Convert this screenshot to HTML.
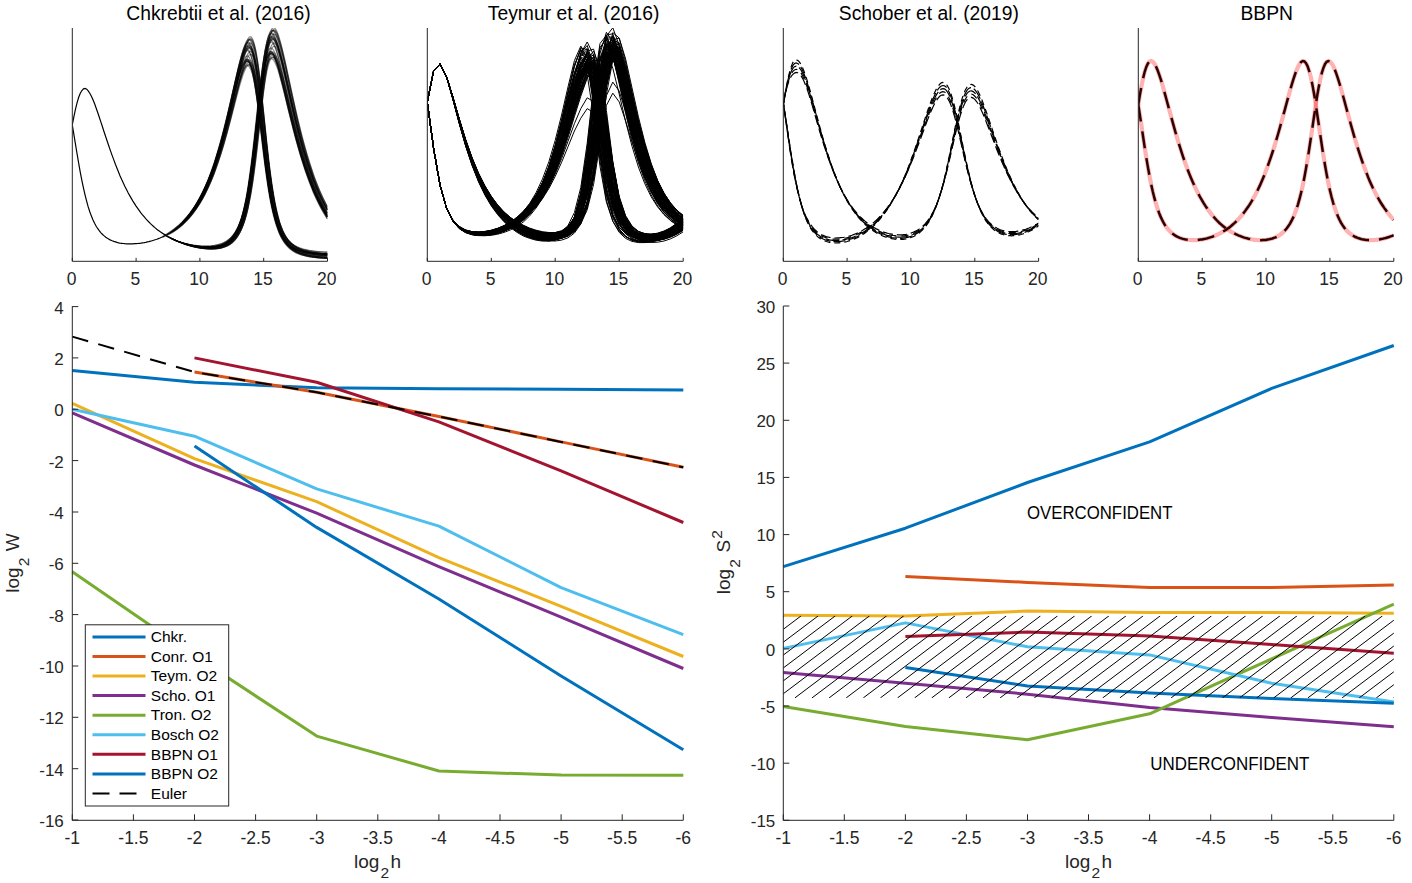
<!DOCTYPE html>
<html><head><meta charset="utf-8"><style>html,body{margin:0;padding:0;background:#fff;overflow:hidden}svg{display:block}text{font-family:"Liberation Sans",sans-serif}</style></head>
<body><svg width="1412" height="883" viewBox="0 0 1412 883"><defs><clipPath id="clip0"><rect x="72.3" y="28.0" width="255.2" height="233.3"/></clipPath><clipPath id="clip1"><rect x="427.3" y="28.0" width="255.9" height="233.3"/></clipPath><clipPath id="clip2"><rect x="783.3" y="28.0" width="255.3" height="233.3"/></clipPath><clipPath id="clip3"><rect x="1138.3" y="28.0" width="255.5" height="233.3"/></clipPath></defs><rect width="1412" height="883" fill="#fff"/>
<g clip-path="url(#clip0)">
<linearGradient id="chkm" gradientUnits="userSpaceOnUse" x1="174.4" y1="0" x2="199.9" y2="0"><stop offset="0" stop-color="#000" stop-opacity="1"/><stop offset="1" stop-color="#000" stop-opacity="0"/></linearGradient>
<path d="M72.3 125.0L73.9 134.6L75.5 144.4L77.1 154.0L78.7 163.4L80.3 172.3L81.9 180.6L83.5 188.2L85.1 195.1L86.7 201.4L88.2 206.9L89.8 211.8L91.4 216.1L93.0 219.9L94.6 223.3L96.2 226.2L97.8 228.7L99.4 230.9L101.0 232.8L102.6 234.5L104.2 235.9L105.8 237.2L107.4 238.3L109.0 239.2L110.6 240.1L112.2 240.8L113.8 241.4L115.4 241.9L117.0 242.4L118.6 242.8L120.1 243.1L121.7 243.3L123.3 243.5L124.9 243.7L126.5 243.8L128.1 243.9L129.7 243.9L131.3 243.9L132.9 243.8L134.5 243.7L136.1 243.6L137.7 243.5L139.3 243.3L140.9 243.1L142.5 242.8L144.1 242.6L145.7 242.3L147.3 241.9L148.9 241.6L150.5 241.2L152.1 240.7L153.6 240.2L155.2 239.7L156.8 239.2L158.4 238.6L160.0 238.0L161.6 237.3L163.2 236.6L164.8 235.8L166.4 235.0L168.0 234.1L169.6 233.2L171.2 232.3L172.8 231.2L174.4 230.1L176.0 229.0L177.6 227.7L179.2 226.4L180.8 225.0L182.4 223.5L183.9 222.0L185.5 220.3L187.1 218.6L188.7 216.7L190.3 214.8L191.9 212.7L193.5 210.5L195.1 208.2L196.7 205.7L198.3 203.1L199.9 200.4L201.5 197.5L203.1 194.4L204.7 191.2L206.3 187.8L207.9 184.2L209.5 180.4L211.1 176.4L212.7 172.2L214.3 167.8L215.8 163.2L217.4 158.4L219.0 153.3L220.6 148.0L222.2 142.4L223.8 136.6L225.4 130.7L227.0 124.5L228.6 118.1L230.2 111.5L231.8 104.8L233.4 98.1L235.0 91.3L236.6 84.6L238.2 78.0L239.8 71.7L241.4 65.9L243.0 60.6L244.6 56.2L246.2 52.9L247.8 50.8L249.3 50.4L250.9 51.9L252.5 55.4L254.1 61.2L255.7 69.2L257.3 79.3L258.9 91.3L260.5 104.7L262.1 118.9L263.7 133.4L265.3 147.7L266.9 161.3L268.5 173.8L270.1 185.1L271.7 195.2L273.3 203.9L274.9 211.5L276.5 217.9L278.1 223.4L279.6 228.0L281.2 232.0L282.8 235.3L284.4 238.1L286.0 240.5L287.6 242.5L289.2 244.2L290.8 245.7L292.4 247.0L294.0 248.1L295.6 249.0L297.2 249.8L298.8 250.5L300.4 251.2L302.0 251.7L303.6 252.2L305.2 252.6L306.8 253.0L308.4 253.4L310.0 253.7L311.6 253.9L313.1 254.2L314.7 254.4L316.3 254.6L317.9 254.7L319.5 254.9L321.1 255.0L322.7 255.1L324.3 255.3L325.9 255.3L327.5 255.4" fill="none" stroke="url(#chkm)" stroke-width="1.2"/>
<path d="M72.3 125.0L73.9 116.6L75.5 109.1L77.1 102.6L78.7 97.3L80.3 93.2L81.9 90.5L83.5 88.9L85.1 88.5L86.7 89.2L88.2 90.8L89.8 93.2L91.4 96.2L93.0 99.8L94.6 103.8L96.2 108.2L97.8 112.8L99.4 117.5L101.0 122.4L102.6 127.3L104.2 132.2L105.8 137.0L107.4 141.8L109.0 146.5L110.6 151.1L112.2 155.6L113.8 159.9L115.4 164.2L117.0 168.2L118.6 172.2L120.1 175.9L121.7 179.6L123.3 183.0L124.9 186.4L126.5 189.6L128.1 192.7L129.7 195.6L131.3 198.4L132.9 201.1L134.5 203.6L136.1 206.1L137.7 208.4L139.3 210.6L140.9 212.8L142.5 214.8L144.1 216.7L145.7 218.6L147.3 220.3L148.9 222.0L150.5 223.6L152.1 225.1L153.6 226.5L155.2 227.9L156.8 229.2L158.4 230.4L160.0 231.6L161.6 232.7L163.2 233.8L164.8 234.8L166.4 235.8L168.0 236.7L169.6 237.5L171.2 238.4L172.8 239.1L174.4 239.9L176.0 240.6L177.6 241.2L179.2 241.9L180.8 242.4L182.4 243.0L183.9 243.5L185.5 244.0L187.1 244.5L188.7 244.9L190.3 245.3L191.9 245.6L193.5 246.0L195.1 246.3L196.7 246.6L198.3 246.8L199.9 247.0L201.5 247.2L203.1 247.4L204.7 247.5L206.3 247.6L207.9 247.6L209.5 247.6L211.1 247.6L212.7 247.5L214.3 247.4L215.8 247.2L217.4 247.0L219.0 246.6L220.6 246.3L222.2 245.8L223.8 245.2L225.4 244.5L227.0 243.7L228.6 242.7L230.2 241.5L231.8 240.1L233.4 238.5L235.0 236.5L236.6 234.2L238.2 231.4L239.8 228.1L241.4 224.2L243.0 219.6L244.6 214.1L246.2 207.6L247.8 200.1L249.3 191.3L250.9 181.1L252.5 169.7L254.1 157.0L255.7 143.3L257.3 128.8L258.9 113.9L260.5 99.4L262.1 85.6L263.7 73.2L265.3 62.6L266.9 54.1L268.5 47.9L270.1 43.9L271.7 42.1L273.3 42.2L274.9 44.0L276.5 47.2L278.1 51.5L279.6 56.7L281.2 62.6L282.8 69.0L284.4 75.7L286.0 82.6L287.6 89.7L289.2 96.7L290.8 103.7L292.4 110.6L294.0 117.4L295.6 124.0L297.2 130.4L298.8 136.6L300.4 142.6L302.0 148.4L303.6 154.0L305.2 159.3L306.8 164.4L308.4 169.3L310.0 174.0L311.6 178.4L313.1 182.7L314.7 186.8L316.3 190.6L317.9 194.3L319.5 197.8L321.1 201.1L322.7 204.3L324.3 207.3L325.9 210.2L327.5 212.9" fill="none" stroke="url(#chkm)" stroke-width="1.2"/>
<linearGradient id="chkg" gradientUnits="userSpaceOnUse" x1="161.6" y1="0" x2="199.9" y2="0"><stop offset="0" stop-color="#000" stop-opacity="0"/><stop offset="1" stop-color="#000" stop-opacity="0.45"/></linearGradient>
<path d="M161.6 238.1L163.2 237.4L164.8 236.7L166.4 235.9L168.0 235.1L169.6 234.2L171.2 233.3L172.8 232.3L174.4 231.3L176.0 230.2L177.6 229.0L179.2 227.7L180.8 226.4L182.4 225.0L183.9 223.5L185.5 221.9L187.1 220.3L188.7 218.5L190.3 216.7L191.9 214.7L193.5 212.7L195.1 210.5L196.7 208.2L198.3 205.8L199.9 203.2L201.5 200.5L203.1 197.7L204.7 194.6L206.3 191.5L207.9 188.1L209.5 184.6L211.1 180.9L212.7 177.1L214.3 173.0L215.8 168.7L217.4 164.2L219.0 159.5L220.6 154.5L222.2 149.4L223.8 144.0L225.4 138.4L227.0 132.6L228.6 126.6L230.2 120.5L231.8 114.1L233.4 107.7L235.0 101.1L236.6 94.6L238.2 88.0L239.8 81.7L241.4 75.6L243.0 69.9L244.6 64.7L246.2 60.4L247.8 57.0L249.3 55.0L250.9 54.4L252.5 55.6L254.1 58.7L255.7 64.1L257.3 71.7L258.9 81.4L260.5 93.0L262.1 106.0L263.7 119.9L265.3 134.2L266.9 148.3L268.5 161.7L270.1 174.2L271.7 185.4L273.3 195.3L274.9 203.9L276.5 211.3L278.1 217.6L279.6 223.0L281.2 227.5L282.8 231.3L284.4 234.5L286.0 237.3L287.6 239.6L289.2 241.5L290.8 243.2L292.4 244.6L294.0 245.8L295.6 246.8L297.2 247.7L298.8 248.5L300.4 249.2L302.0 249.8L303.6 250.3L305.2 250.8L306.8 251.2L308.4 251.6L310.0 251.9L311.6 252.2L313.1 252.4L314.7 252.7L316.3 252.9L317.9 253.1L319.5 253.2L321.1 253.4L322.7 253.5L324.3 253.6L325.9 253.7L327.5 253.8" fill="none" stroke="url(#chkg)" stroke-width="1.2"/>
<path d="M161.6 232.7L163.2 233.7L164.8 234.8L166.4 235.7L168.0 236.7L169.6 237.5L171.2 238.4L172.8 239.2L174.4 239.9L176.0 240.6L177.6 241.2L179.2 241.8L180.8 242.4L182.4 242.9L183.9 243.4L185.5 243.9L187.1 244.3L188.7 244.8L190.3 245.1L191.9 245.5L193.5 245.8L195.1 246.1L196.7 246.3L198.3 246.6L199.9 246.8L201.5 247.0L203.1 247.1L204.7 247.2L206.3 247.3L207.9 247.3L209.5 247.4L211.1 247.3L212.7 247.3L214.3 247.2L215.8 247.0L217.4 246.8L219.0 246.6L220.6 246.2L222.2 245.9L223.8 245.4L225.4 244.8L227.0 244.1L228.6 243.3L230.2 242.4L231.8 241.3L233.4 240.0L235.0 238.4L236.6 236.5L238.2 234.3L239.8 231.7L241.4 228.7L243.0 225.0L244.6 220.6L246.2 215.5L247.8 209.4L249.3 202.2L250.9 193.8L252.5 184.2L254.1 173.2L255.7 161.0L257.3 147.6L258.9 133.4L260.5 118.8L262.1 104.4L263.7 90.7L265.3 78.3L266.9 67.6L268.5 59.0L270.1 52.6L271.7 48.5L273.3 46.5L274.9 46.4L276.5 48.0L278.1 51.0L279.6 55.2L281.2 60.2L282.8 65.9L284.4 72.1L286.0 78.6L287.6 85.3L289.2 92.2L290.8 99.0L292.4 105.8L294.0 112.5L295.6 119.1L297.2 125.5L298.8 131.8L300.4 137.8L302.0 143.7L303.6 149.3L305.2 154.7L306.8 159.9L308.4 164.8L310.0 169.6L311.6 174.1L313.1 178.5L314.7 182.6L316.3 186.6L317.9 190.3L319.5 193.9L321.1 197.3L322.7 200.6L324.3 203.6L325.9 206.6L327.5 209.3" fill="none" stroke="url(#chkg)" stroke-width="1.2"/>
<path d="M161.6 237.1L163.2 236.4L164.8 235.6L166.4 234.8L168.0 234.0L169.6 233.0L171.2 232.0L172.8 231.0L174.4 229.9L176.0 228.7L177.6 227.5L179.2 226.3L180.8 224.9L182.4 223.5L183.9 222.0L185.5 220.4L187.1 218.7L188.7 216.9L190.3 215.0L191.9 213.0L193.5 210.9L195.1 208.7L196.7 206.3L198.3 203.8L199.9 201.2L201.5 198.4L203.1 195.5L204.7 192.4L206.3 189.1L207.9 185.7L209.5 182.1L211.1 178.3L212.7 174.4L214.3 170.2L215.8 165.8L217.4 161.2L219.0 156.4L220.6 151.4L222.2 146.2L223.8 140.8L225.4 135.3L227.0 129.5L228.6 123.6L230.2 117.5L231.8 111.3L233.4 105.1L235.0 99.0L236.6 92.9L238.2 87.0L239.8 81.4L241.4 76.3L243.0 71.8L244.6 68.1L246.2 65.5L247.8 64.2L249.3 64.5L250.9 66.6L252.5 70.3L254.1 76.2L255.7 84.1L257.3 93.9L258.9 105.3L260.5 118.0L262.1 131.3L263.7 144.8L265.3 158.0L266.9 170.4L268.5 181.9L270.1 192.2L271.7 201.3L273.3 209.2L274.9 216.0L276.5 221.8L278.1 226.8L279.6 231.0L281.2 234.5L282.8 237.5L284.4 240.0L286.0 242.2L287.6 244.0L289.2 245.6L290.8 246.9L292.4 248.1L294.0 249.1L295.6 249.9L297.2 250.7L298.8 251.3L300.4 251.9L302.0 252.4L303.6 252.8L305.2 253.2L306.8 253.6L308.4 253.9L310.0 254.2L311.6 254.4L313.1 254.6L314.7 254.8L316.3 255.0L317.9 255.2L319.5 255.3L321.1 255.4L322.7 255.5L324.3 255.6L325.9 255.7L327.5 255.8" fill="none" stroke="url(#chkg)" stroke-width="1.2"/>
<path d="M161.6 232.7L163.2 233.8L164.8 234.8L166.4 235.8L168.0 236.7L169.6 237.5L171.2 238.4L172.8 239.1L174.4 239.9L176.0 240.6L177.6 241.3L179.2 241.9L180.8 242.5L182.4 243.1L183.9 243.6L185.5 244.2L187.1 244.6L188.7 245.1L190.3 245.5L191.9 245.9L193.5 246.2L195.1 246.5L196.7 246.8L198.3 247.1L199.9 247.3L201.5 247.5L203.1 247.6L204.7 247.8L206.3 247.9L207.9 247.9L209.5 247.9L211.1 247.9L212.7 247.9L214.3 247.7L215.8 247.6L217.4 247.3L219.0 247.0L220.6 246.7L222.2 246.2L223.8 245.7L225.4 245.0L227.0 244.2L228.6 243.2L230.2 242.1L231.8 240.7L233.4 239.1L235.0 237.2L236.6 235.0L238.2 232.3L239.8 229.1L241.4 225.3L243.0 220.8L244.6 215.5L246.2 209.3L247.8 202.0L249.3 193.6L250.9 184.0L252.5 173.1L254.1 161.1L255.7 148.1L257.3 134.5L258.9 120.7L260.5 107.3L262.1 94.7L263.7 83.5L265.3 74.1L266.9 66.6L268.5 61.3L270.1 58.1L271.7 56.8L273.3 57.3L274.9 59.2L276.5 62.4L278.1 66.6L279.6 71.6L281.2 77.2L282.8 83.3L284.4 89.6L286.0 96.0L287.6 102.6L289.2 109.2L290.8 115.7L292.4 122.1L294.0 128.4L295.6 134.5L297.2 140.5L298.8 146.2L300.4 151.8L302.0 157.1L303.6 162.3L305.2 167.2L306.8 171.9L308.4 176.4L310.0 180.8L311.6 184.9L313.1 188.8L314.7 192.6L316.3 196.1L317.9 199.5L319.5 202.8L321.1 205.9L322.7 208.8L324.3 211.6L325.9 214.2L327.5 216.7" fill="none" stroke="url(#chkg)" stroke-width="1.2"/>
<path d="M161.6 237.3L163.2 236.6L164.8 235.9L166.4 235.1L168.0 234.2L169.6 233.3L171.2 232.3L172.8 231.3L174.4 230.2L176.0 229.0L177.6 227.8L179.2 226.5L180.8 225.1L182.4 223.6L183.9 222.1L185.5 220.5L187.1 218.7L188.7 216.9L190.3 215.0L191.9 213.0L193.5 210.8L195.1 208.6L196.7 206.2L198.3 203.7L199.9 201.0L201.5 198.2L203.1 195.3L204.7 192.2L206.3 188.9L207.9 185.4L209.5 181.8L211.1 178.0L212.7 174.0L214.3 169.8L215.8 165.3L217.4 160.7L219.0 155.9L220.6 150.8L222.2 145.6L223.8 140.1L225.4 134.5L227.0 128.6L228.6 122.6L230.2 116.4L231.8 110.2L233.4 103.8L235.0 97.5L236.6 91.2L238.2 85.1L239.8 79.2L241.4 73.8L243.0 69.0L244.6 64.9L246.2 61.9L247.8 60.1L249.3 59.8L250.9 61.3L252.5 64.5L254.1 69.8L255.7 77.3L257.3 86.8L258.9 98.0L260.5 110.6L262.1 124.1L263.7 137.8L265.3 151.3L266.9 164.2L268.5 176.2L270.1 187.0L271.7 196.5L273.3 204.9L274.9 212.1L276.5 218.2L278.1 223.4L279.6 227.9L281.2 231.6L282.8 234.8L284.4 237.5L286.0 239.7L287.6 241.7L289.2 243.3L290.8 244.7L292.4 245.9L294.0 247.0L295.6 247.9L297.2 248.7L298.8 249.3L300.4 249.9L302.0 250.5L303.6 250.9L305.2 251.3L306.8 251.7L308.4 252.0L310.0 252.3L311.6 252.6L313.1 252.8L314.7 253.0L316.3 253.2L317.9 253.3L319.5 253.5L321.1 253.6L322.7 253.7L324.3 253.8L325.9 253.9L327.5 254.0" fill="none" stroke="url(#chkg)" stroke-width="1.2"/>
<path d="M161.6 232.7L163.2 233.8L164.8 234.8L166.4 235.8L168.0 236.7L169.6 237.5L171.2 238.4L172.8 239.1L174.4 239.9L176.0 240.6L177.6 241.2L179.2 241.8L180.8 242.4L182.4 242.9L183.9 243.4L185.5 243.9L187.1 244.3L188.7 244.7L190.3 245.1L191.9 245.4L193.5 245.7L195.1 246.0L196.7 246.3L198.3 246.5L199.9 246.7L201.5 246.8L203.1 247.0L204.7 247.1L206.3 247.1L207.9 247.2L209.5 247.1L211.1 247.1L212.7 247.0L214.3 246.9L215.8 246.7L217.4 246.4L219.0 246.1L220.6 245.7L222.2 245.2L223.8 244.7L225.4 244.0L227.0 243.2L228.6 242.2L230.2 241.1L231.8 239.7L233.4 238.2L235.0 236.3L236.6 234.1L238.2 231.5L239.8 228.4L241.4 224.7L243.0 220.3L244.6 215.2L246.2 209.1L247.8 202.0L249.3 193.8L250.9 184.3L252.5 173.6L254.1 161.6L255.7 148.7L257.3 135.0L258.9 120.9L260.5 107.1L262.1 94.0L263.7 82.2L265.3 72.0L266.9 63.9L268.5 57.9L270.1 54.0L271.7 52.2L273.3 52.2L274.9 53.8L276.5 56.8L278.1 60.8L279.6 65.7L281.2 71.2L282.8 77.2L284.4 83.6L286.0 90.1L287.6 96.8L289.2 103.4L290.8 110.1L292.4 116.6L294.0 123.0L295.6 129.3L297.2 135.4L298.8 141.2L300.4 146.9L302.0 152.4L303.6 157.7L305.2 162.7L306.8 167.6L308.4 172.2L310.0 176.7L311.6 180.9L313.1 184.9L314.7 188.8L316.3 192.5L317.9 196.0L319.5 199.3L321.1 202.4L322.7 205.4L324.3 208.3L325.9 211.0L327.5 213.6" fill="none" stroke="url(#chkg)" stroke-width="1.2"/>
<path d="M161.6 238.0L163.2 237.4L164.8 236.6L166.4 235.9L168.0 235.0L169.6 234.2L171.2 233.2L172.8 232.3L174.4 231.2L176.0 230.1L177.6 228.9L179.2 227.7L180.8 226.4L182.4 225.0L183.9 223.5L185.5 222.0L187.1 220.3L188.7 218.6L190.3 216.7L191.9 214.8L193.5 212.7L195.1 210.5L196.7 208.2L198.3 205.8L199.9 203.2L201.5 200.5L203.1 197.6L204.7 194.6L206.3 191.4L207.9 188.0L209.5 184.4L211.1 180.7L212.7 176.7L214.3 172.6L215.8 168.2L217.4 163.6L219.0 158.8L220.6 153.8L222.2 148.5L223.8 143.0L225.4 137.3L227.0 131.4L228.6 125.2L230.2 118.9L231.8 112.4L233.4 105.8L235.0 99.0L236.6 92.3L238.2 85.6L239.8 79.1L241.4 72.8L243.0 67.0L244.6 61.7L246.2 57.3L247.8 53.9L249.3 51.8L250.9 51.3L252.5 52.6L254.1 56.0L255.7 61.7L257.3 69.6L258.9 79.7L260.5 91.7L262.1 105.2L263.7 119.5L265.3 134.1L266.9 148.5L268.5 162.2L270.1 174.8L271.7 186.2L273.3 196.2L274.9 205.0L276.5 212.5L278.1 218.9L279.6 224.3L281.2 228.9L282.8 232.8L284.4 236.0L286.0 238.8L287.6 241.1L289.2 243.1L290.8 244.8L292.4 246.2L294.0 247.4L295.6 248.5L297.2 249.4L298.8 250.2L300.4 250.9L302.0 251.5L303.6 252.1L305.2 252.5L306.8 252.9L308.4 253.3L310.0 253.6L311.6 253.9L313.1 254.2L314.7 254.4L316.3 254.6L317.9 254.8L319.5 255.0L321.1 255.1L322.7 255.3L324.3 255.4L325.9 255.5L327.5 255.6" fill="none" stroke="url(#chkg)" stroke-width="1.2"/>
<path d="M161.6 232.7L163.2 233.7L164.8 234.8L166.4 235.7L168.0 236.7L169.6 237.5L171.2 238.4L172.8 239.2L174.4 239.9L176.0 240.6L177.6 241.3L179.2 241.9L180.8 242.5L182.4 243.1L183.9 243.6L185.5 244.1L187.1 244.6L188.7 245.0L190.3 245.5L191.9 245.8L193.5 246.2L195.1 246.5L196.7 246.8L198.3 247.1L199.9 247.3L201.5 247.5L203.1 247.7L204.7 247.8L206.3 248.0L207.9 248.0L209.5 248.1L211.1 248.1L212.7 248.1L214.3 248.0L215.8 247.9L217.4 247.7L219.0 247.5L220.6 247.2L222.2 246.8L223.8 246.3L225.4 245.8L227.0 245.1L228.6 244.3L230.2 243.4L231.8 242.3L233.4 240.9L235.0 239.3L236.6 237.4L238.2 235.2L239.8 232.5L241.4 229.3L243.0 225.6L244.6 221.1L246.2 215.7L247.8 209.4L249.3 202.0L250.9 193.3L252.5 183.3L254.1 172.0L255.7 159.3L257.3 145.6L258.9 131.0L260.5 116.1L262.1 101.3L263.7 87.4L265.3 74.8L266.9 64.0L268.5 55.4L270.1 49.0L271.7 45.0L273.3 43.1L274.9 43.2L276.5 44.9L278.1 48.1L279.6 52.4L281.2 57.6L282.8 63.5L284.4 69.8L286.0 76.5L287.6 83.5L289.2 90.5L290.8 97.5L292.4 104.4L294.0 111.3L295.6 118.1L297.2 124.6L298.8 131.0L300.4 137.2L302.0 143.2L303.6 148.9L305.2 154.4L306.8 159.7L308.4 164.8L310.0 169.7L311.6 174.3L313.1 178.7L314.7 183.0L316.3 187.0L317.9 190.8L319.5 194.5L321.1 198.0L322.7 201.3L324.3 204.4L325.9 207.4L327.5 210.2" fill="none" stroke="url(#chkg)" stroke-width="1.2"/>
<path d="M161.6 237.4L163.2 236.7L164.8 236.0L166.4 235.2L168.0 234.3L169.6 233.4L171.2 232.4L172.8 231.4L174.4 230.3L176.0 229.1L177.6 227.9L179.2 226.5L180.8 225.1L182.4 223.6L183.9 222.0L185.5 220.3L187.1 218.5L188.7 216.7L190.3 214.7L191.9 212.6L193.5 210.3L195.1 208.0L196.7 205.5L198.3 202.9L199.9 200.1L201.5 197.1L203.1 194.0L204.7 190.8L206.3 187.3L207.9 183.7L209.5 179.9L211.1 175.8L212.7 171.6L214.3 167.1L215.8 162.4L217.4 157.5L219.0 152.4L220.6 147.0L222.2 141.4L223.8 135.5L225.4 129.4L227.0 123.1L228.6 116.6L230.2 109.9L231.8 103.1L233.4 96.2L235.0 89.2L236.6 82.3L238.2 75.5L239.8 69.0L241.4 62.9L243.0 57.3L244.6 52.6L246.2 48.8L247.8 46.4L249.3 45.6L250.9 46.6L252.5 49.8L254.1 55.2L255.7 62.9L257.3 72.9L258.9 84.7L260.5 98.1L262.1 112.5L263.7 127.3L265.3 141.9L266.9 155.9L268.5 168.9L270.1 180.6L271.7 191.1L273.3 200.2L274.9 208.1L276.5 214.8L278.1 220.5L279.6 225.4L281.2 229.5L282.8 232.9L284.4 235.9L286.0 238.4L287.6 240.5L289.2 242.3L290.8 243.8L292.4 245.1L294.0 246.3L295.6 247.2L297.2 248.1L298.8 248.8L300.4 249.5L302.0 250.1L303.6 250.6L305.2 251.0L306.8 251.4L308.4 251.8L310.0 252.1L311.6 252.3L313.1 252.6L314.7 252.8L316.3 253.0L317.9 253.2L319.5 253.3L321.1 253.5L322.7 253.6L324.3 253.7L325.9 253.8L327.5 253.9" fill="none" stroke="url(#chkg)" stroke-width="1.2"/>
<path d="M161.6 232.7L163.2 233.8L164.8 234.8L166.4 235.8L168.0 236.7L169.6 237.5L171.2 238.4L172.8 239.1L174.4 239.9L176.0 240.5L177.6 241.2L179.2 241.8L180.8 242.3L182.4 242.8L183.9 243.3L185.5 243.8L187.1 244.2L188.7 244.6L190.3 245.0L191.9 245.3L193.5 245.6L195.1 245.9L196.7 246.1L198.3 246.3L199.9 246.5L201.5 246.7L203.1 246.8L204.7 246.9L206.3 246.9L207.9 247.0L209.5 246.9L211.1 246.9L212.7 246.8L214.3 246.6L215.8 246.4L217.4 246.1L219.0 245.8L220.6 245.4L222.2 244.9L223.8 244.3L225.4 243.6L227.0 242.7L228.6 241.7L230.2 240.6L231.8 239.2L233.4 237.5L235.0 235.6L236.6 233.2L238.2 230.5L239.8 227.2L241.4 223.4L243.0 218.8L244.6 213.4L246.2 207.0L247.8 199.4L249.3 190.7L250.9 180.6L252.5 169.3L254.1 156.6L255.7 142.8L257.3 128.1L258.9 113.0L260.5 98.1L262.1 83.9L263.7 70.9L265.3 59.8L266.9 50.7L268.5 44.0L270.1 39.5L271.7 37.3L273.3 37.1L274.9 38.6L276.5 41.6L278.1 45.8L279.6 50.9L281.2 56.8L282.8 63.2L284.4 70.0L286.0 77.0L287.6 84.1L289.2 91.3L290.8 98.4L292.4 105.5L294.0 112.4L295.6 119.1L297.2 125.7L298.8 132.0L300.4 138.2L302.0 144.1L303.6 149.8L305.2 155.2L306.8 160.5L308.4 165.5L310.0 170.2L311.6 174.8L313.1 179.2L314.7 183.3L316.3 187.3L317.9 191.1L319.5 194.7L321.1 198.1L322.7 201.3L324.3 204.4L325.9 207.3L327.5 210.1" fill="none" stroke="url(#chkg)" stroke-width="1.2"/>
<path d="M161.6 236.4L163.2 235.6L164.8 234.8L166.4 234.0L168.0 233.1L169.6 232.1L171.2 231.1L172.8 230.0L174.4 228.8L176.0 227.5L177.6 226.2L179.2 224.9L180.8 223.4L182.4 221.8L183.9 220.2L185.5 218.5L187.1 216.6L188.7 214.7L190.3 212.6L191.9 210.4L193.5 208.2L195.1 205.7L196.7 203.2L198.3 200.5L199.9 197.6L201.5 194.6L203.1 191.5L204.7 188.1L206.3 184.6L207.9 180.9L209.5 177.0L211.1 172.9L212.7 168.6L214.3 164.1L215.8 159.4L217.4 154.5L219.0 149.4L220.6 144.0L222.2 138.5L223.8 132.7L225.4 126.8L227.0 120.6L228.6 114.4L230.2 108.0L231.8 101.7L233.4 95.3L235.0 89.0L236.6 82.9L238.2 77.1L239.8 71.8L241.4 67.1L243.0 63.3L244.6 60.5L246.2 59.1L247.8 59.2L249.3 61.2L250.9 65.1L252.5 71.0L254.1 78.9L255.7 88.8L257.3 100.4L258.9 113.1L260.5 126.5L262.1 140.1L263.7 153.5L265.3 166.1L266.9 177.7L268.5 188.2L270.1 197.5L271.7 205.6L273.3 212.6L274.9 218.6L276.5 223.7L278.1 228.1L279.6 231.8L281.2 234.9L282.8 237.5L284.4 239.8L286.0 241.7L287.6 243.4L289.2 244.8L290.8 246.0L292.4 247.0L294.0 247.9L295.6 248.7L297.2 249.4L298.8 250.0L300.4 250.5L302.0 251.0L303.6 251.4L305.2 251.8L306.8 252.1L308.4 252.4L310.0 252.7L311.6 252.9L313.1 253.1L314.7 253.3L316.3 253.4L317.9 253.6L319.5 253.7L321.1 253.8L322.7 253.9L324.3 254.0L325.9 254.0L327.5 254.1" fill="none" stroke="url(#chkg)" stroke-width="1.2"/>
<path d="M161.6 232.8L163.2 233.8L164.8 234.8L166.4 235.8L168.0 236.7L169.6 237.5L171.2 238.3L172.8 239.1L174.4 239.8L176.0 240.5L177.6 241.1L179.2 241.7L180.8 242.3L182.4 242.8L183.9 243.3L185.5 243.8L187.1 244.2L188.7 244.6L190.3 244.9L191.9 245.3L193.5 245.6L195.1 245.8L196.7 246.1L198.3 246.3L199.9 246.4L201.5 246.6L203.1 246.7L204.7 246.8L206.3 246.8L207.9 246.8L209.5 246.7L211.1 246.6L212.7 246.5L214.3 246.2L215.8 246.0L217.4 245.6L219.0 245.2L220.6 244.7L222.2 244.1L223.8 243.4L225.4 242.5L227.0 241.5L228.6 240.2L230.2 238.8L231.8 237.1L233.4 235.1L235.0 232.7L236.6 229.9L238.2 226.5L239.8 222.6L241.4 217.9L243.0 212.5L244.6 206.0L246.2 198.5L247.8 189.9L249.3 180.0L250.9 169.0L252.5 156.8L254.1 143.7L255.7 129.9L257.3 116.0L258.9 102.5L260.5 89.8L262.1 78.5L263.7 69.0L265.3 61.4L266.9 56.0L268.5 52.7L270.1 51.3L271.7 51.7L273.3 53.7L274.9 56.9L276.5 61.1L278.1 66.2L279.6 71.8L281.2 77.9L282.8 84.3L284.4 90.9L286.0 97.6L287.6 104.3L289.2 111.0L290.8 117.5L292.4 123.9L294.0 130.2L295.6 136.3L297.2 142.2L298.8 147.9L300.4 153.4L302.0 158.6L303.6 163.7L305.2 168.5L306.8 173.2L308.4 177.6L310.0 181.8L311.6 185.9L313.1 189.7L314.7 193.4L316.3 196.8L317.9 200.2L319.5 203.3L321.1 206.3L322.7 209.2L324.3 211.9L325.9 214.4L327.5 216.8" fill="none" stroke="url(#chkg)" stroke-width="1.2"/>
<path d="M161.6 236.9L163.2 236.2L164.8 235.4L166.4 234.6L168.0 233.7L169.6 232.7L171.2 231.7L172.8 230.7L174.4 229.6L176.0 228.4L177.6 227.3L179.2 226.0L180.8 224.7L182.4 223.3L183.9 221.8L185.5 220.2L187.1 218.5L188.7 216.7L190.3 214.8L191.9 212.8L193.5 210.6L195.1 208.4L196.7 206.0L198.3 203.4L199.9 200.8L201.5 197.9L203.1 195.0L204.7 191.8L206.3 188.5L207.9 185.0L209.5 181.3L211.1 177.4L212.7 173.3L214.3 169.0L215.8 164.5L217.4 159.8L219.0 154.8L220.6 149.7L222.2 144.3L223.8 138.7L225.4 132.9L227.0 126.9L228.6 120.8L230.2 114.6L231.8 108.2L233.4 101.8L235.0 95.5L236.6 89.2L238.2 83.2L239.8 77.6L241.4 72.4L243.0 68.0L244.6 64.5L246.2 62.1L247.8 61.2L249.3 61.9L250.9 64.6L252.5 69.1L254.1 75.7L255.7 84.5L257.3 95.1L258.9 107.3L260.5 120.5L262.1 134.3L263.7 148.1L265.3 161.5L266.9 174.0L268.5 185.4L270.1 195.6L271.7 204.6L273.3 212.4L274.9 219.2L276.5 224.9L278.1 229.7L279.6 233.9L281.2 237.3L282.8 240.3L284.4 242.8L286.0 244.9L287.6 246.7L289.2 248.3L290.8 249.6L292.4 250.8L294.0 251.7L295.6 252.6L297.2 253.4L298.8 254.0L300.4 254.6L302.0 255.1L303.6 255.5L305.2 255.9L306.8 256.3L308.4 256.6L310.0 256.9L311.6 257.1L313.1 257.3L314.7 257.5L316.3 257.7L317.9 257.8L319.5 258.0L321.1 258.1L322.7 258.2L324.3 258.3L325.9 258.4L327.5 258.4" fill="none" stroke="url(#chkg)" stroke-width="1.2"/>
<path d="M161.6 232.7L163.2 233.8L164.8 234.8L166.4 235.8L168.0 236.7L169.6 237.5L171.2 238.4L172.8 239.1L174.4 239.9L176.0 240.6L177.6 241.4L179.2 242.1L180.8 242.7L182.4 243.3L183.9 243.9L185.5 244.5L187.1 245.0L188.7 245.5L190.3 245.9L191.9 246.4L193.5 246.8L195.1 247.1L196.7 247.5L198.3 247.8L199.9 248.1L201.5 248.3L203.1 248.5L204.7 248.7L206.3 248.8L207.9 248.9L209.5 249.0L211.1 249.0L212.7 249.0L214.3 248.9L215.8 248.7L217.4 248.5L219.0 248.3L220.6 247.9L222.2 247.5L223.8 246.9L225.4 246.2L227.0 245.4L228.6 244.4L230.2 243.2L231.8 241.8L233.4 240.1L235.0 238.1L236.6 235.7L238.2 232.8L239.8 229.4L241.4 225.3L243.0 220.5L244.6 214.8L246.2 208.1L247.8 200.2L249.3 191.2L250.9 181.0L252.5 169.4L254.1 156.7L255.7 143.1L257.3 129.0L258.9 114.9L260.5 101.4L262.1 88.8L263.7 77.8L265.3 68.8L266.9 61.8L268.5 57.0L270.1 54.3L271.7 53.5L273.3 54.4L274.9 56.9L276.5 60.5L278.1 65.1L279.6 70.4L281.2 76.3L282.8 82.6L284.4 89.2L286.0 95.9L287.6 102.7L289.2 109.4L290.8 116.1L292.4 122.7L294.0 129.1L295.6 135.4L297.2 141.4L298.8 147.3L300.4 153.0L302.0 158.4L303.6 163.7L305.2 168.7L306.8 173.5L308.4 178.1L310.0 182.5L311.6 186.7L313.1 190.7L314.7 194.5L316.3 198.1L317.9 201.6L319.5 204.9L321.1 208.0L322.7 211.0L324.3 213.8L325.9 216.5L327.5 219.0" fill="none" stroke="url(#chkg)" stroke-width="1.2"/>
<path d="M161.6 236.4L163.2 235.6L164.8 234.8L166.4 233.9L168.0 233.0L169.6 232.0L171.2 231.0L172.8 229.9L174.4 228.7L176.0 227.5L177.6 226.3L179.2 224.9L180.8 223.5L182.4 222.0L183.9 220.4L185.5 218.7L187.1 216.9L188.7 215.0L190.3 213.0L191.9 210.8L193.5 208.6L195.1 206.2L196.7 203.7L198.3 201.0L199.9 198.2L201.5 195.2L203.1 192.1L204.7 188.8L206.3 185.3L207.9 181.6L209.5 177.8L211.1 173.7L212.7 169.5L214.3 165.0L215.8 160.3L217.4 155.4L219.0 150.3L220.6 145.0L222.2 139.4L223.8 133.7L225.4 127.8L227.0 121.7L228.6 115.5L230.2 109.1L231.8 102.8L233.4 96.4L235.0 90.2L236.6 84.1L238.2 78.4L239.8 73.1L241.4 68.5L243.0 64.7L244.6 62.1L246.2 60.7L247.8 61.0L249.3 63.0L250.9 67.1L252.5 73.1L254.1 81.2L255.7 91.1L257.3 102.7L258.9 115.5L260.5 129.0L262.1 142.6L263.7 155.9L265.3 168.5L266.9 180.2L268.5 190.6L270.1 199.9L271.7 208.0L273.3 214.9L274.9 220.9L276.5 226.0L278.1 230.3L279.6 234.0L281.2 237.1L282.8 239.7L284.4 242.0L286.0 243.9L287.6 245.5L289.2 246.9L290.8 248.1L292.4 249.2L294.0 250.1L295.6 250.9L297.2 251.5L298.8 252.1L300.4 252.7L302.0 253.1L303.6 253.6L305.2 253.9L306.8 254.2L308.4 254.5L310.0 254.8L311.6 255.0L313.1 255.2L314.7 255.4L316.3 255.6L317.9 255.7L319.5 255.8L321.1 255.9L322.7 256.0L324.3 256.1L325.9 256.2L327.5 256.2" fill="none" stroke="url(#chkg)" stroke-width="1.2"/>
<path d="M161.6 232.8L163.2 233.8L164.8 234.8L166.4 235.8L168.0 236.7L169.6 237.5L171.2 238.3L172.8 239.1L174.4 239.8L176.0 240.5L177.6 241.2L179.2 241.9L180.8 242.5L182.4 243.0L183.9 243.6L185.5 244.1L187.1 244.6L188.7 245.0L190.3 245.4L191.9 245.8L193.5 246.1L195.1 246.4L196.7 246.7L198.3 246.9L199.9 247.2L201.5 247.3L203.1 247.5L204.7 247.6L206.3 247.7L207.9 247.7L209.5 247.7L211.1 247.6L212.7 247.5L214.3 247.3L215.8 247.1L217.4 246.8L219.0 246.4L220.6 245.9L222.2 245.4L223.8 244.7L225.4 243.8L227.0 242.8L228.6 241.7L230.2 240.2L231.8 238.6L233.4 236.6L235.0 234.2L236.6 231.4L238.2 228.1L239.8 224.1L241.4 219.5L243.0 214.0L244.6 207.5L246.2 200.0L247.8 191.4L249.3 181.5L250.9 170.4L252.5 158.1L254.1 144.9L255.7 131.2L257.3 117.3L258.9 103.7L260.5 91.1L262.1 79.9L263.7 70.4L265.3 62.9L266.9 57.6L268.5 54.3L270.1 53.1L271.7 53.5L273.3 55.5L274.9 58.8L276.5 63.1L278.1 68.2L279.6 73.9L281.2 80.0L282.8 86.4L284.4 93.1L286.0 99.8L287.6 106.5L289.2 113.1L290.8 119.7L292.4 126.1L294.0 132.4L295.6 138.5L297.2 144.4L298.8 150.1L300.4 155.5L302.0 160.8L303.6 165.9L305.2 170.7L306.8 175.3L308.4 179.8L310.0 184.0L311.6 188.0L313.1 191.9L314.7 195.5L316.3 199.0L317.9 202.3L319.5 205.5L321.1 208.5L322.7 211.3L324.3 214.0L325.9 216.6L327.5 219.0" fill="none" stroke="url(#chkg)" stroke-width="1.2"/>
<path d="M161.6 236.5L163.2 235.8L164.8 235.0L166.4 234.1L168.0 233.2L169.6 232.3L171.2 231.2L172.8 230.1L174.4 229.0L176.0 227.7L177.6 226.4L179.2 225.1L180.8 223.6L182.4 222.0L183.9 220.4L185.5 218.6L187.1 216.8L188.7 214.8L190.3 212.8L191.9 210.6L193.5 208.2L195.1 205.8L196.7 203.2L198.3 200.4L199.9 197.5L201.5 194.5L203.1 191.2L204.7 187.8L206.3 184.2L207.9 180.4L209.5 176.4L211.1 172.2L212.7 167.8L214.3 163.1L215.8 158.3L217.4 153.1L219.0 147.8L220.6 142.2L222.2 136.4L223.8 130.4L225.4 124.2L227.0 117.8L228.6 111.2L230.2 104.5L231.8 97.7L233.4 91.0L235.0 84.2L236.6 77.7L238.2 71.4L239.8 65.6L241.4 60.4L243.0 56.0L244.6 52.8L246.2 50.8L247.8 50.5L249.3 52.0L250.9 55.6L252.5 61.4L254.1 69.4L255.7 79.5L257.3 91.4L258.9 104.6L260.5 118.7L262.1 133.1L263.7 147.2L265.3 160.6L266.9 173.1L268.5 184.3L270.1 194.3L271.7 203.1L273.3 210.6L274.9 217.1L276.5 222.6L278.1 227.3L279.6 231.3L281.2 234.6L282.8 237.5L284.4 239.9L286.0 242.0L287.6 243.8L289.2 245.3L290.8 246.6L292.4 247.7L294.0 248.7L295.6 249.5L297.2 250.3L298.8 250.9L300.4 251.5L302.0 252.0L303.6 252.4L305.2 252.8L306.8 253.2L308.4 253.5L310.0 253.7L311.6 254.0L313.1 254.2L314.7 254.4L316.3 254.6L317.9 254.7L319.5 254.8L321.1 255.0L322.7 255.1L324.3 255.1L325.9 255.2L327.5 255.3" fill="none" stroke="url(#chkg)" stroke-width="1.2"/>
<path d="M161.6 232.8L163.2 233.8L164.8 234.8L166.4 235.8L168.0 236.7L169.6 237.5L171.2 238.3L172.8 239.1L174.4 239.8L176.0 240.5L177.6 241.2L179.2 241.8L180.8 242.4L182.4 242.9L183.9 243.4L185.5 243.9L187.1 244.3L188.7 244.7L190.3 245.1L191.9 245.5L193.5 245.8L195.1 246.1L196.7 246.3L198.3 246.6L199.9 246.7L201.5 246.9L203.1 247.0L204.7 247.1L206.3 247.2L207.9 247.2L209.5 247.1L211.1 247.1L212.7 246.9L214.3 246.7L215.8 246.5L217.4 246.2L219.0 245.8L220.6 245.3L222.2 244.7L223.8 244.0L225.4 243.1L227.0 242.1L228.6 240.9L230.2 239.4L231.8 237.7L233.4 235.7L235.0 233.3L236.6 230.5L238.2 227.1L239.8 223.1L241.4 218.4L243.0 212.8L244.6 206.2L246.2 198.5L247.8 189.6L249.3 179.4L250.9 168.0L252.5 155.3L254.1 141.6L255.7 127.2L257.3 112.6L258.9 98.2L260.5 84.6L262.1 72.4L263.7 62.0L265.3 53.7L266.9 47.6L268.5 43.8L270.1 42.0L271.7 42.2L273.3 43.9L274.9 47.1L276.5 51.4L278.1 56.6L279.6 62.5L281.2 68.9L282.8 75.6L284.4 82.5L286.0 89.5L287.6 96.5L289.2 103.5L290.8 110.5L292.4 117.2L294.0 123.9L295.6 130.3L297.2 136.5L298.8 142.5L300.4 148.3L302.0 153.9L303.6 159.3L305.2 164.4L306.8 169.3L308.4 174.0L310.0 178.5L311.6 182.8L313.1 186.8L314.7 190.7L316.3 194.4L317.9 197.9L319.5 201.3L321.1 204.4L322.7 207.5L324.3 210.3L325.9 213.0L327.5 215.6" fill="none" stroke="url(#chkg)" stroke-width="1.2"/>
<path d="M161.6 236.8L163.2 236.0L164.8 235.2L166.4 234.4L168.0 233.5L169.6 232.5L171.2 231.5L172.8 230.5L174.4 229.3L176.0 228.1L177.6 226.9L179.2 225.5L180.8 224.1L182.4 222.6L183.9 221.1L185.5 219.4L187.1 217.6L188.7 215.8L190.3 213.8L191.9 211.7L193.5 209.5L195.1 207.2L196.7 204.8L198.3 202.2L199.9 199.5L201.5 196.7L203.1 193.7L204.7 190.5L206.3 187.2L207.9 183.7L209.5 180.0L211.1 176.1L212.7 172.1L214.3 167.8L215.8 163.4L217.4 158.7L219.0 153.8L220.6 148.8L222.2 143.5L223.8 138.1L225.4 132.5L227.0 126.7L228.6 120.8L230.2 114.7L231.8 108.6L233.4 102.5L235.0 96.5L236.6 90.6L238.2 84.9L239.8 79.7L241.4 74.9L243.0 70.9L244.6 67.9L246.2 66.0L247.8 65.5L249.3 66.7L250.9 69.7L252.5 74.4L254.1 81.2L255.7 89.9L257.3 100.3L258.9 112.2L260.5 124.9L262.1 138.1L263.7 151.2L265.3 163.8L266.9 175.5L268.5 186.2L270.1 195.7L271.7 204.0L273.3 211.3L274.9 217.5L276.5 222.8L278.1 227.3L279.6 231.1L281.2 234.3L282.8 237.0L284.4 239.4L286.0 241.3L287.6 243.0L289.2 244.5L290.8 245.7L292.4 246.8L294.0 247.7L295.6 248.5L297.2 249.2L298.8 249.8L300.4 250.3L302.0 250.8L303.6 251.2L305.2 251.6L306.8 251.9L308.4 252.2L310.0 252.5L311.6 252.7L313.1 252.9L314.7 253.1L316.3 253.3L317.9 253.4L319.5 253.5L321.1 253.6L322.7 253.7L324.3 253.8L325.9 253.9L327.5 253.9" fill="none" stroke="url(#chkg)" stroke-width="1.2"/>
<path d="M161.6 232.8L163.2 233.8L164.8 234.8L166.4 235.8L168.0 236.7L169.6 237.5L171.2 238.3L172.8 239.1L174.4 239.9L176.0 240.5L177.6 241.2L179.2 241.8L180.8 242.4L182.4 242.9L183.9 243.4L185.5 243.8L187.1 244.3L188.7 244.7L190.3 245.0L191.9 245.4L193.5 245.7L195.1 246.0L196.7 246.2L198.3 246.4L199.9 246.6L201.5 246.7L203.1 246.8L204.7 246.9L206.3 247.0L207.9 247.0L209.5 246.9L211.1 246.9L212.7 246.7L214.3 246.6L215.8 246.3L217.4 246.0L219.0 245.7L220.6 245.2L222.2 244.7L223.8 244.0L225.4 243.3L227.0 242.4L228.6 241.3L230.2 240.0L231.8 238.5L233.4 236.7L235.0 234.6L236.6 232.1L238.2 229.2L239.8 225.7L241.4 221.6L243.0 216.7L244.6 211.0L246.2 204.3L247.8 196.6L249.3 187.7L250.9 177.7L252.5 166.4L254.1 154.1L255.7 141.0L257.3 127.6L258.9 114.2L260.5 101.5L262.1 89.8L263.7 79.7L265.3 71.5L266.9 65.2L268.5 61.1L270.1 58.9L271.7 58.5L273.3 59.7L274.9 62.2L276.5 65.9L278.1 70.4L279.6 75.7L281.2 81.4L282.8 87.4L284.4 93.7L286.0 100.1L287.6 106.6L289.2 113.0L290.8 119.4L292.4 125.6L294.0 131.7L295.6 137.7L297.2 143.4L298.8 149.0L300.4 154.4L302.0 159.5L303.6 164.5L305.2 169.3L306.8 173.8L308.4 178.2L310.0 182.3L311.6 186.3L313.1 190.1L314.7 193.7L316.3 197.1L317.9 200.4L319.5 203.5L321.1 206.4L322.7 209.2L324.3 211.9L325.9 214.4L327.5 216.8" fill="none" stroke="url(#chkg)" stroke-width="1.2"/>
<path d="M161.6 237.5L163.2 236.8L164.8 236.1L166.4 235.3L168.0 234.4L169.6 233.5L171.2 232.6L172.8 231.6L174.4 230.5L176.0 229.3L177.6 228.1L179.2 226.9L180.8 225.5L182.4 224.1L183.9 222.6L185.5 221.0L187.1 219.3L188.7 217.6L190.3 215.7L191.9 213.7L193.5 211.6L195.1 209.4L196.7 207.1L198.3 204.7L199.9 202.1L201.5 199.3L203.1 196.5L204.7 193.4L206.3 190.2L207.9 186.9L209.5 183.3L211.1 179.6L212.7 175.7L214.3 171.6L215.8 167.3L217.4 162.8L219.0 158.0L220.6 153.1L222.2 148.0L223.8 142.6L225.4 137.1L227.0 131.4L228.6 125.5L230.2 119.4L231.8 113.2L233.4 107.0L235.0 100.7L236.6 94.5L238.2 88.4L239.8 82.5L241.4 77.1L243.0 72.1L244.6 67.9L246.2 64.6L247.8 62.5L249.3 61.8L250.9 62.8L252.5 65.4L254.1 70.1L255.7 76.9L257.3 85.8L258.9 96.6L260.5 108.8L262.1 122.0L263.7 135.6L265.3 149.2L266.9 162.2L268.5 174.4L270.1 185.4L271.7 195.3L273.3 203.9L274.9 211.3L276.5 217.7L278.1 223.1L279.6 227.7L281.2 231.5L282.8 234.8L284.4 237.6L286.0 239.9L287.6 241.9L289.2 243.6L290.8 245.1L292.4 246.3L294.0 247.4L295.6 248.3L297.2 249.1L298.8 249.8L300.4 250.4L302.0 250.9L303.6 251.4L305.2 251.8L306.8 252.2L308.4 252.5L310.0 252.8L311.6 253.1L313.1 253.3L314.7 253.5L316.3 253.7L317.9 253.9L319.5 254.0L321.1 254.1L322.7 254.3L324.3 254.4L325.9 254.4L327.5 254.5" fill="none" stroke="url(#chkg)" stroke-width="1.2"/>
<path d="M161.6 232.7L163.2 233.8L164.8 234.8L166.4 235.7L168.0 236.7L169.6 237.5L171.2 238.4L172.8 239.1L174.4 239.9L176.0 240.6L177.6 241.2L179.2 241.9L180.8 242.5L182.4 243.0L183.9 243.5L185.5 244.0L187.1 244.5L188.7 244.9L190.3 245.3L191.9 245.6L193.5 245.9L195.1 246.2L196.7 246.5L198.3 246.7L199.9 247.0L201.5 247.1L203.1 247.3L204.7 247.4L206.3 247.5L207.9 247.5L209.5 247.5L211.1 247.5L212.7 247.4L214.3 247.3L215.8 247.1L217.4 246.9L219.0 246.6L220.6 246.3L222.2 245.9L223.8 245.3L225.4 244.7L227.0 244.0L228.6 243.1L230.2 242.0L231.8 240.8L233.4 239.3L235.0 237.6L236.6 235.5L238.2 233.0L239.8 230.1L241.4 226.7L243.0 222.6L244.6 217.7L246.2 212.0L247.8 205.3L249.3 197.5L250.9 188.5L252.5 178.2L254.1 166.7L255.7 154.0L257.3 140.6L258.9 126.7L260.5 112.8L262.1 99.5L263.7 87.3L265.3 76.7L266.9 68.0L268.5 61.4L270.1 57.0L271.7 54.7L273.3 54.2L274.9 55.4L276.5 58.0L278.1 61.7L279.6 66.3L281.2 71.7L282.8 77.5L284.4 83.8L286.0 90.2L287.6 96.8L289.2 103.4L290.8 110.0L292.4 116.5L294.0 122.9L295.6 129.2L297.2 135.2L298.8 141.1L300.4 146.8L302.0 152.3L303.6 157.6L305.2 162.7L306.8 167.5L308.4 172.2L310.0 176.6L311.6 180.9L313.1 184.9L314.7 188.8L316.3 192.5L317.9 196.0L319.5 199.3L321.1 202.5L322.7 205.5L324.3 208.4L325.9 211.1L327.5 213.7" fill="none" stroke="url(#chkg)" stroke-width="1.2"/>
<path d="M161.6 236.5L163.2 235.7L164.8 234.9L166.4 234.0L168.0 233.1L169.6 232.1L171.2 231.1L172.8 230.0L174.4 228.9L176.0 227.6L177.6 226.3L179.2 225.0L180.8 223.5L182.4 222.0L183.9 220.4L185.5 218.6L187.1 216.8L188.7 214.9L190.3 212.9L191.9 210.7L193.5 208.5L195.1 206.1L196.7 203.6L198.3 200.9L199.9 198.1L201.5 195.1L203.1 192.0L204.7 188.7L206.3 185.2L207.9 181.6L209.5 177.8L211.1 173.7L212.7 169.5L214.3 165.1L215.8 160.4L217.4 155.6L219.0 150.5L220.6 145.2L222.2 139.8L223.8 134.1L225.4 128.2L227.0 122.2L228.6 116.1L230.2 109.8L231.8 103.5L233.4 97.2L235.0 91.0L236.6 85.0L238.2 79.3L239.8 74.1L241.4 69.5L243.0 65.7L244.6 62.9L246.2 61.5L247.8 61.5L249.3 63.4L250.9 67.2L252.5 72.9L254.1 80.6L255.7 90.3L257.3 101.6L258.9 114.1L260.5 127.4L262.1 140.8L263.7 154.0L265.3 166.6L266.9 178.1L268.5 188.6L270.1 197.8L271.7 205.9L273.3 212.9L274.9 218.9L276.5 224.0L278.1 228.3L279.6 232.0L281.2 235.1L282.8 237.8L284.4 240.0L286.0 241.9L287.6 243.6L289.2 245.0L290.8 246.2L292.4 247.2L294.0 248.1L295.6 248.9L297.2 249.6L298.8 250.2L300.4 250.7L302.0 251.2L303.6 251.6L305.2 252.0L306.8 252.3L308.4 252.6L310.0 252.8L311.6 253.1L313.1 253.3L314.7 253.4L316.3 253.6L317.9 253.7L319.5 253.9L321.1 254.0L322.7 254.1L324.3 254.1L325.9 254.2L327.5 254.2" fill="none" stroke="url(#chkg)" stroke-width="1.2"/>
<path d="M161.6 232.8L163.2 233.8L164.8 234.8L166.4 235.8L168.0 236.7L169.6 237.5L171.2 238.3L172.8 239.1L174.4 239.8L176.0 240.5L177.6 241.2L179.2 241.8L180.8 242.3L182.4 242.9L183.9 243.4L185.5 243.8L187.1 244.2L188.7 244.6L190.3 245.0L191.9 245.3L193.5 245.6L195.1 245.9L196.7 246.2L198.3 246.4L199.9 246.5L201.5 246.7L203.1 246.8L204.7 246.9L206.3 246.9L207.9 246.9L209.5 246.9L211.1 246.8L212.7 246.6L214.3 246.4L215.8 246.2L217.4 245.8L219.0 245.4L220.6 244.9L222.2 244.3L223.8 243.6L225.4 242.8L227.0 241.8L228.6 240.6L230.2 239.2L231.8 237.5L233.4 235.5L235.0 233.2L236.6 230.5L238.2 227.2L239.8 223.4L241.4 218.8L243.0 213.5L244.6 207.2L246.2 199.9L247.8 191.4L249.3 181.8L250.9 171.0L252.5 159.0L254.1 146.0L255.7 132.5L257.3 118.8L258.9 105.3L260.5 92.7L262.1 81.5L263.7 71.9L265.3 64.3L266.9 58.8L268.5 55.4L270.1 53.9L271.7 54.2L273.3 56.0L274.9 59.1L276.5 63.3L278.1 68.2L279.6 73.8L281.2 79.8L282.8 86.1L284.4 92.6L286.0 99.2L287.6 105.9L289.2 112.4L290.8 118.9L292.4 125.3L294.0 131.5L295.6 137.5L297.2 143.3L298.8 148.9L300.4 154.4L302.0 159.6L303.6 164.6L305.2 169.4L306.8 174.0L308.4 178.4L310.0 182.6L311.6 186.6L313.1 190.4L314.7 194.0L316.3 197.5L317.9 200.7L319.5 203.9L321.1 206.8L322.7 209.7L324.3 212.3L325.9 214.9L327.5 217.3" fill="none" stroke="url(#chkg)" stroke-width="1.2"/>
<path d="M161.6 237.7L163.2 237.0L164.8 236.2L166.4 235.5L168.0 234.6L169.6 233.7L171.2 232.8L172.8 231.8L174.4 230.7L176.0 229.5L177.6 228.2L179.2 226.9L180.8 225.5L182.4 224.0L183.9 222.4L185.5 220.8L187.1 219.0L188.7 217.1L190.3 215.1L191.9 213.0L193.5 210.8L195.1 208.4L196.7 206.0L198.3 203.3L199.9 200.5L201.5 197.6L203.1 194.5L204.7 191.2L206.3 187.8L207.9 184.1L209.5 180.3L211.1 176.2L212.7 171.9L214.3 167.5L215.8 162.7L217.4 157.8L219.0 152.6L220.6 147.1L222.2 141.4L223.8 135.5L225.4 129.3L227.0 122.9L228.6 116.2L230.2 109.4L231.8 102.4L233.4 95.3L235.0 88.1L236.6 80.9L238.2 73.8L239.8 66.9L241.4 60.3L243.0 54.2L244.6 48.9L246.2 44.6L247.8 41.4L249.3 39.8L250.9 40.0L252.5 42.5L254.1 47.3L255.7 54.4L257.3 63.9L258.9 75.4L260.5 88.8L262.1 103.3L263.7 118.5L265.3 133.8L266.9 148.5L268.5 162.3L270.1 174.9L271.7 186.1L273.3 196.0L274.9 204.5L276.5 211.8L278.1 218.1L279.6 223.3L281.2 227.8L282.8 231.5L284.4 234.7L286.0 237.4L287.6 239.7L289.2 241.6L290.8 243.3L292.4 244.7L294.0 245.9L295.6 247.0L297.2 247.9L298.8 248.7L300.4 249.4L302.0 250.0L303.6 250.5L305.2 251.0L306.8 251.4L308.4 251.8L310.0 252.1L311.6 252.4L313.1 252.7L314.7 252.9L316.3 253.1L317.9 253.3L319.5 253.5L321.1 253.6L322.7 253.7L324.3 253.9L325.9 254.0L327.5 254.1" fill="none" stroke="url(#chkg)" stroke-width="1.2"/>
<path d="M161.6 232.7L163.2 233.8L164.8 234.8L166.4 235.7L168.0 236.7L169.6 237.5L171.2 238.4L172.8 239.1L174.4 239.9L176.0 240.6L177.6 241.2L179.2 241.8L180.8 242.3L182.4 242.8L183.9 243.3L185.5 243.8L187.1 244.2L188.7 244.6L190.3 245.0L191.9 245.3L193.5 245.6L195.1 245.9L196.7 246.2L198.3 246.4L199.9 246.6L201.5 246.7L203.1 246.9L204.7 247.0L206.3 247.0L207.9 247.1L209.5 247.0L211.1 247.0L212.7 246.9L214.3 246.8L215.8 246.6L217.4 246.3L219.0 246.0L220.6 245.6L222.2 245.1L223.8 244.6L225.4 243.9L227.0 243.1L228.6 242.1L230.2 241.0L231.8 239.7L233.4 238.1L235.0 236.2L236.6 234.0L238.2 231.4L239.8 228.2L241.4 224.5L243.0 220.1L244.6 214.9L246.2 208.7L247.8 201.4L249.3 192.8L250.9 182.9L252.5 171.7L254.1 159.1L255.7 145.3L257.3 130.4L258.9 114.9L260.5 99.4L262.1 84.3L263.7 70.4L265.3 58.2L266.9 48.0L268.5 40.2L270.1 34.7L271.7 31.7L273.3 30.7L274.9 31.7L276.5 34.3L278.1 38.2L279.6 43.2L281.2 49.1L282.8 55.5L284.4 62.4L286.0 69.5L287.6 76.8L289.2 84.2L290.8 91.6L292.4 98.8L294.0 106.0L295.6 113.0L297.2 119.8L298.8 126.4L300.4 132.8L302.0 138.9L303.6 144.9L305.2 150.6L306.8 156.0L308.4 161.3L310.0 166.3L311.6 171.0L313.1 175.6L314.7 179.9L316.3 184.1L317.9 188.0L319.5 191.8L321.1 195.4L322.7 198.8L324.3 202.0L325.9 205.0L327.5 207.9" fill="none" stroke="url(#chkg)" stroke-width="1.2"/>
<path d="M161.6 237.8L163.2 237.1L164.8 236.4L166.4 235.6L168.0 234.8L169.6 233.9L171.2 233.0L172.8 232.0L174.4 230.9L176.0 229.7L177.6 228.5L179.2 227.2L180.8 225.8L182.4 224.3L183.9 222.7L185.5 221.1L187.1 219.3L188.7 217.4L190.3 215.5L191.9 213.4L193.5 211.2L195.1 208.8L196.7 206.4L198.3 203.7L199.9 201.0L201.5 198.0L203.1 194.9L204.7 191.7L206.3 188.2L207.9 184.6L209.5 180.7L211.1 176.7L212.7 172.4L214.3 167.9L215.8 163.2L217.4 158.2L219.0 153.0L220.6 147.5L222.2 141.8L223.8 135.8L225.4 129.6L227.0 123.1L228.6 116.4L230.2 109.5L231.8 102.4L233.4 95.2L235.0 87.8L236.6 80.5L238.2 73.2L239.8 66.1L241.4 59.3L243.0 53.0L244.6 47.3L246.2 42.6L247.8 39.1L249.3 37.0L250.9 36.7L252.5 38.7L254.1 43.1L255.7 49.8L257.3 58.9L258.9 70.3L260.5 83.6L262.1 98.2L263.7 113.6L265.3 129.1L266.9 144.3L268.5 158.5L270.1 171.6L271.7 183.4L273.3 193.7L274.9 202.6L276.5 210.3L278.1 216.9L279.6 222.4L281.2 227.1L282.8 231.0L284.4 234.4L286.0 237.2L287.6 239.6L289.2 241.6L290.8 243.3L292.4 244.8L294.0 246.1L295.6 247.2L297.2 248.1L298.8 249.0L300.4 249.7L302.0 250.3L303.6 250.9L305.2 251.4L306.8 251.8L308.4 252.2L310.0 252.5L311.6 252.8L313.1 253.1L314.7 253.3L316.3 253.6L317.9 253.8L319.5 253.9L321.1 254.1L322.7 254.2L324.3 254.3L325.9 254.5L327.5 254.5" fill="none" stroke="url(#chkg)" stroke-width="1.2"/>
<path d="M161.6 232.7L163.2 233.7L164.8 234.8L166.4 235.7L168.0 236.7L169.6 237.5L171.2 238.4L172.8 239.2L174.4 239.9L176.0 240.6L177.6 241.2L179.2 241.8L180.8 242.4L182.4 242.9L183.9 243.4L185.5 243.9L187.1 244.3L188.7 244.7L190.3 245.1L191.9 245.4L193.5 245.7L195.1 246.0L196.7 246.3L198.3 246.5L199.9 246.7L201.5 246.9L203.1 247.0L204.7 247.2L206.3 247.2L207.9 247.3L209.5 247.3L211.1 247.3L212.7 247.2L214.3 247.1L215.8 246.9L217.4 246.7L219.0 246.4L220.6 246.0L222.2 245.5L223.8 245.0L225.4 244.4L227.0 243.6L228.6 242.7L230.2 241.6L231.8 240.3L233.4 238.7L235.0 236.9L236.6 234.8L238.2 232.2L239.8 229.2L241.4 225.6L243.0 221.3L244.6 216.2L246.2 210.1L247.8 202.9L249.3 194.6L250.9 184.8L252.5 173.7L254.1 161.2L255.7 147.4L257.3 132.4L258.9 116.8L260.5 100.9L262.1 85.4L263.7 70.9L265.3 58.0L266.9 47.2L268.5 38.6L270.1 32.6L271.7 29.0L273.3 27.6L274.9 28.2L276.5 30.5L278.1 34.2L279.6 39.1L281.2 44.9L282.8 51.3L284.4 58.2L286.0 65.4L287.6 72.9L289.2 80.3L290.8 87.8L292.4 95.2L294.0 102.5L295.6 109.7L297.2 116.7L298.8 123.4L300.4 130.0L302.0 136.3L303.6 142.3L305.2 148.2L306.8 153.8L308.4 159.1L310.0 164.2L311.6 169.1L313.1 173.8L314.7 178.3L316.3 182.5L317.9 186.6L319.5 190.4L321.1 194.1L322.7 197.6L324.3 200.9L325.9 204.0L327.5 207.0" fill="none" stroke="url(#chkg)" stroke-width="1.2"/>
<path d="M161.6 236.9L163.2 236.2L164.8 235.4L166.4 234.6L168.0 233.7L169.6 232.8L171.2 231.8L172.8 230.7L174.4 229.6L176.0 228.4L177.6 227.1L179.2 225.7L180.8 224.3L182.4 222.7L183.9 221.1L185.5 219.4L187.1 217.5L188.7 215.6L190.3 213.5L191.9 211.3L193.5 209.0L195.1 206.6L196.7 204.0L198.3 201.3L199.9 198.4L201.5 195.3L203.1 192.1L204.7 188.6L206.3 185.0L207.9 181.2L209.5 177.2L211.1 172.9L212.7 168.5L214.3 163.8L215.8 158.8L217.4 153.7L219.0 148.2L220.6 142.6L222.2 136.7L223.8 130.5L225.4 124.1L227.0 117.5L228.6 110.7L230.2 103.7L231.8 96.7L233.4 89.5L235.0 82.4L236.6 75.3L238.2 68.5L239.8 62.0L241.4 56.0L243.0 50.8L244.6 46.6L246.2 43.6L247.8 42.1L249.3 42.4L250.9 44.7L252.5 49.6L254.1 56.7L255.7 66.1L257.3 77.6L258.9 90.8L260.5 105.2L262.1 120.2L263.7 135.3L265.3 149.8L266.9 163.4L268.5 175.9L270.1 187.1L271.7 196.9L273.3 205.5L274.9 212.8L276.5 219.1L278.1 224.4L279.6 228.9L281.2 232.7L282.8 235.9L284.4 238.7L286.0 241.0L287.6 243.0L289.2 244.7L290.8 246.1L292.4 247.4L294.0 248.4L295.6 249.4L297.2 250.2L298.8 250.9L300.4 251.5L302.0 252.1L303.6 252.6L305.2 253.0L306.8 253.4L308.4 253.7L310.0 254.0L311.6 254.3L313.1 254.5L314.7 254.8L316.3 254.9L317.9 255.1L319.5 255.3L321.1 255.4L322.7 255.5L324.3 255.6L325.9 255.7L327.5 255.8" fill="none" stroke="url(#chkg)" stroke-width="1.2"/>
<path d="M161.6 232.7L163.2 233.8L164.8 234.8L166.4 235.8L168.0 236.7L169.6 237.5L171.2 238.4L172.8 239.1L174.4 239.9L176.0 240.5L177.6 241.2L179.2 241.8L180.8 242.4L182.4 242.9L183.9 243.5L185.5 243.9L187.1 244.4L188.7 244.8L190.3 245.2L191.9 245.6L193.5 245.9L195.1 246.2L196.7 246.5L198.3 246.7L199.9 246.9L201.5 247.1L203.1 247.2L204.7 247.3L206.3 247.4L207.9 247.4L209.5 247.4L211.1 247.4L212.7 247.3L214.3 247.1L215.8 246.9L217.4 246.6L219.0 246.2L220.6 245.8L222.2 245.2L223.8 244.6L225.4 243.8L227.0 242.8L228.6 241.7L230.2 240.4L231.8 238.8L233.4 236.9L235.0 234.7L236.6 232.0L238.2 228.8L239.8 225.1L241.4 220.6L243.0 215.3L244.6 209.1L246.2 201.7L247.8 193.2L249.3 183.2L250.9 171.9L252.5 159.4L254.1 145.6L255.7 130.8L257.3 115.5L258.9 100.2L260.5 85.4L262.1 71.7L263.7 59.7L265.3 49.7L266.9 42.1L268.5 36.7L270.1 33.7L271.7 32.8L273.3 33.8L274.9 36.4L276.5 40.3L278.1 45.3L279.6 51.0L281.2 57.4L282.8 64.3L284.4 71.4L286.0 78.7L287.6 86.1L289.2 93.4L290.8 100.7L292.4 107.8L294.0 114.8L295.6 121.7L297.2 128.3L298.8 134.7L300.4 140.8L302.0 146.8L303.6 152.5L305.2 157.9L306.8 163.2L308.4 168.2L310.0 173.0L311.6 177.6L313.1 181.9L314.7 186.1L316.3 190.0L317.9 193.8L319.5 197.4L321.1 200.8L322.7 204.0L324.3 207.1L325.9 210.0L327.5 212.7" fill="none" stroke="url(#chkg)" stroke-width="1.2"/>
<path d="M161.6 236.8L163.2 236.1L164.8 235.3L166.4 234.4L168.0 233.5L169.6 232.6L171.2 231.6L172.8 230.5L174.4 229.4L176.0 228.2L177.6 226.9L179.2 225.6L180.8 224.2L182.4 222.6L183.9 221.0L185.5 219.3L187.1 217.5L188.7 215.6L190.3 213.5L191.9 211.4L193.5 209.1L195.1 206.6L196.7 204.0L198.3 201.3L199.9 198.4L201.5 195.3L203.1 192.1L204.7 188.6L206.3 185.0L207.9 181.2L209.5 177.1L211.1 172.9L212.7 168.4L214.3 163.7L215.8 158.7L217.4 153.5L219.0 148.0L220.6 142.3L222.2 136.4L223.8 130.2L225.4 123.7L227.0 117.1L228.6 110.2L230.2 103.2L231.8 96.1L233.4 89.0L235.0 81.8L236.6 74.8L238.2 68.0L239.8 61.6L241.4 55.8L243.0 50.8L244.6 46.7L246.2 44.0L247.8 42.9L249.3 43.6L250.9 46.4L252.5 51.8L254.1 59.4L255.7 69.3L257.3 81.3L258.9 94.8L260.5 109.4L262.1 124.5L263.7 139.5L265.3 154.0L266.9 167.5L268.5 179.8L270.1 190.8L271.7 200.4L273.3 208.8L274.9 215.9L276.5 222.0L278.1 227.2L279.6 231.6L281.2 235.3L282.8 238.5L284.4 241.2L286.0 243.4L287.6 245.4L289.2 247.0L290.8 248.5L292.4 249.7L294.0 250.8L295.6 251.7L297.2 252.5L298.8 253.2L300.4 253.8L302.0 254.4L303.6 254.8L305.2 255.3L306.8 255.6L308.4 256.0L310.0 256.3L311.6 256.5L313.1 256.8L314.7 257.0L316.3 257.2L317.9 257.3L319.5 257.5L321.1 257.6L322.7 257.7L324.3 257.8L325.9 257.9L327.5 258.0" fill="none" stroke="url(#chkg)" stroke-width="1.2"/>
<path d="M161.6 232.8L163.2 233.8L164.8 234.8L166.4 235.8L168.0 236.7L169.6 237.5L171.2 238.3L172.8 239.1L174.4 239.9L176.0 240.6L177.6 241.3L179.2 241.9L180.8 242.5L182.4 243.1L183.9 243.7L185.5 244.2L187.1 244.7L188.7 245.2L190.3 245.6L191.9 246.0L193.5 246.4L195.1 246.7L196.7 247.0L198.3 247.3L199.9 247.5L201.5 247.8L203.1 247.9L204.7 248.1L206.3 248.2L207.9 248.3L209.5 248.3L211.1 248.3L212.7 248.2L214.3 248.1L215.8 247.9L217.4 247.6L219.0 247.3L220.6 246.9L222.2 246.4L223.8 245.7L225.4 244.9L227.0 244.0L228.6 242.9L230.2 241.5L231.8 239.9L233.4 238.0L235.0 235.7L236.6 232.9L238.2 229.7L239.8 225.8L241.4 221.2L243.0 215.7L244.6 209.2L246.2 201.6L247.8 192.8L249.3 182.6L250.9 171.0L252.5 158.1L254.1 144.0L255.7 129.0L257.3 113.6L258.9 98.3L260.5 83.6L262.1 70.2L263.7 58.5L265.3 48.9L266.9 41.7L268.5 36.8L270.1 34.2L271.7 33.7L273.3 35.0L274.9 37.9L276.5 42.1L278.1 47.2L279.6 53.2L281.2 59.7L282.8 66.7L284.4 73.9L286.0 81.2L287.6 88.6L289.2 96.0L290.8 103.3L292.4 110.5L294.0 117.5L295.6 124.3L297.2 131.0L298.8 137.4L300.4 143.5L302.0 149.5L303.6 155.2L305.2 160.6L306.8 165.8L308.4 170.8L310.0 175.6L311.6 180.2L313.1 184.5L314.7 188.7L316.3 192.6L317.9 196.4L319.5 199.9L321.1 203.3L322.7 206.6L324.3 209.6L325.9 212.5L327.5 215.3" fill="none" stroke="url(#chkg)" stroke-width="1.2"/>
<path d="M161.6 236.6L163.2 235.9L164.8 235.1L166.4 234.2L168.0 233.3L169.6 232.4L171.2 231.3L172.8 230.3L174.4 229.1L176.0 227.9L177.6 226.6L179.2 225.3L180.8 223.8L182.4 222.3L183.9 220.7L185.5 219.0L187.1 217.2L188.7 215.2L190.3 213.2L191.9 211.1L193.5 208.8L195.1 206.4L196.7 203.9L198.3 201.2L199.9 198.4L201.5 195.4L203.1 192.3L204.7 188.9L206.3 185.4L207.9 181.8L209.5 177.9L211.1 173.8L212.7 169.5L214.3 165.0L215.8 160.3L217.4 155.3L219.0 150.2L220.6 144.8L222.2 139.2L223.8 133.4L225.4 127.4L227.0 121.2L228.6 114.9L230.2 108.4L231.8 101.9L233.4 95.3L235.0 88.8L236.6 82.5L238.2 76.5L239.8 70.8L241.4 65.8L243.0 61.6L244.6 58.4L246.2 56.4L247.8 56.0L249.3 57.4L250.9 60.8L252.5 66.2L254.1 73.8L255.7 83.4L257.3 94.8L258.9 107.5L260.5 121.2L262.1 135.1L263.7 148.9L265.3 162.1L266.9 174.3L268.5 185.3L270.1 195.2L271.7 203.8L273.3 211.3L274.9 217.6L276.5 223.1L278.1 227.7L279.6 231.6L281.2 235.0L282.8 237.8L284.4 240.2L286.0 242.2L287.6 243.9L289.2 245.4L290.8 246.7L292.4 247.8L294.0 248.8L295.6 249.6L297.2 250.3L298.8 251.0L300.4 251.5L302.0 252.0L303.6 252.4L305.2 252.8L306.8 253.2L308.4 253.5L310.0 253.7L311.6 254.0L313.1 254.2L314.7 254.4L316.3 254.6L317.9 254.7L319.5 254.8L321.1 254.9L322.7 255.0L324.3 255.1L325.9 255.2L327.5 255.3" fill="none" stroke="url(#chkg)" stroke-width="1.2"/>
<path d="M161.6 232.8L163.2 233.8L164.8 234.8L166.4 235.8L168.0 236.7L169.6 237.5L171.2 238.3L172.8 239.1L174.4 239.8L176.0 240.5L177.6 241.2L179.2 241.8L180.8 242.4L182.4 242.9L183.9 243.5L185.5 243.9L187.1 244.4L188.7 244.8L190.3 245.2L191.9 245.5L193.5 245.9L195.1 246.2L196.7 246.4L198.3 246.7L199.9 246.8L201.5 247.0L203.1 247.1L204.7 247.2L206.3 247.3L207.9 247.3L209.5 247.3L211.1 247.2L212.7 247.1L214.3 246.9L215.8 246.7L217.4 246.4L219.0 246.0L220.6 245.5L222.2 245.0L223.8 244.3L225.4 243.5L227.0 242.5L228.6 241.3L230.2 240.0L231.8 238.3L233.4 236.4L235.0 234.1L236.6 231.4L238.2 228.2L239.8 224.4L241.4 219.9L243.0 214.6L244.6 208.3L246.2 201.0L247.8 192.5L249.3 182.8L250.9 171.9L252.5 159.7L254.1 146.5L255.7 132.5L257.3 118.3L258.9 104.3L260.5 91.0L262.1 78.9L263.7 68.6L265.3 60.3L266.9 54.1L268.5 50.2L270.1 48.2L271.7 48.2L273.3 49.8L274.9 52.7L276.5 56.8L278.1 61.8L279.6 67.4L281.2 73.5L282.8 80.0L284.4 86.7L286.0 93.5L287.6 100.4L289.2 107.2L290.8 113.9L292.4 120.5L294.0 127.0L295.6 133.2L297.2 139.3L298.8 145.2L300.4 150.8L302.0 156.2L303.6 161.5L305.2 166.5L306.8 171.3L308.4 175.8L310.0 180.2L311.6 184.4L313.1 188.4L314.7 192.1L316.3 195.8L317.9 199.2L319.5 202.4L321.1 205.5L322.7 208.5L324.3 211.3L325.9 213.9L327.5 216.5" fill="none" stroke="url(#chkg)" stroke-width="1.2"/>
<path d="M161.6 238.0L163.2 237.3L164.8 236.6L166.4 235.8L168.0 235.0L169.6 234.1L171.2 233.2L172.8 232.2L174.4 231.1L176.0 230.0L177.6 228.8L179.2 227.6L180.8 226.3L182.4 224.9L183.9 223.4L185.5 221.8L187.1 220.1L188.7 218.4L190.3 216.5L191.9 214.5L193.5 212.4L195.1 210.2L196.7 207.8L198.3 205.3L199.9 202.6L201.5 199.8L203.1 196.9L204.7 193.7L206.3 190.4L207.9 186.9L209.5 183.2L211.1 179.3L212.7 175.2L214.3 170.9L215.8 166.3L217.4 161.5L219.0 156.5L220.6 151.2L222.2 145.7L223.8 139.9L225.4 133.9L227.0 127.7L228.6 121.2L230.2 114.5L231.8 107.7L233.4 100.7L235.0 93.6L236.6 86.4L238.2 79.4L239.8 72.4L241.4 65.8L243.0 59.6L244.6 54.0L246.2 49.2L247.8 45.6L249.3 43.4L250.9 42.9L252.5 44.5L254.1 48.3L255.7 54.4L257.3 62.9L258.9 73.7L260.5 86.4L262.1 100.6L263.7 115.7L265.3 131.0L266.9 146.0L268.5 160.3L270.1 173.4L271.7 185.2L273.3 195.6L274.9 204.7L276.5 212.5L278.1 219.1L279.6 224.7L281.2 229.4L282.8 233.4L284.4 236.8L286.0 239.7L287.6 242.1L289.2 244.1L290.8 245.9L292.4 247.4L294.0 248.6L295.6 249.7L297.2 250.7L298.8 251.5L300.4 252.2L302.0 252.9L303.6 253.4L305.2 253.9L306.8 254.4L308.4 254.7L310.0 255.1L311.6 255.4L313.1 255.7L314.7 255.9L316.3 256.1L317.9 256.3L319.5 256.5L321.1 256.6L322.7 256.8L324.3 256.9L325.9 257.0L327.5 257.1" fill="none" stroke="url(#chkg)" stroke-width="1.2"/>
<path d="M161.6 232.7L163.2 233.7L164.8 234.8L166.4 235.7L168.0 236.7L169.6 237.5L171.2 238.4L172.8 239.2L174.4 239.9L176.0 240.6L177.6 241.3L179.2 242.0L180.8 242.6L182.4 243.2L183.9 243.7L185.5 244.3L187.1 244.8L188.7 245.2L190.3 245.7L191.9 246.1L193.5 246.4L195.1 246.8L196.7 247.1L198.3 247.4L199.9 247.7L201.5 247.9L203.1 248.1L204.7 248.3L206.3 248.4L207.9 248.5L209.5 248.6L211.1 248.6L212.7 248.6L214.3 248.5L215.8 248.4L217.4 248.3L219.0 248.0L220.6 247.8L222.2 247.4L223.8 246.9L225.4 246.4L227.0 245.7L228.6 244.9L230.2 243.9L231.8 242.7L233.4 241.3L235.0 239.7L236.6 237.7L238.2 235.3L239.8 232.5L241.4 229.1L243.0 225.1L244.6 220.4L246.2 214.7L247.8 207.9L249.3 200.0L250.9 190.8L252.5 180.2L254.1 168.2L255.7 154.8L257.3 140.3L258.9 125.0L260.5 109.3L262.1 93.9L263.7 79.4L265.3 66.4L266.9 55.3L268.5 46.4L270.1 40.0L271.7 36.0L273.3 34.2L274.9 34.4L276.5 36.4L278.1 39.8L279.6 44.4L281.2 50.0L282.8 56.2L284.4 62.9L286.0 69.9L287.6 77.2L289.2 84.5L290.8 91.9L292.4 99.2L294.0 106.4L295.6 113.5L297.2 120.3L298.8 127.0L300.4 133.5L302.0 139.7L303.6 145.7L305.2 151.5L306.8 157.0L308.4 162.3L310.0 167.4L311.6 172.3L313.1 176.9L314.7 181.3L316.3 185.5L317.9 189.5L319.5 193.4L321.1 197.0L322.7 200.5L324.3 203.7L325.9 206.9L327.5 209.8" fill="none" stroke="url(#chkg)" stroke-width="1.2"/>
<path d="M161.6 236.6L163.2 235.8L164.8 235.0L166.4 234.2L168.0 233.3L169.6 232.3L171.2 231.3L172.8 230.2L174.4 229.0L176.0 227.8L177.6 226.5L179.2 225.2L180.8 223.7L182.4 222.2L183.9 220.6L185.5 218.9L187.1 217.1L188.7 215.2L190.3 213.2L191.9 211.0L193.5 208.8L195.1 206.4L196.7 203.9L198.3 201.2L199.9 198.4L201.5 195.5L203.1 192.4L204.7 189.1L206.3 185.6L207.9 182.0L209.5 178.1L211.1 174.1L212.7 169.8L214.3 165.4L215.8 160.8L217.4 155.9L219.0 150.8L220.6 145.5L222.2 140.0L223.8 134.3L225.4 128.4L227.0 122.3L228.6 116.1L230.2 109.8L231.8 103.4L233.4 97.0L235.0 90.7L236.6 84.5L238.2 78.7L239.8 73.2L241.4 68.4L243.0 64.4L244.6 61.3L246.2 59.6L247.8 59.4L249.3 60.9L250.9 64.4L252.5 69.8L254.1 77.4L255.7 86.9L257.3 98.1L258.9 110.7L260.5 124.1L262.1 137.7L263.7 151.2L265.3 164.0L266.9 175.9L268.5 186.7L270.1 196.3L271.7 204.7L273.3 211.9L274.9 218.1L276.5 223.4L278.1 227.9L279.6 231.7L281.2 235.0L282.8 237.7L284.4 240.0L286.0 242.0L287.6 243.7L289.2 245.1L290.8 246.4L292.4 247.5L294.0 248.4L295.6 249.2L297.2 249.9L298.8 250.5L300.4 251.1L302.0 251.6L303.6 252.0L305.2 252.4L306.8 252.7L308.4 253.0L310.0 253.2L311.6 253.5L313.1 253.7L314.7 253.9L316.3 254.0L317.9 254.2L319.5 254.3L321.1 254.4L322.7 254.5L324.3 254.6L325.9 254.7L327.5 254.7" fill="none" stroke="url(#chkg)" stroke-width="1.2"/>
<path d="M161.6 232.8L163.2 233.8L164.8 234.8L166.4 235.8L168.0 236.7L169.6 237.5L171.2 238.3L172.8 239.1L174.4 239.8L176.0 240.5L177.6 241.2L179.2 241.8L180.8 242.4L182.4 242.9L183.9 243.4L185.5 243.9L187.1 244.3L188.7 244.7L190.3 245.1L191.9 245.5L193.5 245.8L195.1 246.0L196.7 246.3L198.3 246.5L199.9 246.7L201.5 246.9L203.1 247.0L204.7 247.1L206.3 247.1L207.9 247.1L209.5 247.1L211.1 247.0L212.7 246.9L214.3 246.7L215.8 246.5L217.4 246.1L219.0 245.8L220.6 245.3L222.2 244.7L223.8 244.0L225.4 243.2L227.0 242.2L228.6 241.1L230.2 239.7L231.8 238.1L233.4 236.1L235.0 233.9L236.6 231.2L238.2 228.0L239.8 224.2L241.4 219.7L243.0 214.5L244.6 208.3L246.2 201.0L247.8 192.7L249.3 183.1L250.9 172.3L252.5 160.3L254.1 147.3L255.7 133.6L257.3 119.7L258.9 106.0L260.5 93.0L262.1 81.3L263.7 71.3L265.3 63.3L266.9 57.4L268.5 53.6L270.1 51.8L271.7 51.8L273.3 53.5L274.9 56.4L276.5 60.5L278.1 65.4L279.6 70.9L281.2 77.0L282.8 83.3L284.4 89.9L286.0 96.6L287.6 103.3L289.2 110.0L290.8 116.6L292.4 123.0L294.0 129.3L295.6 135.5L297.2 141.4L298.8 147.1L300.4 152.7L302.0 158.0L303.6 163.1L305.2 168.0L306.8 172.7L308.4 177.1L310.0 181.4L311.6 185.5L313.1 189.4L314.7 193.1L316.3 196.6L317.9 200.0L319.5 203.1L321.1 206.2L322.7 209.1L324.3 211.8L325.9 214.4L327.5 216.8" fill="none" stroke="url(#chkg)" stroke-width="1.2"/>
<path d="M161.6 237.5L163.2 236.8L164.8 236.0L166.4 235.2L168.0 234.4L169.6 233.5L171.2 232.5L172.8 231.5L174.4 230.4L176.0 229.3L177.6 228.1L179.2 226.8L180.8 225.5L182.4 224.1L183.9 222.5L185.5 220.9L187.1 219.2L188.7 217.4L190.3 215.5L191.9 213.5L193.5 211.3L195.1 209.1L196.7 206.7L198.3 204.1L199.9 201.4L201.5 198.5L203.1 195.5L204.7 192.3L206.3 189.0L207.9 185.4L209.5 181.6L211.1 177.7L212.7 173.5L214.3 169.1L215.8 164.5L217.4 159.7L219.0 154.6L220.6 149.3L222.2 143.7L223.8 137.9L225.4 131.9L227.0 125.7L228.6 119.2L230.2 112.6L231.8 105.8L233.4 98.9L235.0 92.0L236.6 85.1L238.2 78.3L239.8 71.8L241.4 65.7L243.0 60.1L244.6 55.3L246.2 51.5L247.8 49.0L249.3 48.1L250.9 49.0L252.5 52.0L254.1 57.3L255.7 64.9L257.3 74.7L258.9 86.5L260.5 99.8L262.1 114.2L263.7 129.1L265.3 143.8L266.9 158.0L268.5 171.1L270.1 183.0L271.7 193.6L273.3 202.9L274.9 210.9L276.5 217.8L278.1 223.6L279.6 228.6L281.2 232.7L282.8 236.3L284.4 239.3L286.0 241.8L287.6 243.9L289.2 245.8L290.8 247.3L292.4 248.7L294.0 249.8L295.6 250.8L297.2 251.7L298.8 252.4L300.4 253.1L302.0 253.7L303.6 254.2L305.2 254.6L306.8 255.0L308.4 255.4L310.0 255.7L311.6 256.0L313.1 256.2L314.7 256.4L316.3 256.6L317.9 256.8L319.5 257.0L321.1 257.1L322.7 257.2L324.3 257.4L325.9 257.4L327.5 257.5" fill="none" stroke="url(#chkg)" stroke-width="1.2"/>
<path d="M161.6 232.7L163.2 233.8L164.8 234.8L166.4 235.8L168.0 236.7L169.6 237.5L171.2 238.4L172.8 239.1L174.4 239.9L176.0 240.6L177.6 241.3L179.2 242.0L180.8 242.6L182.4 243.2L183.9 243.8L185.5 244.3L187.1 244.8L188.7 245.3L190.3 245.7L191.9 246.1L193.5 246.5L195.1 246.8L196.7 247.2L198.3 247.5L199.9 247.7L201.5 247.9L203.1 248.1L204.7 248.3L206.3 248.4L207.9 248.5L209.5 248.6L211.1 248.6L212.7 248.6L214.3 248.5L215.8 248.4L217.4 248.2L219.0 247.9L220.6 247.6L222.2 247.2L223.8 246.7L225.4 246.1L227.0 245.3L228.6 244.4L230.2 243.3L231.8 242.0L233.4 240.4L235.0 238.6L236.6 236.4L238.2 233.7L239.8 230.6L241.4 226.8L243.0 222.4L244.6 217.1L246.2 210.8L247.8 203.4L249.3 194.8L250.9 184.9L252.5 173.6L254.1 160.9L255.7 147.1L257.3 132.4L258.9 117.3L260.5 102.2L262.1 87.8L263.7 74.7L265.3 63.3L266.9 54.0L268.5 47.0L270.1 42.3L271.7 39.9L273.3 39.5L274.9 40.9L276.5 43.8L278.1 48.0L279.6 53.1L281.2 58.9L282.8 65.4L284.4 72.1L286.0 79.2L287.6 86.3L289.2 93.5L290.8 100.7L292.4 107.8L294.0 114.7L295.6 121.5L297.2 128.1L298.8 134.5L300.4 140.7L302.0 146.7L303.6 152.4L305.2 157.9L306.8 163.2L308.4 168.2L310.0 173.1L311.6 177.7L313.1 182.1L314.7 186.3L316.3 190.3L317.9 194.1L319.5 197.7L321.1 201.2L322.7 204.4L324.3 207.5L325.9 210.5L327.5 213.3" fill="none" stroke="url(#chkg)" stroke-width="1.2"/>
<path d="M161.6 237.9L163.2 237.2L164.8 236.5L166.4 235.7L168.0 234.9L169.6 234.0L171.2 233.1L172.8 232.1L174.4 231.0L176.0 229.8L177.6 228.6L179.2 227.3L180.8 225.9L182.4 224.4L183.9 222.9L185.5 221.2L187.1 219.4L188.7 217.6L190.3 215.6L191.9 213.6L193.5 211.4L195.1 209.0L196.7 206.6L198.3 204.0L199.9 201.2L201.5 198.3L203.1 195.3L204.7 192.0L206.3 188.6L207.9 185.0L209.5 181.2L211.1 177.2L212.7 173.0L214.3 168.6L215.8 163.9L217.4 159.0L219.0 153.8L220.6 148.4L222.2 142.8L223.8 136.9L225.4 130.8L227.0 124.4L228.6 117.8L230.2 111.0L231.8 104.0L233.4 96.8L235.0 89.6L236.6 82.4L238.2 75.1L239.8 68.1L241.4 61.4L243.0 55.1L244.6 49.4L246.2 44.7L247.8 41.1L249.3 38.9L250.9 38.5L252.5 40.2L254.1 44.3L255.7 50.7L257.3 59.5L258.9 70.5L260.5 83.5L262.1 97.8L263.7 113.0L265.3 128.4L266.9 143.5L268.5 157.7L270.1 170.8L271.7 182.5L273.3 192.9L274.9 201.9L276.5 209.6L278.1 216.2L279.6 221.7L281.2 226.4L282.8 230.4L284.4 233.7L286.0 236.6L287.6 239.0L289.2 241.0L290.8 242.7L292.4 244.2L294.0 245.5L295.6 246.6L297.2 247.5L298.8 248.4L300.4 249.1L302.0 249.7L303.6 250.3L305.2 250.8L306.8 251.2L308.4 251.6L310.0 251.9L311.6 252.2L313.1 252.5L314.7 252.7L316.3 253.0L317.9 253.1L319.5 253.3L321.1 253.5L322.7 253.6L324.3 253.7L325.9 253.8L327.5 253.9" fill="none" stroke="url(#chkg)" stroke-width="1.2"/>
<path d="M161.6 232.7L163.2 233.7L164.8 234.8L166.4 235.7L168.0 236.7L169.6 237.5L171.2 238.4L172.8 239.2L174.4 239.9L176.0 240.6L177.6 241.2L179.2 241.8L180.8 242.3L182.4 242.8L183.9 243.3L185.5 243.8L187.1 244.2L188.7 244.6L190.3 245.0L191.9 245.3L193.5 245.6L195.1 245.9L196.7 246.2L198.3 246.4L199.9 246.6L201.5 246.7L203.1 246.9L204.7 247.0L206.3 247.1L207.9 247.1L209.5 247.1L211.1 247.1L212.7 247.0L214.3 246.8L215.8 246.7L217.4 246.4L219.0 246.1L220.6 245.8L222.2 245.3L223.8 244.8L225.4 244.1L227.0 243.4L228.6 242.5L230.2 241.4L231.8 240.1L233.4 238.6L235.0 236.9L236.6 234.8L238.2 232.3L239.8 229.3L241.4 225.8L243.0 221.6L244.6 216.7L246.2 210.8L247.8 203.8L249.3 195.7L250.9 186.2L252.5 175.4L254.1 163.1L255.7 149.6L257.3 134.9L258.9 119.4L260.5 103.7L262.1 88.3L263.7 73.8L265.3 60.9L266.9 49.9L268.5 41.2L270.1 35.0L271.7 31.1L273.3 29.6L274.9 30.0L276.5 32.1L278.1 35.7L279.6 40.4L281.2 46.0L282.8 52.3L284.4 59.1L286.0 66.2L287.6 73.6L289.2 81.0L290.8 88.4L292.4 95.7L294.0 102.9L295.6 110.0L297.2 116.9L298.8 123.6L300.4 130.1L302.0 136.4L303.6 142.4L305.2 148.2L306.8 153.7L308.4 159.0L310.0 164.1L311.6 169.0L313.1 173.6L314.7 178.1L316.3 182.3L317.9 186.3L319.5 190.2L321.1 193.8L322.7 197.3L324.3 200.5L325.9 203.7L327.5 206.6" fill="none" stroke="url(#chkg)" stroke-width="1.2"/>
<path d="M161.6 237.2L163.2 236.4L164.8 235.7L166.4 234.9L168.0 234.0L169.6 233.1L171.2 232.1L172.8 231.0L174.4 229.9L176.0 228.8L177.6 227.5L179.2 226.2L180.8 224.8L182.4 223.3L183.9 221.7L185.5 220.0L187.1 218.2L188.7 216.3L190.3 214.3L191.9 212.1L193.5 209.9L195.1 207.5L196.7 204.9L198.3 202.2L199.9 199.4L201.5 196.3L203.1 193.1L204.7 189.7L206.3 186.2L207.9 182.4L209.5 178.4L211.1 174.2L212.7 169.8L214.3 165.1L215.8 160.2L217.4 155.0L219.0 149.6L220.6 143.9L222.2 138.0L223.8 131.9L225.4 125.4L227.0 118.8L228.6 111.9L230.2 104.9L231.8 97.7L233.4 90.5L235.0 83.2L236.6 75.9L238.2 68.9L239.8 62.1L241.4 55.8L243.0 50.2L244.6 45.5L246.2 41.9L247.8 39.9L249.3 39.5L250.9 41.2L252.5 45.4L254.1 52.0L255.7 60.9L257.3 72.1L258.9 85.1L260.5 99.5L262.1 114.7L263.7 130.1L265.3 145.2L266.9 159.5L268.5 172.6L270.1 184.4L271.7 194.9L273.3 203.9L274.9 211.8L276.5 218.5L278.1 224.1L279.6 228.9L281.2 233.0L282.8 236.4L284.4 239.4L286.0 241.8L287.6 243.9L289.2 245.7L290.8 247.3L292.4 248.6L294.0 249.7L295.6 250.7L297.2 251.6L298.8 252.3L300.4 253.0L302.0 253.6L303.6 254.1L305.2 254.5L306.8 254.9L308.4 255.3L310.0 255.6L311.6 255.9L313.1 256.1L314.7 256.4L316.3 256.6L317.9 256.7L319.5 256.9L321.1 257.0L322.7 257.2L324.3 257.3L325.9 257.4L327.5 257.4" fill="none" stroke="url(#chkg)" stroke-width="1.2"/>
<path d="M161.6 232.7L163.2 233.8L164.8 234.8L166.4 235.8L168.0 236.7L169.6 237.5L171.2 238.4L172.8 239.1L174.4 239.9L176.0 240.6L177.6 241.3L179.2 241.9L180.8 242.5L182.4 243.1L183.9 243.6L185.5 244.2L187.1 244.6L188.7 245.1L190.3 245.5L191.9 245.9L193.5 246.3L195.1 246.6L196.7 246.9L198.3 247.2L199.9 247.4L201.5 247.7L203.1 247.8L204.7 248.0L206.3 248.1L207.9 248.2L209.5 248.2L211.1 248.2L212.7 248.1L214.3 248.0L215.8 247.9L217.4 247.6L219.0 247.3L220.6 246.9L222.2 246.4L223.8 245.8L225.4 245.1L227.0 244.3L228.6 243.2L230.2 242.0L231.8 240.5L233.4 238.7L235.0 236.6L236.6 234.1L238.2 231.1L239.8 227.5L241.4 223.2L243.0 218.2L244.6 212.1L246.2 205.1L247.8 196.8L249.3 187.1L250.9 176.0L252.5 163.6L254.1 149.9L255.7 135.1L257.3 119.6L258.9 103.8L260.5 88.5L262.1 74.1L263.7 61.2L265.3 50.3L266.9 41.7L268.5 35.5L270.1 31.8L271.7 30.2L273.3 30.6L274.9 32.8L276.5 36.4L278.1 41.2L279.6 46.9L281.2 53.3L282.8 60.1L284.4 67.3L286.0 74.7L287.6 82.2L289.2 89.7L290.8 97.2L292.4 104.5L294.0 111.7L295.6 118.7L297.2 125.5L298.8 132.1L300.4 138.4L302.0 144.5L303.6 150.4L305.2 156.1L306.8 161.5L308.4 166.6L310.0 171.6L311.6 176.3L313.1 180.8L314.7 185.1L316.3 189.2L317.9 193.1L319.5 196.8L321.1 200.3L322.7 203.6L324.3 206.8L325.9 209.8L327.5 212.7" fill="none" stroke="url(#chkg)" stroke-width="1.2"/>
<path d="M161.6 236.6L163.2 235.9L164.8 235.1L166.4 234.2L168.0 233.3L169.6 232.4L171.2 231.3L172.8 230.2L174.4 229.1L176.0 227.8L177.6 226.5L179.2 225.1L180.8 223.6L182.4 222.1L183.9 220.4L185.5 218.7L187.1 216.9L188.7 214.9L190.3 212.9L191.9 210.7L193.5 208.4L195.1 206.0L196.7 203.5L198.3 200.8L199.9 198.0L201.5 195.1L203.1 191.9L204.7 188.6L206.3 185.2L207.9 181.5L209.5 177.7L211.1 173.7L212.7 169.5L214.3 165.1L215.8 160.5L217.4 155.6L219.0 150.6L220.6 145.4L222.2 139.9L223.8 134.3L225.4 128.4L227.0 122.4L228.6 116.3L230.2 110.1L231.8 103.8L233.4 97.4L235.0 91.2L236.6 85.1L238.2 79.4L239.8 74.0L241.4 69.2L243.0 65.2L244.6 62.2L246.2 60.4L247.8 60.1L249.3 61.6L250.9 64.9L252.5 70.2L254.1 77.5L255.7 86.7L257.3 97.7L258.9 110.0L260.5 123.1L262.1 136.5L263.7 149.8L265.3 162.5L266.9 174.2L268.5 184.9L270.1 194.4L271.7 202.7L273.3 209.9L274.9 216.0L276.5 221.3L278.1 225.7L279.6 229.5L281.2 232.7L282.8 235.4L284.4 237.7L286.0 239.7L287.6 241.3L289.2 242.8L290.8 244.0L292.4 245.1L294.0 246.0L295.6 246.8L297.2 247.5L298.8 248.1L300.4 248.6L302.0 249.1L303.6 249.5L305.2 249.9L306.8 250.2L308.4 250.5L310.0 250.8L311.6 251.0L313.1 251.2L314.7 251.4L316.3 251.6L317.9 251.7L319.5 251.8L321.1 251.9L322.7 252.0L324.3 252.1L325.9 252.2L327.5 252.2" fill="none" stroke="url(#chkg)" stroke-width="1.2"/>
<path d="M161.6 232.8L163.2 233.8L164.8 234.8L166.4 235.8L168.0 236.7L169.6 237.5L171.2 238.3L172.8 239.1L174.4 239.8L176.0 240.5L177.6 241.1L179.2 241.6L180.8 242.2L182.4 242.7L183.9 243.1L185.5 243.5L187.1 243.9L188.7 244.3L190.3 244.6L191.9 244.9L193.5 245.2L195.1 245.4L196.7 245.6L198.3 245.8L199.9 245.9L201.5 246.0L203.1 246.1L204.7 246.1L206.3 246.1L207.9 246.1L209.5 246.0L211.1 245.9L212.7 245.7L214.3 245.5L215.8 245.2L217.4 244.8L219.0 244.4L220.6 243.9L222.2 243.3L223.8 242.6L225.4 241.7L227.0 240.7L228.6 239.5L230.2 238.1L231.8 236.5L233.4 234.6L235.0 232.3L236.6 229.6L238.2 226.5L239.8 222.8L241.4 218.4L243.0 213.2L244.6 207.1L246.2 200.0L247.8 191.8L249.3 182.4L250.9 171.9L252.5 160.1L254.1 147.4L255.7 134.0L257.3 120.3L258.9 106.7L260.5 93.9L262.1 82.3L263.7 72.4L265.3 64.4L266.9 58.5L268.5 54.6L270.1 52.8L271.7 52.8L273.3 54.3L274.9 57.1L276.5 61.1L278.1 65.8L279.6 71.3L281.2 77.2L282.8 83.4L284.4 89.9L286.0 96.5L287.6 103.0L289.2 109.6L290.8 116.1L292.4 122.4L294.0 128.7L295.6 134.7L297.2 140.5L298.8 146.2L300.4 151.6L302.0 156.9L303.6 161.9L305.2 166.7L306.8 171.3L308.4 175.7L310.0 179.9L311.6 184.0L313.1 187.8L314.7 191.4L316.3 194.9L317.9 198.2L319.5 201.4L321.1 204.4L322.7 207.2L324.3 209.9L325.9 212.4L327.5 214.9" fill="none" stroke="url(#chkg)" stroke-width="1.2"/>
<path d="M161.6 237.1L163.2 236.3L164.8 235.6L166.4 234.7L168.0 233.9L169.6 232.9L171.2 231.9L172.8 230.9L174.4 229.8L176.0 228.5L177.6 227.2L179.2 225.8L180.8 224.3L182.4 222.7L183.9 221.0L185.5 219.3L187.1 217.4L188.7 215.4L190.3 213.4L191.9 211.2L193.5 208.9L195.1 206.4L196.7 203.8L198.3 201.1L199.9 198.2L201.5 195.2L203.1 191.9L204.7 188.6L206.3 185.0L207.9 181.2L209.5 177.3L211.1 173.1L212.7 168.7L214.3 164.1L215.8 159.3L217.4 154.2L219.0 148.9L220.6 143.4L222.2 137.6L223.8 131.6L225.4 125.4L227.0 119.0L228.6 112.4L230.2 105.6L231.8 98.7L233.4 91.8L235.0 84.8L236.6 77.9L238.2 71.3L239.8 64.9L241.4 59.1L243.0 53.9L244.6 49.7L246.2 46.6L247.8 44.9L249.3 45.0L250.9 47.0L252.5 51.3L254.1 57.9L255.7 66.7L257.3 77.6L258.9 90.2L260.5 104.0L262.1 118.6L263.7 133.2L265.3 147.4L266.9 160.8L268.5 173.1L270.1 184.2L271.7 193.9L273.3 202.3L274.9 209.6L276.5 215.8L278.1 221.1L279.6 225.6L281.2 229.4L282.8 232.6L284.4 235.3L286.0 237.6L287.6 239.5L289.2 241.2L290.8 242.6L292.4 243.9L294.0 245.0L295.6 245.9L297.2 246.7L298.8 247.4L300.4 248.0L302.0 248.5L303.6 249.0L305.2 249.4L306.8 249.8L308.4 250.2L310.0 250.5L311.6 250.7L313.1 251.0L314.7 251.2L316.3 251.3L317.9 251.5L319.5 251.7L321.1 251.8L322.7 251.9L324.3 252.0L325.9 252.1L327.5 252.2" fill="none" stroke="url(#chkg)" stroke-width="1.2"/>
<path d="M161.6 232.7L163.2 233.8L164.8 234.8L166.4 235.8L168.0 236.7L169.6 237.5L171.2 238.4L172.8 239.1L174.4 239.9L176.0 240.5L177.6 241.1L179.2 241.6L180.8 242.1L182.4 242.6L183.9 243.1L185.5 243.5L187.1 243.9L188.7 244.2L190.3 244.5L191.9 244.8L193.5 245.1L195.1 245.3L196.7 245.5L198.3 245.7L199.9 245.8L201.5 246.0L203.1 246.0L204.7 246.1L206.3 246.1L207.9 246.0L209.5 246.0L211.1 245.9L212.7 245.7L214.3 245.5L215.8 245.2L217.4 244.9L219.0 244.4L220.6 244.0L222.2 243.4L223.8 242.7L225.4 241.9L227.0 240.9L228.6 239.8L230.2 238.4L231.8 236.8L233.4 235.0L235.0 232.8L236.6 230.2L238.2 227.2L239.8 223.6L241.4 219.3L243.0 214.2L244.6 208.3L246.2 201.3L247.8 193.1L249.3 183.7L250.9 172.9L252.5 160.9L254.1 147.7L255.7 133.5L257.3 118.7L258.9 103.8L260.5 89.3L262.1 75.8L263.7 63.8L265.3 53.8L266.9 46.0L268.5 40.5L270.1 37.2L271.7 36.0L273.3 36.7L274.9 39.0L276.5 42.6L278.1 47.3L279.6 52.8L281.2 58.9L282.8 65.5L284.4 72.4L286.0 79.4L287.6 86.6L289.2 93.7L290.8 100.8L292.4 107.7L294.0 114.5L295.6 121.2L297.2 127.6L298.8 133.8L300.4 139.8L302.0 145.6L303.6 151.2L305.2 156.5L306.8 161.6L308.4 166.5L310.0 171.2L311.6 175.7L313.1 179.9L314.7 184.0L316.3 187.8L317.9 191.5L319.5 195.0L321.1 198.3L322.7 201.5L324.3 204.5L325.9 207.3L327.5 210.0" fill="none" stroke="url(#chkg)" stroke-width="1.2"/>
<path d="M161.6 236.7L163.2 236.0L164.8 235.2L166.4 234.4L168.0 233.5L169.6 232.5L171.2 231.5L172.8 230.4L174.4 229.3L176.0 228.1L177.6 226.9L179.2 225.5L180.8 224.1L182.4 222.6L183.9 221.0L185.5 219.3L187.1 217.5L188.7 215.6L190.3 213.6L191.9 211.4L193.5 209.1L195.1 206.7L196.7 204.2L198.3 201.4L199.9 198.6L201.5 195.5L203.1 192.3L204.7 188.9L206.3 185.3L207.9 181.5L209.5 177.5L211.1 173.3L212.7 168.9L214.3 164.2L215.8 159.3L217.4 154.1L219.0 148.7L220.6 143.1L222.2 137.2L223.8 131.1L225.4 124.7L227.0 118.2L228.6 111.5L230.2 104.6L231.8 97.6L233.4 90.5L235.0 83.5L236.6 76.7L238.2 70.1L239.8 63.8L241.4 58.2L243.0 53.4L244.6 49.5L246.2 47.0L247.8 46.1L249.3 47.0L250.9 50.1L252.5 55.5L254.1 63.2L255.7 73.1L257.3 85.0L258.9 98.4L260.5 112.9L262.1 127.8L263.7 142.5L265.3 156.7L266.9 169.9L268.5 182.0L270.1 192.7L271.7 202.1L273.3 210.2L274.9 217.2L276.5 223.2L278.1 228.2L279.6 232.5L281.2 236.1L282.8 239.2L284.4 241.8L286.0 244.0L287.6 245.9L289.2 247.6L290.8 249.0L292.4 250.2L294.0 251.2L295.6 252.1L297.2 252.9L298.8 253.6L300.4 254.2L302.0 254.7L303.6 255.2L305.2 255.6L306.8 256.0L308.4 256.3L310.0 256.6L311.6 256.9L313.1 257.1L314.7 257.3L316.3 257.5L317.9 257.6L319.5 257.8L321.1 257.9L322.7 258.0L324.3 258.1L325.9 258.2L327.5 258.2" fill="none" stroke="url(#chkg)" stroke-width="1.2"/>
<path d="M161.6 232.8L163.2 233.8L164.8 234.8L166.4 235.8L168.0 236.7L169.6 237.5L171.2 238.3L172.8 239.1L174.4 239.8L176.0 240.6L177.6 241.3L179.2 241.9L180.8 242.6L182.4 243.2L183.9 243.7L185.5 244.3L187.1 244.8L188.7 245.2L190.3 245.7L191.9 246.1L193.5 246.5L195.1 246.8L196.7 247.1L198.3 247.4L199.9 247.7L201.5 247.9L203.1 248.1L204.7 248.2L206.3 248.3L207.9 248.4L209.5 248.5L211.1 248.4L212.7 248.4L214.3 248.3L215.8 248.1L217.4 247.8L219.0 247.5L220.6 247.1L222.2 246.6L223.8 245.9L225.4 245.1L227.0 244.2L228.6 243.1L230.2 241.7L231.8 240.1L233.4 238.2L235.0 235.9L236.6 233.2L238.2 229.9L239.8 226.0L241.4 221.4L243.0 216.0L244.6 209.5L246.2 202.0L247.8 193.2L249.3 183.0L250.9 171.5L252.5 158.7L254.1 144.7L255.7 130.0L257.3 114.8L258.9 99.7L260.5 85.3L262.1 72.2L263.7 60.8L265.3 51.6L266.9 44.6L268.5 40.0L270.1 37.6L271.7 37.2L273.3 38.6L274.9 41.6L276.5 45.8L278.1 50.9L279.6 56.8L281.2 63.3L282.8 70.2L284.4 77.3L286.0 84.6L287.6 91.9L289.2 99.1L290.8 106.3L292.4 113.4L294.0 120.3L295.6 127.0L297.2 133.5L298.8 139.8L300.4 145.9L302.0 151.7L303.6 157.3L305.2 162.7L306.8 167.8L308.4 172.7L310.0 177.4L311.6 181.9L313.1 186.2L314.7 190.2L316.3 194.1L317.9 197.8L319.5 201.3L321.1 204.7L322.7 207.8L324.3 210.8L325.9 213.7L327.5 216.4" fill="none" stroke="url(#chkg)" stroke-width="1.2"/>
<path d="M161.6 237.6L163.2 236.8L164.8 236.1L166.4 235.3L168.0 234.5L169.6 233.5L171.2 232.6L172.8 231.6L174.4 230.5L176.0 229.4L177.6 228.3L179.2 227.1L180.8 225.8L182.4 224.5L183.9 223.0L185.5 221.5L187.1 219.9L188.7 218.2L190.3 216.4L191.9 214.5L193.5 212.4L195.1 210.3L196.7 208.0L198.3 205.6L199.9 203.1L201.5 200.5L203.1 197.6L204.7 194.7L206.3 191.5L207.9 188.2L209.5 184.8L211.1 181.1L212.7 177.3L214.3 173.2L215.8 169.0L217.4 164.5L219.0 159.9L220.6 155.0L222.2 149.9L223.8 144.7L225.4 139.2L227.0 133.5L228.6 127.7L230.2 121.7L231.8 115.6L233.4 109.4L235.0 103.2L236.6 97.1L238.2 91.0L239.8 85.2L241.4 79.8L243.0 74.9L244.6 70.7L246.2 67.5L247.8 65.4L249.3 64.8L250.9 65.8L252.5 68.4L254.1 73.1L255.7 79.9L257.3 88.7L258.9 99.4L260.5 111.6L262.1 124.8L263.7 138.4L265.3 152.0L266.9 165.0L268.5 177.2L270.1 188.2L271.7 198.1L273.3 206.7L274.9 214.1L276.5 220.5L278.1 225.9L279.6 230.5L281.2 234.4L282.8 237.7L284.4 240.5L286.0 242.8L287.6 244.8L289.2 246.5L290.8 247.9L292.4 249.2L294.0 250.2L295.6 251.2L297.2 252.0L298.8 252.7L300.4 253.3L302.0 253.8L303.6 254.3L305.2 254.7L306.8 255.1L308.4 255.4L310.0 255.7L311.6 256.0L313.1 256.2L314.7 256.4L316.3 256.6L317.9 256.7L319.5 256.9L321.1 257.0L322.7 257.1L324.3 257.2L325.9 257.3L327.5 257.4" fill="none" stroke="url(#chkg)" stroke-width="1.2"/>
<path d="M161.6 232.7L163.2 233.8L164.8 234.8L166.4 235.7L168.0 236.7L169.6 237.5L171.2 238.4L172.8 239.1L174.4 239.9L176.0 240.7L177.6 241.4L179.2 242.1L180.8 242.7L182.4 243.3L183.9 243.9L185.5 244.5L187.1 245.0L188.7 245.4L190.3 245.9L191.9 246.3L193.5 246.7L195.1 247.1L196.7 247.4L198.3 247.7L199.9 248.0L201.5 248.2L203.1 248.4L204.7 248.6L206.3 248.7L207.9 248.8L209.5 248.9L211.1 248.9L212.7 248.9L214.3 248.9L215.8 248.8L217.4 248.6L219.0 248.4L220.6 248.1L222.2 247.7L223.8 247.3L225.4 246.7L227.0 246.0L228.6 245.2L230.2 244.2L231.8 243.0L233.4 241.6L235.0 239.9L236.6 237.9L238.2 235.5L239.8 232.7L241.4 229.3L243.0 225.3L244.6 220.5L246.2 214.9L247.8 208.2L249.3 200.5L250.9 191.6L252.5 181.3L254.1 169.8L255.7 157.2L257.3 143.7L258.9 129.8L260.5 116.0L262.1 102.7L263.7 90.5L265.3 79.9L266.9 71.2L268.5 64.6L270.1 60.1L271.7 57.7L273.3 57.2L274.9 58.4L276.5 61.0L278.1 64.7L279.6 69.3L281.2 74.6L282.8 80.5L284.4 86.7L286.0 93.1L287.6 99.7L289.2 106.3L290.8 112.9L292.4 119.4L294.0 125.8L295.6 132.1L297.2 138.1L298.8 144.0L300.4 149.7L302.0 155.2L303.6 160.5L305.2 165.6L306.8 170.4L308.4 175.1L310.0 179.5L311.6 183.8L313.1 187.8L314.7 191.7L316.3 195.4L317.9 198.9L319.5 202.2L321.1 205.4L322.7 208.4L324.3 211.3L325.9 214.0L327.5 216.6" fill="none" stroke="url(#chkg)" stroke-width="1.2"/>
<path d="M161.6 237.8L163.2 237.2L164.8 236.4L166.4 235.6L168.0 234.8L169.6 233.9L171.2 233.0L172.8 232.0L174.4 230.9L176.0 229.8L177.6 228.7L179.2 227.4L180.8 226.1L182.4 224.7L183.9 223.2L185.5 221.6L187.1 219.9L188.7 218.1L190.3 216.2L191.9 214.2L193.5 212.0L195.1 209.8L196.7 207.4L198.3 204.8L199.9 202.1L201.5 199.2L203.1 196.2L204.7 193.0L206.3 189.6L207.9 186.0L209.5 182.3L211.1 178.3L212.7 174.1L214.3 169.6L215.8 165.0L217.4 160.0L219.0 154.9L220.6 149.5L222.2 143.8L223.8 137.9L225.4 131.7L227.0 125.3L228.6 118.6L230.2 111.8L231.8 104.7L233.4 97.5L235.0 90.2L236.6 82.9L238.2 75.7L239.8 68.6L241.4 61.8L243.0 55.5L244.6 49.9L246.2 45.2L247.8 41.7L249.3 39.7L250.9 39.4L252.5 41.4L254.1 45.7L255.7 52.5L257.3 61.6L258.9 73.0L260.5 86.3L262.1 101.0L263.7 116.4L265.3 132.1L266.9 147.3L268.5 161.6L270.1 174.8L271.7 186.6L273.3 197.0L274.9 206.0L276.5 213.8L278.1 220.3L279.6 225.9L281.2 230.6L282.8 234.6L284.4 238.0L286.0 240.8L287.6 243.2L289.2 245.2L290.8 247.0L292.4 248.5L294.0 249.7L295.6 250.9L297.2 251.8L298.8 252.6L300.4 253.4L302.0 254.0L303.6 254.6L305.2 255.1L306.8 255.5L308.4 255.9L310.0 256.2L311.6 256.5L313.1 256.8L314.7 257.0L316.3 257.3L317.9 257.5L319.5 257.6L321.1 257.8L322.7 257.9L324.3 258.0L325.9 258.2L327.5 258.2" fill="none" stroke="url(#chkg)" stroke-width="1.2"/>
<path d="M161.6 232.7L163.2 233.7L164.8 234.8L166.4 235.7L168.0 236.7L169.6 237.5L171.2 238.4L172.8 239.2L174.4 239.9L176.0 240.6L177.6 241.3L179.2 242.0L180.8 242.6L182.4 243.3L183.9 243.8L185.5 244.4L187.1 244.9L188.7 245.4L190.3 245.8L191.9 246.2L193.5 246.6L195.1 247.0L196.7 247.3L198.3 247.6L199.9 247.9L201.5 248.2L203.1 248.4L204.7 248.6L206.3 248.7L207.9 248.8L209.5 248.9L211.1 249.0L212.7 249.0L214.3 248.9L215.8 248.8L217.4 248.7L219.0 248.5L220.6 248.2L222.2 247.8L223.8 247.3L225.4 246.8L227.0 246.1L228.6 245.2L230.2 244.2L231.8 243.0L233.4 241.5L235.0 239.8L236.6 237.7L238.2 235.2L239.8 232.3L241.4 228.7L243.0 224.5L244.6 219.5L246.2 213.5L247.8 206.4L249.3 198.0L250.9 188.4L252.5 177.2L254.1 164.7L255.7 150.8L257.3 135.8L258.9 120.1L260.5 104.1L262.1 88.5L263.7 73.9L265.3 61.0L266.9 50.0L268.5 41.5L270.1 35.4L271.7 31.7L273.3 30.2L274.9 30.8L276.5 33.1L278.1 36.9L279.6 41.8L281.2 47.6L282.8 54.0L284.4 60.9L286.0 68.2L287.6 75.6L289.2 83.2L290.8 90.7L292.4 98.1L294.0 105.5L295.6 112.6L297.2 119.6L298.8 126.4L300.4 133.0L302.0 139.3L303.6 145.4L305.2 151.3L306.8 156.9L308.4 162.3L310.0 167.5L311.6 172.4L313.1 177.1L314.7 181.6L316.3 185.9L317.9 189.9L319.5 193.8L321.1 197.5L322.7 201.0L324.3 204.3L325.9 207.5L327.5 210.5" fill="none" stroke="url(#chkg)" stroke-width="1.2"/>
<path d="M161.6 237.7L163.2 237.0L164.8 236.3L166.4 235.5L168.0 234.6L169.6 233.7L171.2 232.8L172.8 231.8L174.4 230.7L176.0 229.5L177.6 228.3L179.2 226.9L180.8 225.5L182.4 224.1L183.9 222.5L185.5 220.8L187.1 219.1L188.7 217.2L190.3 215.3L191.9 213.2L193.5 211.0L195.1 208.7L196.7 206.3L198.3 203.7L199.9 201.0L201.5 198.1L203.1 195.1L204.7 191.9L206.3 188.5L207.9 185.0L209.5 181.2L211.1 177.3L212.7 173.2L214.3 168.8L215.8 164.2L217.4 159.5L219.0 154.4L220.6 149.2L222.2 143.7L223.8 138.0L225.4 132.0L227.0 125.9L228.6 119.5L230.2 112.9L231.8 106.2L233.4 99.4L235.0 92.6L236.6 85.7L238.2 78.9L239.8 72.4L241.4 66.1L243.0 60.4L244.6 55.4L246.2 51.4L247.8 48.5L249.3 47.1L250.9 47.4L252.5 49.8L254.1 54.4L255.7 61.2L257.3 70.3L258.9 81.5L260.5 94.3L262.1 108.3L263.7 122.9L265.3 137.5L266.9 151.7L268.5 164.9L270.1 177.1L271.7 187.9L273.3 197.4L274.9 205.6L276.5 212.6L278.1 218.6L279.6 223.7L281.2 228.0L282.8 231.6L284.4 234.7L286.0 237.3L287.6 239.4L289.2 241.3L290.8 242.9L292.4 244.3L294.0 245.4L295.6 246.5L297.2 247.3L298.8 248.1L300.4 248.8L302.0 249.4L303.6 249.9L305.2 250.3L306.8 250.7L308.4 251.1L310.0 251.4L311.6 251.7L313.1 251.9L314.7 252.2L316.3 252.4L317.9 252.5L319.5 252.7L321.1 252.8L322.7 253.0L324.3 253.1L325.9 253.2L327.5 253.3" fill="none" stroke="url(#chkg)" stroke-width="1.2"/>
<path d="M161.6 232.7L163.2 233.8L164.8 234.8L166.4 235.7L168.0 236.7L169.6 237.5L171.2 238.4L172.8 239.1L174.4 239.9L176.0 240.5L177.6 241.2L179.2 241.7L180.8 242.3L182.4 242.8L183.9 243.3L185.5 243.7L187.1 244.2L188.7 244.5L190.3 244.9L191.9 245.2L193.5 245.5L195.1 245.8L196.7 246.0L198.3 246.2L199.9 246.4L201.5 246.6L203.1 246.7L204.7 246.8L206.3 246.8L207.9 246.8L209.5 246.8L211.1 246.8L212.7 246.7L214.3 246.5L215.8 246.3L217.4 246.1L219.0 245.7L220.6 245.3L222.2 244.9L223.8 244.3L225.4 243.6L227.0 242.9L228.6 241.9L230.2 240.8L231.8 239.5L233.4 238.0L235.0 236.2L236.6 234.0L238.2 231.5L239.8 228.4L241.4 224.8L243.0 220.6L244.6 215.6L246.2 209.6L247.8 202.6L249.3 194.4L250.9 184.9L252.5 174.2L254.1 162.0L255.7 148.7L257.3 134.4L258.9 119.5L260.5 104.6L262.1 90.1L263.7 76.7L265.3 64.9L266.9 55.1L268.5 47.6L270.1 42.4L271.7 39.4L273.3 38.5L274.9 39.4L276.5 41.9L278.1 45.7L279.6 50.5L281.2 56.1L282.8 62.3L284.4 68.9L286.0 75.8L287.6 82.8L289.2 89.9L290.8 97.0L292.4 104.0L294.0 110.8L295.6 117.6L297.2 124.1L298.8 130.5L300.4 136.6L302.0 142.5L303.6 148.3L305.2 153.7L306.8 159.0L308.4 164.0L310.0 168.8L311.6 173.4L313.1 177.8L314.7 182.0L316.3 186.0L317.9 189.8L319.5 193.4L321.1 196.8L322.7 200.1L324.3 203.2L325.9 206.1L327.5 208.9" fill="none" stroke="url(#chkg)" stroke-width="1.2"/>
<path d="M161.6 236.4L163.2 235.6L164.8 234.8L166.4 234.0L168.0 233.0L169.6 232.1L171.2 231.0L172.8 229.9L174.4 228.8L176.0 227.5L177.6 226.2L179.2 224.9L180.8 223.4L182.4 221.9L183.9 220.2L185.5 218.5L187.1 216.6L188.7 214.6L190.3 212.6L191.9 210.4L193.5 208.0L195.1 205.5L196.7 202.9L198.3 200.1L199.9 197.2L201.5 194.1L203.1 190.8L204.7 187.4L206.3 183.7L207.9 179.9L209.5 175.8L211.1 171.5L212.7 167.0L214.3 162.3L215.8 157.3L217.4 152.1L219.0 146.7L220.6 141.0L222.2 135.1L223.8 129.0L225.4 122.6L227.0 116.1L228.6 109.4L230.2 102.6L231.8 95.7L233.4 88.8L235.0 82.0L236.6 75.4L238.2 69.1L239.8 63.2L241.4 58.1L243.0 53.8L244.6 50.7L246.2 49.0L247.8 49.0L249.3 50.8L250.9 54.9L252.5 61.2L254.1 69.8L255.7 80.4L257.3 92.8L258.9 106.4L260.5 120.8L262.1 135.4L263.7 149.6L265.3 163.1L266.9 175.5L268.5 186.7L270.1 196.6L271.7 205.3L273.3 212.7L274.9 219.1L276.5 224.6L278.1 229.2L279.6 233.1L281.2 236.5L282.8 239.3L284.4 241.7L286.0 243.7L287.6 245.5L289.2 247.0L290.8 248.3L292.4 249.4L294.0 250.4L295.6 251.2L297.2 252.0L298.8 252.6L300.4 253.2L302.0 253.7L303.6 254.1L305.2 254.5L306.8 254.9L308.4 255.2L310.0 255.4L311.6 255.7L313.1 255.9L314.7 256.1L316.3 256.3L317.9 256.4L319.5 256.5L321.1 256.7L322.7 256.8L324.3 256.8L325.9 256.9L327.5 257.0" fill="none" stroke="url(#chkg)" stroke-width="1.2"/>
<path d="M161.6 232.8L163.2 233.8L164.8 234.8L166.4 235.8L168.0 236.7L169.6 237.5L171.2 238.3L172.8 239.1L174.4 239.8L176.0 240.5L177.6 241.2L179.2 241.9L180.8 242.5L182.4 243.0L183.9 243.6L185.5 244.1L187.1 244.5L188.7 245.0L190.3 245.4L191.9 245.8L193.5 246.1L195.1 246.4L196.7 246.7L198.3 247.0L199.9 247.2L201.5 247.4L203.1 247.5L204.7 247.7L206.3 247.7L207.9 247.8L209.5 247.8L211.1 247.7L212.7 247.6L214.3 247.4L215.8 247.2L217.4 246.9L219.0 246.5L220.6 246.0L222.2 245.4L223.8 244.7L225.4 243.8L227.0 242.8L228.6 241.5L230.2 240.0L231.8 238.3L233.4 236.2L235.0 233.7L236.6 230.7L238.2 227.2L239.8 223.0L241.4 218.1L243.0 212.2L244.6 205.4L246.2 197.4L247.8 188.1L249.3 177.5L250.9 165.6L252.5 152.5L254.1 138.4L255.7 123.7L257.3 108.9L258.9 94.4L260.5 80.9L262.1 68.8L263.7 58.7L265.3 50.7L266.9 44.9L268.5 41.4L270.1 40.0L271.7 40.5L273.3 42.6L274.9 46.0L276.5 50.6L278.1 56.0L279.6 62.1L281.2 68.6L282.8 75.5L284.4 82.6L286.0 89.7L287.6 96.9L289.2 104.0L290.8 111.0L292.4 117.9L294.0 124.6L295.6 131.1L297.2 137.4L298.8 143.4L300.4 149.3L302.0 154.9L303.6 160.3L305.2 165.5L306.8 170.5L308.4 175.2L310.0 179.7L311.6 184.0L313.1 188.2L314.7 192.1L316.3 195.8L317.9 199.3L319.5 202.7L321.1 205.9L322.7 208.9L324.3 211.8L325.9 214.6L327.5 217.2" fill="none" stroke="url(#chkg)" stroke-width="1.2"/>
<path d="M161.6 237.2L163.2 236.5L164.8 235.7L166.4 234.9L168.0 234.0L169.6 233.1L171.2 232.1L172.8 231.1L174.4 230.0L176.0 228.9L177.6 227.7L179.2 226.4L180.8 225.0L182.4 223.6L183.9 222.0L185.5 220.4L187.1 218.7L188.7 216.8L190.3 214.9L191.9 212.8L193.5 210.6L195.1 208.3L196.7 205.8L198.3 203.2L199.9 200.5L201.5 197.6L203.1 194.5L204.7 191.2L206.3 187.7L207.9 184.1L209.5 180.3L211.1 176.2L212.7 171.9L214.3 167.4L215.8 162.7L217.4 157.7L219.0 152.5L220.6 147.1L222.2 141.4L223.8 135.5L225.4 129.3L227.0 122.9L228.6 116.3L230.2 109.6L231.8 102.7L233.4 95.7L235.0 88.8L236.6 81.8L238.2 75.1L239.8 68.6L241.4 62.6L243.0 57.3L244.6 52.8L246.2 49.4L247.8 47.5L249.3 47.2L250.9 48.9L252.5 52.8L254.1 59.0L255.7 67.5L257.3 78.2L258.9 90.8L260.5 104.7L262.1 119.4L263.7 134.3L265.3 149.0L266.9 162.8L268.5 175.6L270.1 187.2L271.7 197.3L273.3 206.2L274.9 213.9L276.5 220.4L278.1 225.9L279.6 230.6L281.2 234.6L282.8 238.0L284.4 240.8L286.0 243.2L287.6 245.3L289.2 247.0L290.8 248.5L292.4 249.8L294.0 250.9L295.6 251.9L297.2 252.7L298.8 253.5L300.4 254.1L302.0 254.7L303.6 255.2L305.2 255.6L306.8 256.0L308.4 256.3L310.0 256.7L311.6 256.9L313.1 257.2L314.7 257.4L316.3 257.6L317.9 257.8L319.5 257.9L321.1 258.0L322.7 258.2L324.3 258.3L325.9 258.4L327.5 258.4" fill="none" stroke="url(#chkg)" stroke-width="1.2"/>
<path d="M161.6 232.7L163.2 233.8L164.8 234.8L166.4 235.8L168.0 236.7L169.6 237.5L171.2 238.4L172.8 239.1L174.4 239.9L176.0 240.6L177.6 241.3L179.2 242.0L180.8 242.6L182.4 243.3L183.9 243.8L185.5 244.4L187.1 244.9L188.7 245.4L190.3 245.8L191.9 246.2L193.5 246.6L195.1 247.0L196.7 247.3L198.3 247.6L199.9 247.9L201.5 248.1L203.1 248.3L204.7 248.5L206.3 248.7L207.9 248.8L209.5 248.8L211.1 248.8L212.7 248.8L214.3 248.7L215.8 248.6L217.4 248.4L219.0 248.1L220.6 247.8L222.2 247.3L223.8 246.8L225.4 246.1L227.0 245.3L228.6 244.3L230.2 243.2L231.8 241.8L233.4 240.1L235.0 238.1L236.6 235.7L238.2 232.8L239.8 229.4L241.4 225.4L243.0 220.5L244.6 214.8L246.2 208.0L247.8 200.1L249.3 190.9L250.9 180.3L252.5 168.4L254.1 155.2L255.7 140.9L257.3 125.9L258.9 110.6L260.5 95.7L262.1 81.6L263.7 69.1L265.3 58.4L266.9 49.9L268.5 43.8L270.1 40.0L271.7 38.4L273.3 38.7L274.9 40.7L276.5 44.2L278.1 48.7L279.6 54.2L281.2 60.3L282.8 67.0L284.4 73.9L286.0 81.1L287.6 88.3L289.2 95.6L290.8 102.8L292.4 109.9L294.0 116.9L295.6 123.7L297.2 130.3L298.8 136.7L300.4 142.8L302.0 148.8L303.6 154.5L305.2 159.9L306.8 165.2L308.4 170.2L310.0 175.0L311.6 179.6L313.1 184.0L314.7 188.1L316.3 192.1L317.9 195.9L319.5 199.5L321.1 202.9L322.7 206.1L324.3 209.2L325.9 212.1L327.5 214.9" fill="none" stroke="url(#chkg)" stroke-width="1.2"/>
</g>
<path d="M72.3 28.0V261.3H327.5" fill="none" stroke="#262626" stroke-width="1"/>
<path d="M72.3 261.3v-3.4" stroke="#262626" stroke-width="1"/>
<text x="71.5" y="285.0" font-size="17.5" text-anchor="middle" fill="#262626">0</text>
<path d="M136.1 261.3v-3.4" stroke="#262626" stroke-width="1"/>
<text x="135.3" y="285.0" font-size="17.5" text-anchor="middle" fill="#262626">5</text>
<path d="M199.9 261.3v-3.4" stroke="#262626" stroke-width="1"/>
<text x="199.1" y="285.0" font-size="17.5" text-anchor="middle" fill="#262626">10</text>
<path d="M263.7 261.3v-3.4" stroke="#262626" stroke-width="1"/>
<text x="262.9" y="285.0" font-size="17.5" text-anchor="middle" fill="#262626">15</text>
<path d="M327.5 261.3v-3.4" stroke="#262626" stroke-width="1"/>
<text x="326.7" y="285.0" font-size="17.5" text-anchor="middle" fill="#262626">20</text>
<text x="218.5" y="20.4" font-size="19.3" text-anchor="middle" fill="#000">Chkrebtii et al. (2016)</text>
<g clip-path="url(#clip1)">
<path d="M427.3 102.3L433.7 149.0L440.1 185.5L446.5 208.0L452.9 220.6L459.3 227.6L465.7 231.4L472.1 233.3L478.5 234.1L484.9 234.0L491.3 233.2L497.7 231.8L504.1 229.8L510.5 227.1L516.9 223.6L523.3 219.2L529.7 213.5L536.1 206.4L542.5 197.7L548.9 186.9L555.2 173.9L561.6 158.6L568.0 141.3L574.4 123.7L580.8 108.6L587.2 97.8L593.6 101.6L600.0 126.3L606.4 163.7L612.8 196.6L619.2 217.3L625.6 228.6L632.0 234.5L638.4 237.5L644.8 238.9L651.2 239.1L657.6 238.6L664.0 237.4L670.4 235.4L676.8 232.7L683.2 229.2" fill="none" stroke="#000" stroke-width="1"/>
<path d="M427.3 102.3L433.7 70.5L440.1 63.9L446.5 76.6L452.9 97.8L459.3 120.7L465.7 142.1L472.1 160.8L478.5 176.5L484.9 189.6L491.3 200.4L497.7 209.6L504.1 217.0L510.5 222.9L516.9 227.6L523.3 231.2L529.7 233.9L536.1 235.9L542.5 237.2L548.9 237.8L555.2 237.7L561.6 236.7L568.0 234.4L574.4 229.7L580.8 220.9L587.2 203.7L593.6 173.6L600.0 132.1L606.4 95.7L612.8 82.1L619.2 91.1L625.6 111.5L632.0 134.5L638.4 155.6L644.8 173.4L651.2 188.0L657.6 199.6L664.0 208.6L670.4 215.6L676.8 220.9L683.2 224.7" fill="none" stroke="#000" stroke-width="1"/>
<path d="M427.3 102.3L433.7 149.0L440.1 185.5L446.5 208.0L452.9 220.5L459.3 227.5L465.7 231.2L472.1 233.1L478.5 233.8L484.9 233.7L491.3 232.8L497.7 231.4L504.1 229.4L510.5 226.8L516.9 223.3L523.3 219.0L529.7 213.5L536.1 206.8L542.5 198.6L548.9 188.5L555.2 176.4L561.6 162.3L568.0 146.7L574.4 131.0L580.8 118.2L587.2 108.6L593.6 112.5L600.0 135.6L606.4 170.0L612.8 200.0L619.2 218.7L625.6 228.9L632.0 234.3L638.4 237.1L644.8 238.3L651.2 238.5L657.6 238.0L664.0 236.9L670.4 235.1L676.8 232.6L683.2 229.3" fill="none" stroke="#000" stroke-width="1"/>
<path d="M427.3 102.3L433.7 70.5L440.1 63.9L446.5 76.6L452.9 97.8L459.3 120.7L465.7 142.0L472.1 160.6L478.5 176.3L484.9 189.4L491.3 200.1L497.7 209.4L504.1 216.8L510.5 222.7L516.9 227.2L523.3 230.8L529.7 233.5L536.1 235.4L542.5 236.7L548.9 237.3L555.2 237.2L561.6 236.3L568.0 234.0L574.4 229.7L580.8 221.5L587.2 205.4L593.6 177.3L600.0 138.8L606.4 105.4L612.8 93.2L619.2 101.9L625.6 120.9L632.0 142.2L638.4 161.7L644.8 178.2L651.2 191.5L657.6 202.2L664.0 210.5L670.4 217.0L676.8 221.8L683.2 225.2" fill="none" stroke="#000" stroke-width="1"/>
<path d="M427.3 102.3L433.7 149.0L440.1 185.5L446.5 208.0L452.9 220.6L459.3 227.5L465.7 231.2L472.1 233.1L478.5 233.7L484.9 233.5L491.3 232.6L497.7 231.0L504.1 228.7L510.5 225.7L516.9 221.6L523.3 216.4L529.7 209.9L536.1 201.5L542.5 191.0L548.9 177.9L555.2 161.7L561.6 142.4L568.0 120.2L574.4 97.2L580.8 77.3L587.2 66.9L593.6 77.5L600.0 113.6L606.4 159.6L612.8 195.3L619.2 216.5L625.6 227.9L632.0 233.9L638.4 236.9L644.8 238.1L651.2 238.2L657.6 237.4L664.0 235.7L670.4 233.1L676.8 229.7L683.2 225.3" fill="none" stroke="#000" stroke-width="1"/>
<path d="M427.3 102.3L433.7 70.5L440.1 63.9L446.5 76.6L452.9 98.0L459.3 121.1L465.7 142.5L472.1 161.2L478.5 176.9L484.9 189.9L491.3 200.5L497.7 209.4L504.1 216.5L510.5 222.2L516.9 226.7L523.3 230.2L529.7 233.0L536.1 235.0L542.5 236.3L548.9 236.9L555.2 236.6L561.6 235.2L568.0 232.0L574.4 225.6L580.8 213.2L587.2 189.7L593.6 149.8L600.0 99.3L606.4 61.2L612.8 52.5L619.2 67.5L625.6 93.1L632.0 120.1L638.4 144.3L644.8 164.6L651.2 181.0L657.6 194.1L664.0 204.2L670.4 212.0L676.8 217.8L683.2 221.9" fill="none" stroke="#000" stroke-width="1"/>
<path d="M427.3 102.3L433.7 149.0L440.1 185.5L446.5 208.0L452.9 221.0L459.3 227.9L465.7 231.6L472.1 233.4L478.5 233.9L484.9 233.6L491.3 232.5L497.7 230.7L504.1 228.1L510.5 224.5L516.9 219.9L523.3 213.8L529.7 206.0L536.1 196.1L542.5 183.4L548.9 167.5L555.2 148.0L561.6 124.7L568.0 98.8L574.4 73.9L580.8 58.2L587.2 63.9L593.6 99.8L600.0 150.9L606.4 191.4L612.8 214.5L619.2 226.9L625.6 233.5L632.0 236.9L638.4 238.4L644.8 238.6L651.2 237.9L657.6 236.2L664.0 233.7L670.4 230.2L676.8 225.8L683.2 224.5" fill="none" stroke="#000" stroke-width="1"/>
<path d="M427.3 102.3L433.7 70.5L440.1 63.9L446.5 76.6L452.9 98.8L459.3 122.7L465.7 144.7L472.1 163.6L478.5 179.5L484.9 192.5L491.3 203.0L497.7 211.6L504.1 218.5L510.5 224.0L516.9 228.3L523.3 231.7L529.7 234.2L536.1 236.0L542.5 237.0L548.9 237.2L555.2 236.2L561.6 233.6L568.0 228.2L574.4 217.4L580.8 196.3L587.2 158.2L593.6 105.0L600.0 59.5L606.4 44.7L612.8 56.9L619.2 81.9L625.6 110.2L632.0 136.4L638.4 158.6L644.8 176.5L651.2 190.7L657.6 201.7L664.0 210.2L670.4 216.5L676.8 221.0L683.2 222.0" fill="none" stroke="#000" stroke-width="1"/>
<path d="M427.3 102.3L433.7 149.0L440.1 185.5L446.5 208.0L452.9 220.1L459.3 226.6L465.7 230.0L472.1 231.6L478.5 231.9L484.9 231.4L491.3 230.3L497.7 228.4L504.1 225.9L510.5 222.6L516.9 218.4L523.3 213.2L529.7 206.9L536.1 199.0L542.5 189.0L548.9 176.5L555.2 161.2L561.6 142.6L568.0 121.1L574.4 98.0L580.8 76.1L587.2 60.2L593.6 60.1L600.0 85.6L606.4 130.8L612.8 174.5L619.2 203.1L625.6 219.0L632.0 227.3L638.4 231.5L644.8 233.5L651.2 234.0L657.6 233.5L664.0 232.2L670.4 229.9L676.8 226.8L683.2 222.7" fill="none" stroke="#000" stroke-width="1"/>
<path d="M427.3 102.3L433.7 70.5L440.1 63.9L446.5 76.6L452.9 97.2L459.3 119.5L465.7 140.4L472.1 158.5L478.5 173.8L484.9 186.5L491.3 196.8L497.7 205.3L504.1 212.1L510.5 217.6L516.9 221.9L523.3 225.2L529.7 228.1L536.1 230.2L542.5 231.7L548.9 232.5L555.2 232.5L561.6 231.4L568.0 228.9L574.4 223.8L580.8 213.9L587.2 194.9L593.6 161.2L600.0 112.3L606.4 64.9L612.8 42.4L619.2 49.3L625.6 72.7L632.0 100.6L638.4 126.9L644.8 149.5L651.2 168.0L657.6 182.9L664.0 194.6L670.4 203.7L676.8 210.5L683.2 215.5" fill="none" stroke="#000" stroke-width="1"/>
<path d="M427.3 102.3L433.7 149.0L440.1 185.5L446.5 208.0L452.9 220.8L459.3 227.9L465.7 231.8L472.1 233.8L478.5 234.7L484.9 234.6L491.3 233.9L497.7 232.5L504.1 230.3L510.5 227.4L516.9 223.5L523.3 218.5L529.7 211.8L536.1 203.4L542.5 192.8L548.9 179.5L555.2 163.2L561.6 143.6L568.0 121.3L574.4 98.1L580.8 78.4L587.2 68.7L593.6 80.8L600.0 118.2L606.4 164.2L612.8 199.0L619.2 219.5L625.6 230.6L632.0 236.4L638.4 239.2L644.8 240.4L651.2 240.4L657.6 239.5L664.0 237.8L670.4 235.2L676.8 231.7L683.2 227.2" fill="none" stroke="#000" stroke-width="1"/>
<path d="M427.3 102.3L433.7 70.5L440.1 63.9L446.5 76.6L452.9 98.2L459.3 121.5L465.7 143.2L472.1 162.1L478.5 178.0L484.9 191.2L491.3 202.0L497.7 211.0L504.1 218.2L510.5 224.1L516.9 228.8L523.3 232.5L529.7 235.3L536.1 237.2L542.5 238.5L548.9 239.1L555.2 238.8L561.6 237.3L568.0 234.0L574.4 227.4L580.8 214.6L587.2 190.3L593.6 149.6L600.0 98.8L606.4 62.0L612.8 54.8L619.2 70.7L625.6 96.5L632.0 123.5L638.4 147.6L644.8 167.7L651.2 184.0L657.6 196.9L664.0 206.9L670.4 214.6L676.8 220.3L683.2 224.3" fill="none" stroke="#000" stroke-width="1"/>
<path d="M427.3 102.3L433.7 149.0L440.1 185.5L446.5 208.0L452.9 221.0L459.3 228.3L465.7 232.3L472.1 234.4L478.5 235.3L484.9 235.3L491.3 234.6L497.7 233.3L504.1 231.2L510.5 228.2L516.9 224.2L523.3 219.0L529.7 211.9L536.1 202.8L542.5 191.4L548.9 177.2L555.2 159.6L561.6 138.5L568.0 114.5L574.4 90.1L580.8 70.7L587.2 65.2L593.6 85.5L600.0 129.8L606.4 175.8L612.8 206.9L619.2 224.5L625.6 233.9L632.0 238.8L638.4 241.2L644.8 242.0L651.2 241.7L657.6 240.6L664.0 238.5L670.4 235.6L676.8 231.8L683.2 228.1" fill="none" stroke="#000" stroke-width="1"/>
<path d="M427.3 102.3L433.7 70.5L440.1 63.9L446.5 76.6L452.9 98.6L459.3 122.3L465.7 144.2L472.1 163.3L478.5 179.4L484.9 192.7L491.3 203.6L497.7 212.6L504.1 219.9L510.5 225.8L516.9 230.6L523.3 234.4L529.7 237.0L536.1 238.9L542.5 240.1L548.9 240.6L555.2 240.1L561.6 238.3L568.0 234.3L574.4 226.3L580.8 210.9L587.2 181.9L593.6 135.6L600.0 84.1L606.4 53.7L612.8 54.0L619.2 74.1L625.6 101.5L632.0 128.8L638.4 152.6L644.8 172.2L651.2 187.9L657.6 200.3L664.0 209.9L670.4 217.2L676.8 222.5L683.2 225.6" fill="none" stroke="#000" stroke-width="1"/>
<path d="M427.3 102.3L433.7 149.0L440.1 185.5L446.5 208.0L452.9 220.6L459.3 227.4L465.7 231.0L472.1 232.7L478.5 233.2L484.9 232.8L491.3 231.7L497.7 229.9L504.1 227.4L510.5 224.0L516.9 219.6L523.3 214.0L529.7 206.9L536.1 197.9L542.5 186.6L548.9 172.4L555.2 154.9L561.6 134.0L568.0 110.2L574.4 85.9L580.8 66.6L587.2 61.1L593.6 81.0L600.0 124.9L606.4 170.7L612.8 201.8L619.2 219.4L625.6 228.8L632.0 233.7L638.4 236.1L644.8 237.0L651.2 236.7L657.6 235.5L664.0 233.5L670.4 230.6L676.8 226.8L683.2 223.1" fill="none" stroke="#000" stroke-width="1"/>
<path d="M427.3 102.3L433.7 70.5L440.1 63.9L446.5 76.6L452.9 98.2L459.3 121.4L465.7 143.0L472.1 161.6L478.5 177.3L484.9 190.1L491.3 200.6L497.7 209.2L504.1 216.1L510.5 221.6L516.9 226.0L523.3 229.3L529.7 232.0L536.1 233.9L542.5 235.1L548.9 235.5L555.2 235.0L561.6 233.2L568.0 229.3L574.4 221.4L580.8 206.1L587.2 177.4L593.6 131.5L600.0 80.2L606.4 49.7L612.8 49.7L619.2 69.7L625.6 96.9L632.0 124.0L638.4 147.8L644.8 167.3L651.2 183.0L657.6 195.3L664.0 204.9L670.4 212.2L676.8 217.5L683.2 220.6" fill="none" stroke="#000" stroke-width="1"/>
<path d="M427.3 102.3L433.7 149.0L440.1 185.5L446.5 208.0L452.9 220.7L459.3 227.7L465.7 231.4L472.1 233.3L478.5 233.9L484.9 233.7L491.3 232.8L497.7 231.2L504.1 229.0L510.5 225.9L516.9 221.8L523.3 216.6L529.7 209.9L536.1 201.5L542.5 190.8L548.9 177.6L555.2 161.3L561.6 141.8L568.0 119.6L574.4 96.9L580.8 78.1L587.2 70.1L593.6 84.4L600.0 123.1L606.4 168.0L612.8 200.6L619.2 219.6L625.6 229.7L632.0 235.0L638.4 237.7L644.8 238.7L651.2 238.6L657.6 237.6L664.0 235.9L670.4 233.2L676.8 229.7L683.2 225.4" fill="none" stroke="#000" stroke-width="1"/>
<path d="M427.3 102.3L433.7 70.5L440.1 63.9L446.5 76.6L452.9 98.2L459.3 121.4L465.7 143.0L472.1 161.7L478.5 177.5L484.9 190.5L491.3 201.2L497.7 210.1L504.1 217.2L510.5 222.9L516.9 227.4L523.3 231.0L529.7 233.7L536.1 235.6L542.5 236.8L548.9 237.3L555.2 237.0L561.6 235.4L568.0 232.0L574.4 225.2L580.8 211.9L587.2 186.8L593.6 145.4L600.0 95.5L606.4 61.6L612.8 57.1L619.2 74.0L625.6 99.8L632.0 126.1L638.4 149.5L644.8 168.9L651.2 184.6L657.6 196.9L664.0 206.6L670.4 213.9L676.8 219.3L683.2 223.0" fill="none" stroke="#000" stroke-width="1"/>
<path d="M427.3 102.3L433.7 149.0L440.1 185.5L446.5 208.0L452.9 220.5L459.3 227.6L465.7 231.6L472.1 233.7L478.5 234.6L484.9 234.7L491.3 234.1L497.7 232.9L504.1 231.0L510.5 228.4L516.9 224.9L523.3 220.3L529.7 214.2L536.1 206.5L542.5 196.9L548.9 184.8L555.2 169.9L561.6 151.7L568.0 130.6L574.4 107.4L580.8 84.5L587.2 65.8L593.6 59.4L600.0 76.8L606.4 118.7L612.8 167.0L619.2 201.6L625.6 221.2L632.0 231.6L638.4 237.0L644.8 239.6L651.2 240.5L657.6 240.3L664.0 239.1L670.4 237.1L676.8 234.2L683.2 230.3" fill="none" stroke="#000" stroke-width="1"/>
<path d="M427.3 102.3L433.7 70.5L440.1 63.9L446.5 76.6L452.9 97.5L459.3 120.1L465.7 141.3L472.1 159.9L478.5 175.7L484.9 188.9L491.3 199.8L497.7 208.9L504.1 216.3L510.5 222.3L516.9 227.2L523.3 231.2L529.7 234.1L536.1 236.4L542.5 237.9L548.9 238.9L555.2 239.0L561.6 238.2L568.0 236.1L574.4 231.6L580.8 223.1L587.2 206.7L593.6 177.0L600.0 130.8L606.4 79.4L612.8 47.1L619.2 46.8L625.6 67.4L632.0 95.5L638.4 123.2L644.8 147.4L651.2 167.6L657.6 183.9L664.0 196.9L670.4 206.9L676.8 214.5L683.2 220.2" fill="none" stroke="#000" stroke-width="1"/>
<path d="M427.3 102.3L433.7 149.0L440.1 185.5L446.5 208.0L452.9 220.5L459.3 227.6L465.7 231.5L472.1 233.7L478.5 234.6L484.9 234.7L491.3 234.2L497.7 232.9L504.1 231.0L510.5 228.4L516.9 224.8L523.3 220.1L529.7 214.0L536.1 206.1L542.5 196.2L548.9 183.7L555.2 168.3L561.6 149.6L568.0 127.5L574.4 103.2L580.8 78.9L587.2 58.9L593.6 51.2L600.0 67.8L606.4 110.5L612.8 161.4L619.2 198.4L625.6 219.6L632.0 230.9L638.4 236.6L644.8 239.4L651.2 240.5L657.6 240.3L664.0 239.2L670.4 237.1L676.8 234.1L683.2 230.1" fill="none" stroke="#000" stroke-width="1"/>
<path d="M427.3 102.3L433.7 70.5L440.1 63.9L446.5 76.6L452.9 97.4L459.3 120.0L465.7 141.1L472.1 159.7L478.5 175.5L484.9 188.7L491.3 199.7L497.7 208.6L504.1 216.0L510.5 222.0L516.9 226.9L523.3 230.9L529.7 233.9L536.1 236.2L542.5 237.8L548.9 238.8L555.2 239.0L561.6 238.2L568.0 236.1L574.4 231.6L580.8 222.8L587.2 206.3L593.6 176.2L600.0 128.9L606.4 75.2L612.8 39.9L619.2 38.1L625.6 58.9L632.0 87.9L638.4 116.8L644.8 142.3L651.2 163.5L657.6 180.7L664.0 194.4L670.4 205.0L676.8 213.1L683.2 219.0" fill="none" stroke="#000" stroke-width="1"/>
<path d="M427.3 102.3L433.7 149.0L440.1 185.5L446.5 208.0L452.9 220.2L459.3 227.0L465.7 230.5L472.1 232.3L478.5 232.8L484.9 232.5L491.3 231.5L497.7 229.8L504.1 227.5L510.5 224.3L516.9 220.2L523.3 215.0L529.7 208.6L536.1 200.4L542.5 190.0L548.9 177.0L555.2 160.8L561.6 141.2L568.0 118.3L574.4 93.3L580.8 69.0L587.2 51.1L593.6 49.1L600.0 74.1L606.4 121.4L612.8 169.3L619.2 201.3L625.6 219.1L632.0 228.4L638.4 233.2L644.8 235.4L651.2 236.1L657.6 235.7L664.0 234.3L670.4 232.0L676.8 228.7L683.2 224.4" fill="none" stroke="#000" stroke-width="1"/>
<path d="M427.3 102.3L433.7 70.5L440.1 63.9L446.5 76.6L452.9 97.3L459.3 119.7L465.7 140.7L472.1 159.0L478.5 174.5L484.9 187.3L491.3 197.9L497.7 206.4L504.1 213.3L510.5 218.9L516.9 223.4L523.3 227.0L529.7 229.9L536.1 232.1L542.5 233.6L548.9 234.5L555.2 234.5L561.6 233.5L568.0 230.9L574.4 225.7L580.8 215.6L587.2 196.3L593.6 161.8L600.0 110.6L606.4 59.1L612.8 32.6L619.2 38.0L625.6 62.1L632.0 91.7L638.4 119.9L644.8 144.2L651.2 164.3L657.6 180.5L664.0 193.2L670.4 203.1L676.8 210.5L683.2 216.0" fill="none" stroke="#000" stroke-width="1"/>
<path d="M427.3 102.3L433.7 149.0L440.1 185.5L446.5 208.0L452.9 220.5L459.3 227.2L465.7 230.8L472.1 232.4L478.5 232.9L484.9 232.5L491.3 231.3L497.7 229.5L504.1 227.0L510.5 223.6L516.9 219.3L523.3 213.7L529.7 206.9L536.1 198.2L542.5 187.2L548.9 173.5L555.2 156.5L561.6 136.2L568.0 113.0L574.4 88.9L580.8 68.8L587.2 60.3L593.6 75.1L600.0 115.4L606.4 162.3L612.8 196.4L619.2 216.1L625.6 226.8L632.0 232.3L638.4 235.1L644.8 236.1L651.2 236.0L657.6 235.0L664.0 233.2L670.4 230.4L676.8 226.8L683.2 222.3" fill="none" stroke="#000" stroke-width="1"/>
<path d="M427.3 102.3L433.7 70.5L440.1 63.9L446.5 76.6L452.9 97.9L459.3 121.0L465.7 142.3L472.1 160.9L478.5 176.4L484.9 189.3L491.3 199.7L497.7 208.3L504.1 215.1L510.5 220.6L516.9 224.9L523.3 228.3L529.7 231.0L536.1 233.0L542.5 234.2L548.9 234.7L555.2 234.4L561.6 232.8L568.0 229.2L574.4 222.1L580.8 208.3L587.2 182.2L593.6 139.1L600.0 87.3L606.4 51.9L612.8 47.2L619.2 64.8L625.6 91.5L632.0 118.9L638.4 143.3L644.8 163.5L651.2 179.7L657.6 192.6L664.0 202.6L670.4 210.3L676.8 215.9L683.2 219.8" fill="none" stroke="#000" stroke-width="1"/>
<path d="M427.3 102.3L433.7 149.0L440.1 185.5L446.5 208.0L452.9 220.7L459.3 227.7L465.7 231.5L472.1 233.5L478.5 234.2L484.9 234.1L491.3 233.3L497.7 231.8L504.1 229.6L510.5 226.6L516.9 222.6L523.3 217.5L529.7 210.9L536.1 202.4L542.5 191.8L548.9 178.6L555.2 162.2L561.6 142.6L568.0 120.0L574.4 96.4L580.8 75.8L587.2 64.6L593.6 74.5L600.0 110.6L606.4 157.5L612.8 194.5L619.2 216.6L625.6 228.5L632.0 234.8L638.4 237.9L644.8 239.2L651.2 239.3L657.6 238.5L664.0 236.8L670.4 234.2L676.8 230.8L683.2 226.3" fill="none" stroke="#000" stroke-width="1"/>
<path d="M427.3 102.3L433.7 70.5L440.1 63.9L446.5 76.6L452.9 98.0L459.3 121.2L465.7 142.7L472.1 161.5L478.5 177.3L484.9 190.4L491.3 201.1L497.7 210.0L504.1 217.2L510.5 223.0L516.9 227.6L523.3 231.3L529.7 234.0L536.1 236.0L542.5 237.3L548.9 237.9L555.2 237.7L561.6 236.3L568.0 233.1L574.4 226.7L580.8 214.3L587.2 190.8L593.6 150.7L600.0 99.3L606.4 59.7L612.8 49.9L619.2 64.7L625.6 90.5L632.0 118.1L638.4 142.9L644.8 163.7L651.2 180.5L657.6 193.9L664.0 204.4L670.4 212.4L676.8 218.3L683.2 222.6" fill="none" stroke="#000" stroke-width="1"/>
<path d="M427.3 102.3L433.7 149.0L440.1 185.5L446.5 208.0L452.9 220.5L459.3 227.4L465.7 231.1L472.1 232.9L478.5 233.5L484.9 233.3L491.3 232.3L497.7 230.7L504.1 228.5L510.5 225.4L516.9 221.4L523.3 216.2L529.7 209.8L536.1 201.6L542.5 191.3L548.9 178.5L555.2 162.7L561.6 143.9L568.0 122.3L574.4 99.8L580.8 80.2L587.2 69.3L593.6 78.4L600.0 112.6L606.4 157.8L612.8 193.8L619.2 215.5L625.6 227.1L632.0 233.3L638.4 236.4L644.8 237.6L651.2 237.8L657.6 237.0L664.0 235.3L670.4 232.9L676.8 229.6L683.2 225.3" fill="none" stroke="#000" stroke-width="1"/>
<path d="M427.3 102.3L433.7 70.5L440.1 63.9L446.5 76.6L452.9 97.9L459.3 120.9L465.7 142.3L472.1 160.9L478.5 176.5L484.9 189.5L491.3 200.1L497.7 208.9L504.1 216.0L510.5 221.7L516.9 226.2L523.3 229.7L529.7 232.5L536.1 234.5L542.5 235.8L548.9 236.4L555.2 236.2L561.6 234.8L568.0 231.8L574.4 225.7L580.8 213.9L587.2 191.4L593.6 153.0L600.0 103.4L606.4 64.6L612.8 54.5L619.2 68.4L625.6 93.3L632.0 120.0L638.4 144.1L644.8 164.3L651.2 180.6L657.6 193.6L664.0 203.8L670.4 211.6L676.8 217.4L683.2 221.5" fill="none" stroke="#000" stroke-width="1"/>
<path d="M427.3 102.3L433.7 149.0L440.1 185.5L446.5 208.0L452.9 220.4L459.3 227.0L465.7 230.4L472.1 231.9L478.5 232.2L484.9 231.6L491.3 230.3L497.7 228.3L504.1 225.5L510.5 221.9L516.9 217.2L523.3 211.2L529.7 203.9L536.1 194.5L542.5 182.6L548.9 167.7L555.2 149.2L561.6 127.0L568.0 101.6L574.4 75.5L580.8 54.3L587.2 48.4L593.6 69.5L600.0 116.1L606.4 164.7L612.8 197.6L619.2 216.2L625.6 226.1L632.0 231.2L638.4 233.7L644.8 234.6L651.2 234.3L657.6 233.1L664.0 231.0L670.4 227.9L676.8 223.9L683.2 219.9" fill="none" stroke="#000" stroke-width="1"/>
<path d="M427.3 102.3L433.7 70.5L440.1 63.9L446.5 76.6L452.9 98.0L459.3 121.0L465.7 142.4L472.1 160.9L478.5 176.3L484.9 189.0L491.3 199.3L497.7 207.6L504.1 214.2L510.5 219.5L516.9 223.7L523.3 226.8L529.7 229.5L536.1 231.5L542.5 232.7L548.9 233.1L555.2 232.6L561.6 230.7L568.0 226.5L574.4 218.2L580.8 201.9L587.2 171.5L593.6 123.0L600.0 68.9L606.4 36.9L612.8 37.2L619.2 58.3L625.6 87.0L632.0 115.6L638.4 140.6L644.8 161.2L651.2 177.7L657.6 190.7L664.0 200.8L670.4 208.5L676.8 214.1L683.2 217.3" fill="none" stroke="#000" stroke-width="1"/>
<path d="M427.3 102.3L433.7 149.0L440.1 185.5L446.5 208.0L452.9 220.8L459.3 227.7L465.7 231.3L472.1 233.0L478.5 233.4L484.9 233.0L491.3 231.8L497.7 229.9L504.1 227.3L510.5 223.7L516.9 219.0L523.3 212.9L529.7 205.2L536.1 195.3L542.5 182.8L548.9 167.1L555.2 147.7L561.6 124.6L568.0 98.8L574.4 73.7L580.8 56.9L587.2 60.5L593.6 94.1L600.0 144.9L606.4 187.0L612.8 211.5L619.2 224.8L625.6 231.9L632.0 235.5L638.4 237.2L644.8 237.5L651.2 236.8L657.6 235.2L664.0 232.7L670.4 229.3L676.8 224.9L683.2 223.2" fill="none" stroke="#000" stroke-width="1"/>
<path d="M427.3 102.3L433.7 70.5L440.1 63.9L446.5 76.6L452.9 98.6L459.3 122.3L465.7 144.2L472.1 163.0L478.5 178.7L484.9 191.6L491.3 202.1L497.7 210.6L504.1 217.4L510.5 222.8L516.9 227.1L523.3 230.4L529.7 232.9L536.1 234.7L542.5 235.8L548.9 236.0L555.2 235.1L561.6 232.7L568.0 227.5L574.4 217.1L580.8 196.9L587.2 160.1L593.6 107.4L600.0 60.0L606.4 42.5L612.8 53.0L619.2 77.7L625.6 106.1L632.0 132.7L638.4 155.3L644.8 173.6L651.2 188.2L657.6 199.5L664.0 208.2L670.4 214.7L676.8 219.4L683.2 220.7" fill="none" stroke="#000" stroke-width="1"/>
<path d="M427.3 102.3L433.7 149.0L440.1 185.5L446.5 208.0L452.9 220.3L459.3 227.0L465.7 230.5L472.1 232.2L478.5 232.6L484.9 232.2L491.3 231.1L497.7 229.4L504.1 226.9L510.5 223.7L516.9 219.5L523.3 214.2L529.7 207.8L536.1 199.6L542.5 189.3L548.9 176.5L555.2 160.6L561.6 141.5L568.0 119.5L574.4 96.2L580.8 75.0L587.2 61.5L593.6 66.6L600.0 97.9L606.4 144.4L612.8 184.5L619.2 209.4L625.6 223.0L632.0 230.1L638.4 233.7L644.8 235.3L651.2 235.6L657.6 234.9L664.0 233.4L670.4 231.0L676.8 227.7L683.2 223.4" fill="none" stroke="#000" stroke-width="1"/>
<path d="M427.3 102.3L433.7 70.5L440.1 63.9L446.5 76.6L452.9 97.5L459.3 120.2L465.7 141.3L472.1 159.7L478.5 175.1L484.9 187.9L491.3 198.4L497.7 207.0L504.1 213.9L510.5 219.4L516.9 223.8L523.3 227.2L529.7 230.0L536.1 232.0L542.5 233.4L548.9 234.1L555.2 234.0L561.6 232.8L568.0 229.9L574.4 224.1L580.8 213.0L587.2 191.8L593.6 154.8L600.0 104.2L606.4 60.7L612.8 45.2L619.2 56.6L625.6 81.5L632.0 109.2L638.4 134.6L644.8 156.2L651.2 173.7L657.6 187.8L664.0 198.8L670.4 207.2L676.8 213.5L683.2 218.1" fill="none" stroke="#000" stroke-width="1"/>
<path d="M427.3 102.3L433.7 149.0L440.1 185.5L446.5 208.0L452.9 220.1L459.3 226.7L465.7 230.2L472.1 231.9L478.5 232.4L484.9 232.1L491.3 231.0L497.7 229.4L504.1 227.1L510.5 224.1L516.9 220.2L523.3 215.3L529.7 209.5L536.1 202.1L542.5 192.8L548.9 181.3L555.2 167.2L561.6 150.0L568.0 130.2L574.4 108.6L580.8 87.4L587.2 69.6L593.6 63.2L600.0 79.1L606.4 118.4L612.8 164.4L619.2 197.6L625.6 216.5L632.0 226.5L638.4 231.7L644.8 234.2L651.2 235.1L657.6 234.9L664.0 233.9L670.4 232.0L676.8 229.2L683.2 225.5" fill="none" stroke="#000" stroke-width="1"/>
<path d="M427.3 102.3L433.7 70.5L440.1 63.9L446.5 76.6L452.9 97.0L459.3 119.2L465.7 139.9L472.1 158.0L478.5 173.4L484.9 186.1L491.3 196.6L497.7 205.3L504.1 212.3L510.5 218.0L516.9 222.4L523.3 225.9L529.7 228.9L536.1 231.1L542.5 232.6L548.9 233.5L555.2 233.7L561.6 233.0L568.0 231.0L574.4 226.8L580.8 218.7L587.2 203.4L593.6 175.4L600.0 131.7L606.4 82.7L612.8 51.3L619.2 50.4L625.6 69.9L632.0 96.6L638.4 123.0L644.8 146.1L651.2 165.4L657.6 181.0L664.0 193.4L670.4 203.0L676.8 210.3L683.2 215.7" fill="none" stroke="#000" stroke-width="1"/>
<path d="M427.3 102.3L433.7 149.0L440.1 185.5L446.5 208.0L452.9 220.6L459.3 227.3L465.7 230.8L472.1 232.4L478.5 232.7L484.9 232.2L491.3 231.0L497.7 229.0L504.1 226.3L510.5 222.8L516.9 218.1L523.3 212.2L529.7 204.9L536.1 195.6L542.5 183.8L548.9 169.0L555.2 150.9L561.6 129.2L568.0 104.7L574.4 80.5L580.8 62.7L587.2 61.5L593.6 87.9L600.0 135.1L606.4 178.8L612.8 206.1L619.2 221.1L625.6 229.2L632.0 233.4L638.4 235.3L644.8 235.9L651.2 235.4L657.6 234.1L664.0 231.8L670.4 228.8L676.8 224.7L683.2 222.0" fill="none" stroke="#000" stroke-width="1"/>
<path d="M427.3 102.3L433.7 70.5L440.1 63.9L446.5 76.6L452.9 98.3L459.3 121.6L465.7 143.2L472.1 161.9L478.5 177.4L484.9 190.2L491.3 200.6L497.7 209.0L504.1 215.8L510.5 221.1L516.9 225.3L523.3 228.5L529.7 231.1L536.1 233.0L542.5 234.1L548.9 234.4L555.2 233.8L561.6 231.7L568.0 227.2L574.4 218.3L580.8 200.9L587.2 168.7L593.6 119.8L600.0 70.5L606.4 46.6L612.8 52.2L619.2 74.4L625.6 102.0L632.0 128.6L638.4 151.5L644.8 170.1L651.2 185.0L657.6 196.7L664.0 205.7L670.4 212.5L676.8 217.4L683.2 219.5" fill="none" stroke="#000" stroke-width="1"/>
<path d="M427.3 102.3L433.7 149.0L440.1 185.5L446.5 208.0L452.9 220.3L459.3 227.0L465.7 230.4L472.1 232.0L478.5 232.4L484.9 231.9L491.3 230.6L497.7 228.7L504.1 226.1L510.5 222.5L516.9 218.0L523.3 212.1L529.7 205.0L536.1 195.8L542.5 184.3L548.9 169.7L555.2 151.5L561.6 129.5L568.0 104.1L574.4 77.2L580.8 53.4L587.2 42.0L593.6 54.9L600.0 96.5L606.4 148.3L612.8 187.9L619.2 211.2L625.6 223.7L632.0 230.2L638.4 233.5L644.8 234.8L651.2 234.9L657.6 233.9L664.0 231.9L670.4 229.1L676.8 225.2L683.2 220.2" fill="none" stroke="#000" stroke-width="1"/>
<path d="M427.3 102.3L433.7 70.5L440.1 63.9L446.5 76.6L452.9 97.7L459.3 120.6L465.7 141.8L472.1 160.2L478.5 175.6L484.9 188.3L491.3 198.7L497.7 207.0L504.1 213.7L510.5 219.1L516.9 223.3L523.3 226.7L529.7 229.4L536.1 231.5L542.5 232.8L548.9 233.4L555.2 233.1L561.6 231.5L568.0 227.9L574.4 220.6L580.8 206.3L587.2 179.4L593.6 134.3L600.0 77.7L606.4 36.2L612.8 27.7L619.2 45.2L625.6 73.8L632.0 103.8L638.4 130.8L644.8 153.3L651.2 171.5L657.6 186.0L664.0 197.2L670.4 205.8L676.8 212.2L683.2 216.8" fill="none" stroke="#000" stroke-width="1"/>
<path d="M427.3 102.3L433.7 149.0L440.1 185.5L446.5 208.0L452.9 221.0L459.3 228.2L465.7 232.2L472.1 234.3L478.5 235.2L484.9 235.2L491.3 234.5L497.7 233.1L504.1 231.0L510.5 228.0L516.9 223.9L523.3 218.6L529.7 211.3L536.1 202.1L542.5 190.4L548.9 175.6L555.2 157.4L561.6 135.5L568.0 110.4L574.4 84.6L580.8 63.3L587.2 56.5L593.6 76.0L600.0 121.4L606.4 170.0L612.8 203.6L619.2 222.7L625.6 232.9L632.0 238.2L638.4 240.8L644.8 241.8L651.2 241.5L657.6 240.4L664.0 238.3L670.4 235.3L676.8 231.3L683.2 227.2" fill="none" stroke="#000" stroke-width="1"/>
<path d="M427.3 102.3L433.7 70.5L440.1 63.9L446.5 76.6L452.9 98.5L459.3 122.1L465.7 144.1L472.1 163.1L478.5 179.1L484.9 192.4L491.3 203.3L497.7 212.2L504.1 219.5L510.5 225.4L516.9 230.2L523.3 234.0L529.7 236.7L536.1 238.6L542.5 239.8L548.9 240.3L555.2 239.8L561.6 238.0L568.0 234.0L574.4 225.9L580.8 210.2L587.2 180.8L593.6 133.3L600.0 79.2L606.4 45.9L612.8 44.8L619.2 65.1L625.6 93.6L632.0 122.1L638.4 147.1L644.8 167.8L651.2 184.5L657.6 197.6L664.0 207.7L670.4 215.5L676.8 221.2L683.2 224.6" fill="none" stroke="#000" stroke-width="1"/>
<path d="M427.3 102.3L433.7 149.0L440.1 185.5L446.5 208.0L452.9 220.3L459.3 227.2L465.7 231.0L472.1 233.0L478.5 233.9L484.9 233.8L491.3 233.1L497.7 231.8L504.1 229.9L510.5 227.2L516.9 223.7L523.3 219.3L529.7 213.6L536.1 206.5L542.5 197.6L548.9 186.5L555.2 172.9L561.6 156.5L568.0 137.5L574.4 116.7L580.8 96.2L587.2 78.0L593.6 69.4L600.0 81.2L606.4 117.1L612.8 163.2L619.2 198.1L625.6 218.4L632.0 229.2L638.4 234.8L644.8 237.5L651.2 238.6L657.6 238.5L664.0 237.6L670.4 235.8L676.8 233.2L683.2 229.7" fill="none" stroke="#000" stroke-width="1"/>
<path d="M427.3 102.3L433.7 70.5L440.1 63.9L446.5 76.6L452.9 97.2L459.3 119.5L465.7 140.4L472.1 158.8L478.5 174.4L484.9 187.5L491.3 198.3L497.7 207.3L504.1 214.7L510.5 220.6L516.9 225.4L523.3 229.3L529.7 232.2L536.1 234.5L542.5 236.1L548.9 237.0L555.2 237.3L561.6 236.6L568.0 234.8L574.4 231.0L580.8 223.7L587.2 209.8L593.6 184.2L600.0 143.2L606.4 94.6L612.8 60.0L619.2 55.5L625.6 72.9L632.0 98.8L638.4 125.0L644.8 148.2L651.2 167.7L657.6 183.5L664.0 196.1L670.4 205.9L676.8 213.3L683.2 218.9" fill="none" stroke="#000" stroke-width="1"/>
<path d="M427.3 102.3L433.7 149.0L440.1 185.5L446.5 208.0L452.9 220.4L459.3 227.4L465.7 231.2L472.1 233.2L478.5 234.1L484.9 234.0L491.3 233.3L497.7 232.0L504.1 230.0L510.5 227.3L516.9 223.8L523.3 219.2L529.7 213.4L536.1 206.1L542.5 196.9L548.9 185.5L555.2 171.5L561.6 154.6L568.0 135.1L574.4 114.2L580.8 94.1L587.2 77.5L593.6 73.2L600.0 91.3L606.4 131.0L612.8 174.7L619.2 205.2L625.6 222.4L632.0 231.5L638.4 236.1L644.8 238.4L651.2 239.1L657.6 238.9L664.0 237.7L670.4 235.8L676.8 233.0L683.2 229.3" fill="none" stroke="#000" stroke-width="1"/>
<path d="M427.3 102.3L433.7 70.5L440.1 63.9L446.5 76.6L452.9 97.4L459.3 120.0L465.7 141.1L472.1 159.6L478.5 175.3L484.9 188.4L491.3 199.2L497.7 208.3L504.1 215.7L510.5 221.6L516.9 226.4L523.3 230.1L529.7 233.0L536.1 235.2L542.5 236.7L548.9 237.6L555.2 237.7L561.6 236.9L568.0 234.8L574.4 230.5L580.8 222.2L587.2 206.4L593.6 177.8L600.0 134.0L606.4 87.0L612.8 59.4L619.2 61.1L625.6 81.2L632.0 107.3L638.4 132.7L644.8 154.9L651.2 173.2L657.6 188.0L664.0 199.7L670.4 208.8L676.8 215.6L683.2 220.7" fill="none" stroke="#000" stroke-width="1"/>
<path d="M427.3 102.3L433.7 149.0L440.1 185.5L446.5 208.0L452.9 221.2L459.3 228.5L465.7 232.5L472.1 234.6L478.5 235.4L484.9 235.4L491.3 234.6L497.7 233.1L504.1 230.8L510.5 227.6L516.9 223.2L523.3 217.4L529.7 209.5L536.1 199.3L542.5 186.5L548.9 170.2L555.2 150.2L561.6 126.1L568.0 99.1L574.4 72.6L580.8 54.5L587.2 57.9L593.6 92.5L600.0 145.3L606.4 189.3L612.8 215.0L619.2 228.9L625.6 236.4L632.0 240.2L638.4 241.9L644.8 242.3L651.2 241.6L657.6 239.9L664.0 237.4L670.4 233.9L676.8 229.3L683.2 227.5" fill="none" stroke="#000" stroke-width="1"/>
<path d="M427.3 102.3L433.7 70.5L440.1 63.9L446.5 76.6L452.9 99.0L459.3 123.1L465.7 145.3L472.1 164.6L478.5 180.7L484.9 194.0L491.3 204.9L497.7 213.7L504.1 220.9L510.5 226.7L516.9 231.4L523.3 235.1L529.7 237.7L536.1 239.5L542.5 240.5L548.9 240.7L555.2 239.9L561.6 237.3L568.0 232.0L574.4 221.3L580.8 200.3L587.2 162.3L593.6 107.6L600.0 58.3L606.4 39.8L612.8 50.5L619.2 76.1L625.6 105.5L632.0 133.2L638.4 156.7L644.8 175.8L651.2 190.9L657.6 202.7L664.0 211.8L670.4 218.6L676.8 223.5L683.2 224.8" fill="none" stroke="#000" stroke-width="1"/>
<path d="M427.3 102.3L433.7 149.0L440.1 185.5L446.5 208.0L452.9 220.3L459.3 226.9L465.7 230.3L472.1 231.8L478.5 232.1L484.9 231.6L491.3 230.3L497.7 228.4L504.1 225.8L510.5 222.5L516.9 218.1L523.3 212.7L529.7 206.2L536.1 198.0L542.5 187.7L548.9 174.8L555.2 159.1L561.6 140.2L568.0 118.8L574.4 96.7L580.8 77.9L587.2 68.4L593.6 79.5L600.0 115.2L606.4 159.7L612.8 193.7L619.2 213.8L625.6 224.6L632.0 230.3L638.4 233.1L644.8 234.3L651.2 234.3L657.6 233.5L664.0 231.8L670.4 229.3L676.8 225.9L683.2 221.6" fill="none" stroke="#000" stroke-width="1"/>
<path d="M427.3 102.3L433.7 70.5L440.1 63.9L446.5 76.6L452.9 97.7L459.3 120.5L465.7 141.6L472.1 160.0L478.5 175.4L484.9 188.0L491.3 198.4L497.7 206.9L504.1 213.7L510.5 219.1L516.9 223.3L523.3 226.5L529.7 229.2L536.1 231.2L542.5 232.4L548.9 233.0L555.2 232.7L561.6 231.3L568.0 228.1L574.4 221.8L580.8 209.6L587.2 186.4L593.6 147.2L600.0 98.1L606.4 61.9L612.8 54.3L619.2 69.4L625.6 94.4L632.0 120.6L638.4 144.0L644.8 163.6L651.2 179.4L657.6 191.9L664.0 201.7L670.4 209.1L676.8 214.7L683.2 218.7" fill="none" stroke="#000" stroke-width="1"/>
<path d="M427.3 102.3L433.7 149.0L440.1 185.5L446.5 208.0L452.9 220.5L459.3 227.2L465.7 230.8L472.1 232.4L478.5 232.8L484.9 232.3L491.3 231.1L497.7 229.2L504.1 226.6L510.5 223.0L516.9 218.4L523.3 212.5L529.7 205.1L536.1 195.7L542.5 183.7L548.9 168.7L555.2 150.0L561.6 127.5L568.0 101.6L574.4 74.8L580.8 52.6L587.2 45.5L593.6 65.5L600.0 112.1L606.4 162.1L612.8 196.7L619.2 216.3L625.6 226.8L632.0 232.3L638.4 235.0L644.8 235.9L651.2 235.7L657.6 234.5L664.0 232.4L670.4 229.3L676.8 225.2L683.2 221.0" fill="none" stroke="#000" stroke-width="1"/>
<path d="M427.3 102.3L433.7 70.5L440.1 63.9L446.5 76.6L452.9 98.0L459.3 121.2L465.7 142.6L472.1 161.2L478.5 176.7L484.9 189.5L491.3 199.9L497.7 208.3L504.1 215.0L510.5 220.4L516.9 224.7L523.3 228.1L529.7 230.8L536.1 232.7L542.5 234.0L548.9 234.5L555.2 234.0L561.6 232.1L568.0 228.0L574.4 219.7L580.8 203.5L587.2 173.3L593.6 124.6L600.0 69.1L606.4 34.9L612.8 33.8L619.2 54.6L625.6 83.8L632.0 113.1L638.4 138.8L644.8 160.0L651.2 177.1L657.6 190.5L664.0 201.0L670.4 208.9L676.8 214.8L683.2 218.3" fill="none" stroke="#000" stroke-width="1"/>
<path d="M427.3 102.3L433.7 149.0L440.1 185.5L446.5 208.0L452.9 220.3L459.3 227.1L465.7 230.7L472.1 232.4L478.5 232.9L484.9 232.5L491.3 231.5L497.7 229.8L504.1 227.4L510.5 224.2L516.9 220.0L523.3 214.8L529.7 208.3L536.1 200.1L542.5 189.7L548.9 176.7L555.2 160.7L561.6 141.4L568.0 119.2L574.4 95.5L580.8 73.9L587.2 60.1L593.6 65.0L600.0 96.5L606.4 143.5L612.8 184.3L619.2 209.6L625.6 223.4L632.0 230.6L638.4 234.3L644.8 235.9L651.2 236.2L657.6 235.5L664.0 234.0L670.4 231.6L676.8 228.2L683.2 223.9" fill="none" stroke="#000" stroke-width="1"/>
<path d="M427.3 102.3L433.7 70.5L440.1 63.9L446.5 76.6L452.9 97.6L459.3 120.3L465.7 141.4L472.1 159.8L478.5 175.4L484.9 188.2L491.3 198.7L497.7 207.3L504.1 214.3L510.5 219.9L516.9 224.3L523.3 227.7L529.7 230.5L536.1 232.6L542.5 234.0L548.9 234.7L555.2 234.6L561.6 233.4L568.0 230.5L574.4 224.7L580.8 213.5L587.2 192.1L593.6 154.8L600.0 103.7L606.4 59.6L612.8 43.6L619.2 55.1L625.6 80.1L632.0 108.1L638.4 133.9L644.8 155.7L651.2 173.5L657.6 187.7L664.0 198.9L670.4 207.4L676.8 213.8L683.2 218.5" fill="none" stroke="#000" stroke-width="1"/>
<path d="M427.3 102.3L433.7 149.0L440.1 185.5L446.5 208.0L452.9 220.4L459.3 227.2L465.7 230.9L472.1 232.7L478.5 233.3L484.9 233.0L491.3 232.1L497.7 230.5L504.1 228.2L510.5 225.1L516.9 221.1L523.3 216.1L529.7 209.7L536.1 201.7L542.5 191.5L548.9 178.9L555.2 163.3L561.6 144.6L568.0 122.9L574.4 99.9L580.8 78.7L587.2 64.4L593.6 67.6L600.0 96.7L606.4 142.5L612.8 183.6L619.2 209.6L625.6 223.8L632.0 231.3L638.4 235.1L644.8 236.8L651.2 237.2L657.6 236.6L664.0 235.1L670.4 232.8L676.8 229.6L683.2 225.4" fill="none" stroke="#000" stroke-width="1"/>
<path d="M427.3 102.3L433.7 70.5L440.1 63.9L446.5 76.6L452.9 97.6L459.3 120.3L465.7 141.5L472.1 160.0L478.5 175.6L484.9 188.5L491.3 199.1L497.7 207.8L504.1 214.9L510.5 220.6L516.9 225.1L523.3 228.6L529.7 231.5L536.1 233.5L542.5 235.0L548.9 235.7L555.2 235.6L561.6 234.5L568.0 231.7L574.4 226.2L580.8 215.6L587.2 195.4L593.6 159.8L600.0 110.1L606.4 65.4L612.8 47.5L619.2 57.4L625.6 81.6L632.0 109.2L638.4 134.8L644.8 156.5L651.2 174.3L657.6 188.6L664.0 199.7L670.4 208.3L676.8 214.8L683.2 219.4" fill="none" stroke="#000" stroke-width="1"/>
<path d="M427.3 102.3L433.7 149.0L440.1 185.5L446.5 208.0L452.9 220.7L459.3 227.8L465.7 231.8L472.1 233.9L478.5 234.8L484.9 234.9L491.3 234.3L497.7 233.0L504.1 231.0L510.5 228.3L516.9 224.6L523.3 219.9L529.7 213.5L536.1 205.5L542.5 195.4L548.9 182.7L555.2 167.0L561.6 148.1L568.0 126.1L574.4 102.4L580.8 80.0L587.2 64.0L593.6 64.3L600.0 90.8L606.4 136.9L612.8 181.1L619.2 209.9L625.6 225.8L632.0 234.1L638.4 238.4L644.8 240.4L651.2 240.9L657.6 240.4L664.0 239.0L670.4 236.7L676.8 233.5L683.2 229.3" fill="none" stroke="#000" stroke-width="1"/>
<path d="M427.3 102.3L433.7 70.5L440.1 63.9L446.5 76.6L452.9 97.8L459.3 120.7L465.7 142.1L472.1 160.9L478.5 176.8L484.9 190.0L491.3 200.9L497.7 209.9L504.1 217.3L510.5 223.3L516.9 228.2L523.3 232.1L529.7 234.9L536.1 237.1L542.5 238.5L548.9 239.3L555.2 239.3L561.6 238.3L568.0 235.7L574.4 230.4L580.8 220.2L587.2 200.8L593.6 166.3L600.0 116.4L606.4 68.5L612.8 46.2L619.2 53.7L625.6 77.5L632.0 105.9L638.4 132.5L644.8 155.4L651.2 174.1L657.6 189.2L664.0 201.1L670.4 210.2L676.8 217.1L683.2 222.1" fill="none" stroke="#000" stroke-width="1"/>
<path d="M427.3 102.3L433.7 149.0L440.1 185.5L446.5 208.0L452.9 220.6L459.3 227.5L465.7 231.2L472.1 233.0L478.5 233.6L484.9 233.3L491.3 232.3L497.7 230.7L504.1 228.3L510.5 225.2L516.9 221.1L523.3 215.8L529.7 209.2L536.1 200.7L542.5 190.1L548.9 176.9L555.2 160.6L561.6 141.1L568.0 118.9L574.4 96.0L580.8 76.5L587.2 67.3L593.6 79.9L600.0 117.5L606.4 163.1L612.8 197.3L619.2 217.4L625.6 228.1L632.0 233.8L638.4 236.6L644.8 237.7L651.2 237.7L657.6 236.8L664.0 235.0L670.4 232.5L676.8 229.0L683.2 224.5" fill="none" stroke="#000" stroke-width="1"/>
<path d="M427.3 102.3L433.7 70.5L440.1 63.9L446.5 76.6L452.9 98.0L459.3 121.1L465.7 142.6L472.1 161.2L478.5 176.9L484.9 189.9L491.3 200.5L497.7 209.3L504.1 216.3L510.5 221.9L516.9 226.4L523.3 229.9L529.7 232.6L536.1 234.6L542.5 235.9L548.9 236.4L555.2 236.1L561.6 234.6L568.0 231.3L574.4 224.6L580.8 211.8L587.2 187.4L593.6 146.6L600.0 96.2L606.4 60.1L612.8 53.6L619.2 69.7L625.6 95.5L632.0 122.2L638.4 146.1L644.8 166.0L651.2 182.0L657.6 194.8L664.0 204.7L670.4 212.2L676.8 217.8L683.2 221.8" fill="none" stroke="#000" stroke-width="1"/>
<path d="M427.3 102.3L433.7 149.0L440.1 185.5L446.5 208.0L452.9 220.7L459.3 228.0L465.7 232.1L472.1 234.4L478.5 235.5L484.9 235.7L491.3 235.3L497.7 234.2L504.1 232.4L510.5 229.9L516.9 226.5L523.3 222.0L529.7 215.9L536.1 208.0L542.5 198.2L548.9 185.9L555.2 170.7L561.6 152.2L568.0 130.7L574.4 107.3L580.8 84.4L587.2 66.3L593.6 61.9L600.0 82.2L606.4 125.9L612.8 173.3L619.2 206.1L625.6 224.6L632.0 234.3L638.4 239.3L644.8 241.7L651.2 242.5L657.6 242.2L664.0 241.0L670.4 238.9L676.8 235.8L683.2 231.8" fill="none" stroke="#000" stroke-width="1"/>
<path d="M427.3 102.3L433.7 70.5L440.1 63.9L446.5 76.6L452.9 97.7L459.3 120.6L465.7 142.0L472.1 160.8L478.5 176.8L484.9 190.2L491.3 201.3L497.7 210.4L504.1 218.0L510.5 224.2L516.9 229.2L523.3 233.3L529.7 236.2L536.1 238.5L542.5 240.0L548.9 240.9L555.2 241.0L561.6 240.1L568.0 237.8L574.4 233.1L580.8 224.0L587.2 206.7L593.6 175.4L600.0 127.8L606.4 77.0L612.8 47.7L619.2 49.9L625.6 71.8L632.0 100.1L638.4 127.6L644.8 151.5L651.2 171.3L657.6 187.3L664.0 199.9L670.4 209.7L676.8 217.1L683.2 222.6" fill="none" stroke="#000" stroke-width="1"/>
<path d="M427.3 102.3L433.7 149.0L440.1 185.5L446.5 208.0L452.9 221.2L459.3 228.4L465.7 232.2L472.1 234.1L478.5 234.8L484.9 234.6L491.3 233.6L497.7 231.9L504.1 229.4L510.5 225.9L516.9 221.3L523.3 215.3L529.7 207.3L536.1 197.1L542.5 184.1L548.9 167.9L555.2 147.9L561.6 124.3L568.0 98.5L574.4 74.8L580.8 62.6L587.2 74.6L593.6 116.1L600.0 166.4L606.4 202.2L612.8 221.2L619.2 231.4L625.6 236.8L632.0 239.6L638.4 240.7L644.8 240.6L651.2 239.6L657.6 237.8L664.0 235.1L670.4 231.5L676.8 226.9L683.2 226.9" fill="none" stroke="#000" stroke-width="1"/>
<path d="M427.3 102.3L433.7 70.5L440.1 63.9L446.5 76.6L452.9 99.2L459.3 123.5L465.7 145.8L472.1 165.0L478.5 181.0L484.9 194.2L491.3 204.9L497.7 213.6L504.1 220.6L510.5 226.3L516.9 230.7L523.3 234.2L529.7 236.6L536.1 238.3L542.5 239.2L548.9 239.2L555.2 238.1L561.6 235.1L568.0 229.1L574.4 216.9L580.8 193.3L587.2 151.9L593.6 98.5L600.0 59.4L606.4 52.3L612.8 68.2L619.2 94.0L625.6 121.4L632.0 146.2L638.4 167.0L644.8 183.7L651.2 196.8L657.6 206.9L664.0 214.6L670.4 220.3L676.8 224.4L683.2 224.4" fill="none" stroke="#000" stroke-width="1"/>
<path d="M427.3 102.3L433.7 149.0L440.1 185.5L446.5 208.0L452.9 220.6L459.3 227.7L465.7 231.5L472.1 233.5L478.5 234.4L484.9 234.3L491.3 233.6L497.7 232.2L504.1 230.1L510.5 227.1L516.9 223.3L523.3 218.3L529.7 211.7L536.1 203.4L542.5 192.9L548.9 179.7L555.2 163.5L561.6 143.8L568.0 121.0L574.4 96.6L580.8 74.1L587.2 59.5L593.6 63.7L600.0 95.0L606.4 143.0L612.8 185.3L619.2 211.8L625.6 226.3L632.0 233.9L638.4 237.7L644.8 239.5L651.2 239.8L657.6 239.1L664.0 237.6L670.4 235.1L676.8 231.8L683.2 227.4" fill="none" stroke="#000" stroke-width="1"/>
<path d="M427.3 102.3L433.7 70.5L440.1 63.9L446.5 76.6L452.9 97.9L459.3 120.8L465.7 142.2L472.1 161.0L478.5 176.8L484.9 189.9L491.3 200.7L497.7 209.6L504.1 216.8L510.5 222.7L516.9 227.4L523.3 231.2L529.7 234.0L536.1 236.1L542.5 237.6L548.9 238.3L555.2 238.2L561.6 237.0L568.0 234.1L574.4 228.2L580.8 216.9L587.2 195.5L593.6 157.9L600.0 105.9L606.4 60.1L612.8 42.7L619.2 53.7L625.6 79.1L632.0 107.7L638.4 134.2L644.8 156.7L651.2 175.0L657.6 189.7L664.0 201.2L670.4 210.0L676.8 216.7L683.2 221.5" fill="none" stroke="#000" stroke-width="1"/>
<path d="M427.3 102.3L433.7 149.0L440.1 185.5L446.5 208.0L452.9 220.4L459.3 227.3L465.7 231.2L472.1 233.1L478.5 233.9L484.9 233.8L491.3 233.1L497.7 231.7L504.1 229.6L510.5 226.8L516.9 223.0L523.3 218.2L529.7 211.9L536.1 204.0L542.5 194.0L548.9 181.5L555.2 166.1L561.6 147.3L568.0 125.4L574.4 101.4L580.8 77.8L587.2 59.3L593.6 54.7L600.0 75.2L606.4 119.5L612.8 167.9L619.2 201.5L625.6 220.4L632.0 230.4L638.4 235.5L644.8 237.9L651.2 238.8L657.6 238.4L664.0 237.2L670.4 235.0L676.8 232.0L683.2 227.9" fill="none" stroke="#000" stroke-width="1"/>
<path d="M427.3 102.3L433.7 70.5L440.1 63.9L446.5 76.6L452.9 97.4L459.3 120.0L465.7 141.1L472.1 159.5L478.5 175.2L484.9 188.3L491.3 199.0L497.7 207.9L504.1 215.1L510.5 220.9L516.9 225.7L523.3 229.5L529.7 232.4L536.1 234.7L542.5 236.2L548.9 237.1L555.2 237.2L561.6 236.3L568.0 234.0L574.4 229.2L580.8 220.0L587.2 202.5L593.6 170.8L600.0 122.4L606.4 70.7L612.8 40.6L619.2 42.7L625.6 64.8L632.0 93.6L638.4 121.6L644.8 146.0L651.2 166.1L657.6 182.4L664.0 195.3L670.4 205.3L676.8 212.9L683.2 218.4" fill="none" stroke="#000" stroke-width="1"/>
<path d="M427.3 102.3L433.7 149.0L440.1 185.5L446.5 208.0L452.9 220.5L459.3 227.3L465.7 230.9L472.1 232.6L478.5 233.1L484.9 232.8L491.3 231.7L497.7 230.0L504.1 227.5L510.5 224.2L516.9 219.9L523.3 214.4L529.7 207.5L536.1 198.7L542.5 187.6L548.9 173.6L555.2 156.3L561.6 135.5L568.0 111.4L574.4 85.9L580.8 63.5L587.2 51.8L593.6 62.7L600.0 101.3L606.4 151.0L612.8 189.9L619.2 213.0L625.6 225.5L632.0 232.0L638.4 235.2L644.8 236.6L651.2 236.7L657.6 235.8L664.0 234.0L670.4 231.2L676.8 227.6L683.2 222.8" fill="none" stroke="#000" stroke-width="1"/>
<path d="M427.3 102.3L433.7 70.5L440.1 63.9L446.5 76.6L452.9 97.8L459.3 120.8L465.7 142.1L472.1 160.6L478.5 176.2L484.9 189.1L491.3 199.6L497.7 208.1L504.1 215.1L510.5 220.6L516.9 225.0L523.3 228.5L529.7 231.2L536.1 233.3L542.5 234.6L548.9 235.2L555.2 235.0L561.6 233.5L568.0 230.1L574.4 223.3L580.8 210.0L587.2 184.9L593.6 142.4L600.0 88.1L606.4 46.9L612.8 37.1L619.2 53.0L625.6 80.3L632.0 109.3L638.4 135.4L644.8 157.2L651.2 174.9L657.6 189.0L664.0 200.0L670.4 208.4L676.8 214.6L683.2 219.1" fill="none" stroke="#000" stroke-width="1"/>
<path d="M427.3 102.3L433.7 149.0L440.1 185.5L446.5 208.0L452.9 220.7L459.3 227.9L465.7 231.8L472.1 233.9L478.5 234.8L484.9 234.9L491.3 234.2L497.7 232.9L504.1 230.8L510.5 228.0L516.9 224.2L523.3 219.2L529.7 212.6L536.1 204.2L542.5 193.5L548.9 180.2L555.2 163.7L561.6 143.7L568.0 120.6L574.4 95.9L580.8 73.1L587.2 58.8L593.6 63.8L600.0 96.4L606.4 145.0L612.8 187.2L619.2 213.4L625.6 227.6L632.0 235.1L638.4 238.9L644.8 240.6L651.2 240.9L657.6 240.2L664.0 238.6L670.4 236.1L676.8 232.7L683.2 228.2" fill="none" stroke="#000" stroke-width="1"/>
<path d="M427.3 102.3L433.7 70.5L440.1 63.9L446.5 76.6L452.9 98.0L459.3 121.1L465.7 142.6L472.1 161.4L478.5 177.3L484.9 190.5L491.3 201.4L497.7 210.4L504.1 217.7L510.5 223.6L516.9 228.5L523.3 232.3L529.7 235.2L536.1 237.3L542.5 238.7L548.9 239.4L555.2 239.2L561.6 238.0L568.0 235.0L574.4 229.0L580.8 217.4L587.2 195.3L593.6 156.9L600.0 104.2L606.4 58.6L612.8 42.1L619.2 53.9L625.6 79.8L632.0 108.7L638.4 135.2L644.8 157.8L651.2 176.1L657.6 190.8L664.0 202.3L670.4 211.2L676.8 217.8L683.2 222.6" fill="none" stroke="#000" stroke-width="1"/>
<path d="M427.3 102.3L433.7 149.0L440.1 185.5L446.5 208.0L452.9 220.7L459.3 227.6L465.7 231.4L472.1 233.2L478.5 233.9L484.9 233.7L491.3 232.8L497.7 231.2L504.1 228.9L510.5 225.8L516.9 221.8L523.3 216.6L529.7 210.0L536.1 201.6L542.5 191.0L548.9 177.9L555.2 161.7L561.6 142.5L568.0 120.6L574.4 98.2L580.8 79.8L587.2 71.9L593.6 86.1L600.0 124.4L606.4 168.8L612.8 201.0L619.2 219.7L625.6 229.7L632.0 235.0L638.4 237.6L644.8 238.6L651.2 238.5L657.6 237.6L664.0 235.8L670.4 233.2L676.8 229.7L683.2 225.5" fill="none" stroke="#000" stroke-width="1"/>
<path d="M427.3 102.3L433.7 70.5L440.1 63.9L446.5 76.6L452.9 98.1L459.3 121.4L465.7 143.0L472.1 161.7L478.5 177.5L484.9 190.5L491.3 201.2L497.7 210.0L504.1 217.2L510.5 222.9L516.9 227.4L523.3 230.9L529.7 233.6L536.1 235.5L542.5 236.8L548.9 237.3L555.2 236.9L561.6 235.4L568.0 232.0L574.4 225.2L580.8 212.1L587.2 187.3L593.6 146.2L600.0 96.9L606.4 63.3L612.8 58.9L619.2 75.7L625.6 101.2L632.0 127.3L638.4 150.4L644.8 169.6L651.2 185.1L657.6 197.3L664.0 206.8L670.4 214.1L676.8 219.4L683.2 223.1" fill="none" stroke="#000" stroke-width="1"/>
<path d="M427.3 102.3L433.7 149.0L440.1 185.5L446.5 208.0L452.9 220.5L459.3 227.5L465.7 231.4L472.1 233.4L478.5 234.3L484.9 234.3L491.3 233.6L497.7 232.2L504.1 230.2L510.5 227.4L516.9 223.8L523.3 219.0L529.7 212.7L536.1 204.8L542.5 194.8L548.9 182.3L555.2 166.8L561.6 148.1L568.0 126.2L574.4 102.3L580.8 79.0L587.2 60.9L593.6 57.1L600.0 78.5L606.4 123.2L612.8 170.9L619.2 203.5L625.6 221.9L632.0 231.5L638.4 236.5L644.8 238.9L651.2 239.6L657.6 239.3L664.0 238.0L670.4 235.8L676.8 232.8L683.2 228.7" fill="none" stroke="#000" stroke-width="1"/>
<path d="M427.3 102.3L433.7 70.5L440.1 63.9L446.5 76.6L452.9 97.5L459.3 120.2L465.7 141.4L472.1 159.9L478.5 175.7L484.9 188.8L491.3 199.7L497.7 208.6L504.1 215.8L510.5 221.8L516.9 226.6L523.3 230.4L529.7 233.4L536.1 235.6L542.5 237.1L548.9 238.0L555.2 238.1L561.6 237.2L568.0 234.8L574.4 230.0L580.8 220.6L587.2 202.8L593.6 170.7L600.0 122.0L606.4 71.0L612.8 42.2L619.2 45.3L625.6 67.8L632.0 96.5L638.4 124.2L644.8 148.2L651.2 168.2L657.6 184.2L664.0 196.9L670.4 206.7L676.8 214.1L683.2 219.6" fill="none" stroke="#000" stroke-width="1"/>
<path d="M427.3 102.3L433.7 149.0L440.1 185.5L446.5 208.0L452.9 220.9L459.3 228.0L465.7 231.9L472.1 233.8L478.5 234.6L484.9 234.5L491.3 233.7L497.7 232.1L504.1 229.9L510.5 226.8L516.9 222.7L523.3 217.3L529.7 210.2L536.1 201.2L542.5 189.9L548.9 175.7L555.2 158.1L561.6 137.1L568.0 113.3L574.4 89.0L580.8 69.7L587.2 64.2L593.6 84.2L600.0 128.3L606.4 174.1L612.8 205.2L619.2 222.8L625.6 232.2L632.0 237.1L638.4 239.5L644.8 240.3L651.2 240.0L657.6 238.9L664.0 236.8L670.4 234.0L676.8 230.1L683.2 226.4" fill="none" stroke="#000" stroke-width="1"/>
<path d="M427.3 102.3L433.7 70.5L440.1 63.9L446.5 76.6L452.9 98.4L459.3 122.0L465.7 143.8L472.1 162.7L478.5 178.7L484.9 191.8L491.3 202.6L497.7 211.5L504.1 218.6L510.5 224.4L516.9 229.0L523.3 232.7L529.7 235.3L536.1 237.2L542.5 238.4L548.9 238.9L555.2 238.4L561.6 236.6L568.0 232.6L574.4 224.7L580.8 209.4L587.2 180.6L593.6 134.5L600.0 83.2L606.4 52.7L612.8 52.9L619.2 72.9L625.6 100.2L632.0 127.3L638.4 151.1L644.8 170.6L651.2 186.3L657.6 198.7L664.0 208.2L670.4 215.5L676.8 220.9L683.2 223.9" fill="none" stroke="#000" stroke-width="1"/>
<path d="M427.3 102.3L433.7 149.0L440.1 185.5L446.5 208.0L452.9 221.2L459.3 228.5L465.7 232.4L472.1 234.4L478.5 235.2L484.9 235.1L491.3 234.2L497.7 232.6L504.1 230.2L510.5 226.8L516.9 222.2L523.3 216.1L529.7 207.8L536.1 197.3L542.5 183.8L548.9 166.8L555.2 145.8L561.6 120.7L568.0 92.7L574.4 65.8L580.8 49.4L587.2 57.8L593.6 98.5L600.0 153.1L606.4 194.7L612.8 217.8L619.2 230.1L625.6 236.7L632.0 240.1L638.4 241.5L644.8 241.6L651.2 240.7L657.6 238.9L664.0 236.1L670.4 232.4L676.8 227.5L683.2 226.7" fill="none" stroke="#000" stroke-width="1"/>
<path d="M427.3 102.3L433.7 70.5L440.1 63.9L446.5 76.6L452.9 99.1L459.3 123.3L465.7 145.7L472.1 164.9L478.5 181.0L484.9 194.3L491.3 205.1L497.7 213.8L504.1 220.8L510.5 226.5L516.9 231.1L523.3 234.8L529.7 237.3L536.1 239.0L542.5 240.0L548.9 240.1L555.2 239.1L561.6 236.2L568.0 230.2L574.4 218.1L580.8 194.4L587.2 152.4L593.6 95.3L600.0 49.3L606.4 36.8L612.8 51.5L619.2 78.6L625.6 108.4L632.0 135.8L638.4 158.9L644.8 177.5L651.2 192.1L657.6 203.5L664.0 212.3L670.4 218.8L676.8 223.4L683.2 224.0" fill="none" stroke="#000" stroke-width="1"/>
<path d="M427.3 102.3L433.7 149.0L440.1 185.5L446.5 208.0L452.9 220.0L459.3 226.6L465.7 230.1L472.1 231.8L478.5 232.3L484.9 231.9L491.3 230.9L497.7 229.2L504.1 226.9L510.5 224.0L516.9 220.1L523.3 215.3L529.7 209.6L536.1 202.4L542.5 193.4L548.9 182.2L555.2 168.4L561.6 151.8L568.0 132.5L574.4 111.6L580.8 91.1L587.2 73.2L593.6 65.9L600.0 79.8L606.4 117.2L612.8 162.8L619.2 196.3L625.6 215.7L632.0 226.0L638.4 231.3L644.8 233.8L651.2 234.8L657.6 234.7L664.0 233.7L670.4 231.9L676.8 229.2L683.2 225.6" fill="none" stroke="#000" stroke-width="1"/>
<path d="M427.3 102.3L433.7 70.5L440.1 63.9L446.5 76.6L452.9 96.9L459.3 119.0L465.7 139.7L472.1 157.8L478.5 173.1L484.9 185.8L491.3 196.3L497.7 205.0L504.1 212.0L510.5 217.6L516.9 222.1L523.3 225.6L529.7 228.5L536.1 230.8L542.5 232.3L548.9 233.2L555.2 233.5L561.6 232.8L568.0 230.9L574.4 226.9L580.8 219.3L587.2 204.7L593.6 178.1L600.0 136.0L606.4 87.6L612.8 55.1L619.2 52.6L625.6 71.0L632.0 97.1L638.4 123.1L644.8 146.1L651.2 165.3L657.6 180.8L664.0 193.2L670.4 202.8L676.8 210.1L683.2 215.5" fill="none" stroke="#000" stroke-width="1"/>
<path d="M427.3 102.3L433.7 149.0L440.1 185.5L446.5 208.0L452.9 220.2L459.3 226.9L465.7 230.5L472.1 232.3L478.5 232.9L484.9 232.6L491.3 231.6L497.7 230.1L504.1 227.8L510.5 224.8L516.9 221.0L523.3 216.1L529.7 210.0L536.1 202.4L542.5 192.9L548.9 180.9L555.2 166.2L561.6 148.4L568.0 127.7L574.4 105.1L580.8 83.1L587.2 65.3L593.6 60.1L600.0 78.6L606.4 120.4L612.8 167.0L619.2 199.7L625.6 218.2L632.0 228.0L638.4 233.0L644.8 235.4L651.2 236.3L657.6 236.0L664.0 234.8L670.4 232.8L676.8 229.9L683.2 226.0" fill="none" stroke="#000" stroke-width="1"/>
<path d="M427.3 102.3L433.7 70.5L440.1 63.9L446.5 76.6L452.9 97.2L459.3 119.5L465.7 140.3L472.1 158.6L478.5 174.1L484.9 186.9L491.3 197.5L497.7 206.2L504.1 213.3L510.5 219.0L516.9 223.5L523.3 227.1L529.7 230.0L536.1 232.2L542.5 233.8L548.9 234.6L555.2 234.8L561.6 234.0L568.0 231.8L574.4 227.3L580.8 218.7L587.2 202.2L593.6 172.4L600.0 126.5L606.4 76.7L612.8 46.7L619.2 47.8L625.6 68.7L632.0 96.3L638.4 123.2L644.8 146.6L651.2 166.1L657.6 181.8L664.0 194.3L670.4 203.9L676.8 211.3L683.2 216.6" fill="none" stroke="#000" stroke-width="1"/>
<path d="M427.3 102.3L433.7 149.0L440.1 185.5L446.5 208.0L452.9 220.5L459.3 227.2L465.7 230.6L472.1 232.2L478.5 232.5L484.9 232.0L491.3 230.7L497.7 228.8L504.1 226.0L510.5 222.4L516.9 217.8L523.3 211.9L529.7 204.5L536.1 195.2L542.5 183.4L548.9 168.5L555.2 150.1L561.6 128.0L568.0 102.7L574.4 76.8L580.8 56.0L587.2 50.4L593.6 71.9L600.0 118.5L606.4 166.6L612.8 198.9L619.2 217.2L625.6 226.9L632.0 232.0L638.4 234.4L644.8 235.3L651.2 235.0L657.6 233.7L664.0 231.6L670.4 228.6L676.8 224.5L683.2 220.7" fill="none" stroke="#000" stroke-width="1"/>
<path d="M427.3 102.3L433.7 70.5L440.1 63.9L446.5 76.6L452.9 98.0L459.3 121.2L465.7 142.6L472.1 161.1L478.5 176.6L484.9 189.4L491.3 199.7L497.7 208.1L504.1 214.8L510.5 220.1L516.9 224.3L523.3 227.6L529.7 230.2L536.1 232.2L542.5 233.4L548.9 233.8L555.2 233.3L561.6 231.4L568.0 227.2L574.4 218.8L580.8 202.5L587.2 172.1L593.6 123.7L600.0 70.0L606.4 38.7L612.8 39.4L619.2 60.5L625.6 89.1L632.0 117.5L638.4 142.2L644.8 162.6L651.2 179.0L657.6 191.9L664.0 201.9L670.4 209.4L676.8 215.0L683.2 218.1" fill="none" stroke="#000" stroke-width="1"/>
<path d="M427.3 102.3L433.7 149.0L440.1 185.5L446.5 208.0L452.9 220.8L459.3 227.9L465.7 231.8L472.1 233.8L478.5 234.6L484.9 234.5L491.3 233.7L497.7 232.2L504.1 230.0L510.5 227.0L516.9 222.9L523.3 217.5L529.7 210.5L536.1 201.4L542.5 190.0L548.9 175.7L555.2 158.0L561.6 136.6L568.0 112.0L574.4 86.4L580.8 64.5L587.2 55.2L593.6 70.4L600.0 112.7L606.4 162.0L612.8 198.1L619.2 219.1L625.6 230.3L632.0 236.2L638.4 239.1L644.8 240.2L651.2 240.2L657.6 239.1L664.0 237.2L670.4 234.3L676.8 230.5L683.2 225.7" fill="none" stroke="#000" stroke-width="1"/>
<path d="M427.3 102.3L433.7 70.5L440.1 63.9L446.5 76.6L452.9 98.3L459.3 121.6L465.7 143.3L472.1 162.2L478.5 178.1L484.9 191.3L491.3 202.1L497.7 210.9L504.1 218.1L510.5 223.9L516.9 228.6L523.3 232.3L529.7 235.0L536.1 237.0L542.5 238.3L548.9 238.8L555.2 238.5L561.6 236.8L568.0 233.1L574.4 225.7L580.8 211.2L587.2 184.0L593.6 138.9L600.0 84.5L606.4 47.2L612.8 42.0L619.2 60.3L625.6 88.3L632.0 117.0L638.4 142.5L644.8 163.8L651.2 180.9L657.6 194.5L664.0 205.0L670.4 213.0L676.8 219.0L683.2 223.1" fill="none" stroke="#000" stroke-width="1"/>
<path d="M427.3 102.3L433.7 149.0L440.1 185.5L446.5 208.0L452.9 221.0L459.3 227.9L465.7 231.4L472.1 233.1L478.5 233.5L484.9 233.1L491.3 231.9L497.7 229.9L504.1 227.1L510.5 223.3L516.9 218.2L523.3 211.7L529.7 203.4L536.1 192.6L542.5 178.9L548.9 161.7L555.2 140.4L561.6 115.0L568.0 86.9L574.4 60.7L580.8 46.1L587.2 58.2L593.6 102.1L600.0 156.3L606.4 195.4L612.8 216.3L619.2 227.4L625.6 233.4L632.0 236.4L638.4 237.6L644.8 237.6L651.2 236.6L657.6 234.6L664.0 231.8L670.4 227.9L676.8 223.0L683.2 222.8" fill="none" stroke="#000" stroke-width="1"/>
<path d="M427.3 102.3L433.7 70.5L440.1 63.9L446.5 76.6L452.9 98.9L459.3 122.9L465.7 145.0L472.1 163.9L478.5 179.7L484.9 192.6L491.3 203.1L497.7 211.4L504.1 218.1L510.5 223.5L516.9 227.7L523.3 231.0L529.7 233.5L536.1 235.2L542.5 236.1L548.9 236.1L555.2 234.9L561.6 231.9L568.0 225.5L574.4 212.6L580.8 187.4L587.2 143.3L593.6 86.1L600.0 43.6L606.4 35.3L612.8 52.1L619.2 79.7L625.6 109.1L632.0 135.8L638.4 158.1L644.8 176.1L651.2 190.2L657.6 201.1L664.0 209.5L670.4 215.7L676.8 220.1L683.2 220.2" fill="none" stroke="#000" stroke-width="1"/>
<path d="M427.3 102.3L433.7 149.0L440.1 185.5L446.5 208.0L452.9 220.5L459.3 227.3L465.7 230.8L472.1 232.5L478.5 232.9L484.9 232.5L491.3 231.4L497.7 229.5L504.1 227.0L510.5 223.5L516.9 219.1L523.3 213.4L529.7 206.3L536.1 197.2L542.5 185.7L548.9 171.3L555.2 153.5L561.6 132.1L568.0 107.6L574.4 82.3L580.8 61.5L587.2 54.1L593.6 72.1L600.0 115.9L606.4 164.0L612.8 197.7L619.2 217.0L625.6 227.3L632.0 232.7L638.4 235.3L644.8 236.3L651.2 236.1L657.6 235.0L664.0 233.0L670.4 230.1L676.8 226.2L683.2 222.0" fill="none" stroke="#000" stroke-width="1"/>
<path d="M427.3 102.3L433.7 70.5L440.1 63.9L446.5 76.6L452.9 98.0L459.3 121.2L465.7 142.6L472.1 161.2L478.5 176.8L484.9 189.6L491.3 200.1L497.7 208.5L504.1 215.4L510.5 220.8L516.9 225.1L523.3 228.5L529.7 231.2L536.1 233.2L542.5 234.4L548.9 234.9L555.2 234.4L561.6 232.7L568.0 228.8L574.4 221.1L580.8 206.0L587.2 177.6L593.6 131.5L600.0 78.1L606.4 44.1L612.8 41.9L619.2 61.4L625.6 89.3L632.0 117.5L638.4 142.3L644.8 162.8L651.2 179.3L657.6 192.4L664.0 202.5L670.4 210.2L676.8 215.8L683.2 219.4" fill="none" stroke="#000" stroke-width="1"/>
<path d="M427.3 102.3L433.7 149.0L440.1 185.5L446.5 208.0L452.9 220.4L459.3 227.3L465.7 231.1L472.1 233.1L478.5 233.9L484.9 233.8L491.3 233.1L497.7 231.7L504.1 229.7L510.5 226.9L516.9 223.3L523.3 218.7L529.7 212.8L536.1 205.3L542.5 195.9L548.9 184.3L555.2 169.9L561.6 152.6L568.0 132.6L574.4 110.9L580.8 89.9L587.2 72.8L593.6 68.1L600.0 86.4L606.4 127.1L612.8 172.1L619.2 203.6L625.6 221.4L632.0 230.8L638.4 235.6L644.8 237.9L651.2 238.7L657.6 238.4L664.0 237.3L670.4 235.3L676.8 232.5L683.2 228.7" fill="none" stroke="#000" stroke-width="1"/>
<path d="M427.3 102.3L433.7 70.5L440.1 63.9L446.5 76.6L452.9 97.4L459.3 119.9L465.7 141.0L472.1 159.5L478.5 175.1L484.9 188.2L491.3 199.0L497.7 207.9L504.1 215.2L510.5 221.1L516.9 225.9L523.3 229.6L529.7 232.5L536.1 234.7L542.5 236.3L548.9 237.1L555.2 237.3L561.6 236.5L568.0 234.3L574.4 229.9L580.8 221.5L587.2 205.4L593.6 176.2L600.0 131.4L606.4 83.1L612.8 54.5L619.2 55.9L625.6 76.4L632.0 103.2L638.4 129.3L644.8 152.0L651.2 170.9L657.6 186.1L664.0 198.1L670.4 207.5L676.8 214.5L683.2 219.7" fill="none" stroke="#000" stroke-width="1"/>
<path d="M427.3 102.3L433.7 149.0L440.1 185.5L446.5 208.0L452.9 221.2L459.3 228.4L465.7 232.4L472.1 234.4L478.5 235.3L484.9 235.2L491.3 234.4L497.7 232.9L504.1 230.6L510.5 227.4L516.9 223.0L523.3 217.2L529.7 209.4L536.1 199.4L542.5 186.8L548.9 170.8L555.2 151.2L561.6 127.7L568.0 101.3L574.4 75.6L580.8 58.4L587.2 62.1L593.6 96.3L600.0 147.9L606.4 190.7L612.8 215.6L619.2 229.1L625.6 236.2L632.0 240.0L638.4 241.6L644.8 241.9L651.2 241.2L657.6 239.6L664.0 237.1L670.4 233.7L676.8 229.2L683.2 227.5" fill="none" stroke="#000" stroke-width="1"/>
<path d="M427.3 102.3L433.7 70.5L440.1 63.9L446.5 76.6L452.9 99.0L459.3 123.1L465.7 145.3L472.1 164.5L478.5 180.6L484.9 193.9L491.3 204.7L497.7 213.6L504.1 220.7L510.5 226.5L516.9 231.2L523.3 234.8L529.7 237.4L536.1 239.2L542.5 240.2L548.9 240.4L555.2 239.6L561.6 237.1L568.0 231.8L574.4 221.3L580.8 200.7L587.2 163.3L593.6 109.7L600.0 61.7L606.4 43.9L612.8 54.7L619.2 79.7L625.6 108.5L632.0 135.5L638.4 158.5L644.8 177.1L651.2 191.9L657.6 203.4L664.0 212.2L670.4 218.8L676.8 223.6L683.2 224.9" fill="none" stroke="#000" stroke-width="1"/>
<path d="M427.3 102.3L433.7 149.0L440.1 185.5L446.5 208.0L452.9 220.5L459.3 227.4L465.7 231.3L472.1 233.4L478.5 234.2L484.9 234.2L491.3 233.5L497.7 232.2L504.1 230.2L510.5 227.6L516.9 224.0L523.3 219.5L529.7 213.6L536.1 206.2L542.5 196.9L548.9 185.4L555.2 171.2L561.6 154.1L568.0 134.3L574.4 113.0L580.8 92.4L587.2 75.6L593.6 71.1L600.0 89.4L606.4 129.7L612.8 174.1L619.2 205.0L625.6 222.4L632.0 231.7L638.4 236.4L644.8 238.7L651.2 239.5L657.6 239.2L664.0 238.0L670.4 236.1L676.8 233.3L683.2 229.6" fill="none" stroke="#000" stroke-width="1"/>
<path d="M427.3 102.3L433.7 70.5L440.1 63.9L446.5 76.6L452.9 97.5L459.3 120.1L465.7 141.2L472.1 159.7L478.5 175.5L484.9 188.6L491.3 199.4L497.7 208.5L504.1 215.9L510.5 221.8L516.9 226.6L523.3 230.4L529.7 233.3L536.1 235.5L542.5 237.0L548.9 237.9L555.2 238.0L561.6 237.2L568.0 235.1L574.4 230.7L580.8 222.4L587.2 206.4L593.6 177.4L600.0 133.1L606.4 85.4L612.8 57.4L619.2 59.0L625.6 79.3L632.0 105.8L638.4 131.6L644.8 154.0L651.2 172.6L657.6 187.6L664.0 199.5L670.4 208.7L676.8 215.6L683.2 220.8" fill="none" stroke="#000" stroke-width="1"/>
<path d="M427.3 102.3L433.7 149.0L440.1 185.5L446.5 208.0L452.9 220.3L459.3 227.1L465.7 230.8L472.1 232.7L478.5 233.4L484.9 233.3L491.3 232.4L497.7 230.9L504.1 228.8L510.5 226.0L516.9 222.3L523.3 217.6L529.7 211.7L536.1 204.2L542.5 194.9L548.9 183.3L555.2 169.0L561.6 151.8L568.0 131.8L574.4 110.2L580.8 89.3L587.2 72.1L593.6 67.2L600.0 85.2L606.4 125.6L612.8 170.6L619.2 202.2L625.6 220.1L632.0 229.6L638.4 234.4L644.8 236.7L651.2 237.6L657.6 237.3L664.0 236.2L670.4 234.2L676.8 231.4L683.2 227.6" fill="none" stroke="#000" stroke-width="1"/>
<path d="M427.3 102.3L433.7 70.5L440.1 63.9L446.5 76.6L452.9 97.3L459.3 119.7L465.7 140.7L472.1 159.0L478.5 174.6L484.9 187.6L491.3 198.3L497.7 207.2L504.1 214.4L510.5 220.2L516.9 224.8L523.3 228.5L529.7 231.4L536.1 233.6L542.5 235.1L548.9 236.0L555.2 236.1L561.6 235.3L568.0 233.2L574.4 228.9L580.8 220.5L587.2 204.5L593.6 175.6L600.0 131.0L606.4 82.7L612.8 53.8L619.2 55.0L625.6 75.3L632.0 102.0L638.4 128.1L644.8 150.8L651.2 169.7L657.6 184.9L664.0 196.9L670.4 206.3L676.8 213.4L683.2 218.6" fill="none" stroke="#000" stroke-width="1"/>
<path d="M427.3 102.3L433.7 149.0L440.1 185.5L446.5 208.0L452.9 220.5L459.3 227.3L465.7 231.0L472.1 232.9L478.5 233.6L484.9 233.4L491.3 232.5L497.7 230.9L504.1 228.6L510.5 225.6L516.9 221.5L523.3 216.3L529.7 209.7L536.1 201.3L542.5 190.6L548.9 177.3L555.2 160.8L561.6 140.7L568.0 117.4L574.4 92.2L580.8 68.6L587.2 53.0L593.6 55.9L600.0 86.5L606.4 135.5L612.8 179.9L619.2 208.0L625.6 223.4L632.0 231.5L638.4 235.6L644.8 237.5L651.2 237.9L657.6 237.3L664.0 235.7L670.4 233.2L676.8 229.8L683.2 225.4" fill="none" stroke="#000" stroke-width="1"/>
<path d="M427.3 102.3L433.7 70.5L440.1 63.9L446.5 76.6L452.9 97.6L459.3 120.4L465.7 141.6L472.1 160.2L478.5 175.8L484.9 188.8L491.3 199.4L497.7 208.1L504.1 215.2L510.5 220.9L516.9 225.5L523.3 229.1L529.7 232.0L536.1 234.1L542.5 235.6L548.9 236.3L555.2 236.2L561.6 235.1L568.0 232.2L574.4 226.4L580.8 215.1L587.2 193.7L593.6 156.1L600.0 103.3L606.4 55.2L612.8 35.6L619.2 45.7L625.6 71.4L632.0 100.8L638.4 128.1L644.8 151.4L651.2 170.5L657.6 185.7L664.0 197.7L670.4 206.9L676.8 213.8L683.2 218.9" fill="none" stroke="#000" stroke-width="1"/>
<path d="M427.3 102.3L433.7 149.0L440.1 185.5L446.5 208.0L452.9 220.4L459.3 227.2L465.7 230.9L472.1 232.6L478.5 233.2L484.9 232.9L491.3 231.9L497.7 230.2L504.1 227.8L510.5 224.6L516.9 220.5L523.3 215.1L529.7 208.4L536.1 199.8L542.5 189.0L548.9 175.4L555.2 158.6L561.6 138.2L568.0 114.6L574.4 89.5L580.8 66.6L587.2 52.9L593.6 59.6L600.0 94.1L606.4 143.5L612.8 185.0L619.2 210.5L625.6 224.3L632.0 231.5L638.4 235.1L644.8 236.7L651.2 237.0L657.6 236.2L664.0 234.5L670.4 232.0L676.8 228.4L683.2 223.9" fill="none" stroke="#000" stroke-width="1"/>
<path d="M427.3 102.3L433.7 70.5L440.1 63.9L446.5 76.6L452.9 97.7L459.3 120.5L465.7 141.8L472.1 160.3L478.5 175.9L484.9 188.8L491.3 199.3L497.7 207.9L504.1 214.9L510.5 220.5L516.9 225.0L523.3 228.5L529.7 231.3L536.1 233.4L542.5 234.8L548.9 235.5L555.2 235.3L561.6 234.0L568.0 230.9L574.4 224.6L580.8 212.5L587.2 189.4L593.6 149.6L600.0 96.0L606.4 51.3L612.8 36.7L619.2 49.8L625.6 76.3L632.0 105.4L638.4 132.0L644.8 154.4L651.2 172.7L657.6 187.3L664.0 198.7L670.4 207.5L676.8 214.0L683.2 218.8" fill="none" stroke="#000" stroke-width="1"/>
<path d="M427.3 102.3L433.7 149.0L440.1 185.5L446.5 208.0L452.9 220.7L459.3 227.7L465.7 231.6L472.1 233.7L478.5 234.5L484.9 234.5L491.3 233.7L497.7 232.3L504.1 230.2L510.5 227.3L516.9 223.4L523.3 218.4L529.7 211.7L536.1 203.3L542.5 192.6L548.9 179.3L555.2 162.8L561.6 142.8L568.0 119.7L574.4 95.1L580.8 72.6L587.2 58.8L593.6 64.7L600.0 98.0L606.4 146.6L612.8 187.9L619.2 213.4L625.6 227.3L632.0 234.5L638.4 238.2L644.8 239.8L651.2 240.1L657.6 239.4L664.0 237.7L670.4 235.2L676.8 231.8L683.2 227.3" fill="none" stroke="#000" stroke-width="1"/>
<path d="M427.3 102.3L433.7 70.5L440.1 63.9L446.5 76.6L452.9 97.9L459.3 121.0L465.7 142.5L472.1 161.2L478.5 177.1L484.9 190.2L491.3 201.1L497.7 210.0L504.1 217.2L510.5 223.1L516.9 227.8L523.3 231.6L529.7 234.4L536.1 236.5L542.5 237.9L548.9 238.6L555.2 238.4L561.6 237.2L568.0 234.1L574.4 228.1L580.8 216.3L587.2 193.9L593.6 155.0L600.0 102.4L606.4 57.7L612.8 42.5L619.2 54.9L625.6 80.8L632.0 109.5L638.4 135.9L644.8 158.1L651.2 176.3L657.6 190.8L664.0 202.1L670.4 210.8L676.8 217.3L683.2 222.0" fill="none" stroke="#000" stroke-width="1"/>
<path d="M427.3 102.3L433.7 149.0L440.1 185.5L446.5 208.0L452.9 220.6L459.3 227.5L465.7 231.1L472.1 232.9L478.5 233.5L484.9 233.2L491.3 232.2L497.7 230.6L504.1 228.2L510.5 225.0L516.9 220.8L523.3 215.5L529.7 208.7L536.1 200.1L542.5 189.2L548.9 175.6L555.2 158.9L561.6 138.8L568.0 115.8L574.4 91.9L580.8 71.5L587.2 62.1L593.6 75.2L600.0 114.2L606.4 161.2L612.8 196.3L619.2 216.8L625.6 227.9L632.0 233.6L638.4 236.5L644.8 237.6L651.2 237.6L657.6 236.7L664.0 234.9L670.4 232.2L676.8 228.6L683.2 224.0" fill="none" stroke="#000" stroke-width="1"/>
<path d="M427.3 102.3L433.7 70.5L440.1 63.9L446.5 76.6L452.9 98.0L459.3 121.1L465.7 142.6L472.1 161.2L478.5 176.9L484.9 189.9L491.3 200.5L497.7 209.2L504.1 216.2L510.5 221.8L516.9 226.3L523.3 229.8L529.7 232.5L536.1 234.5L542.5 235.7L548.9 236.3L555.2 236.0L561.6 234.4L568.0 231.0L574.4 224.1L580.8 210.8L587.2 185.6L593.6 143.5L600.0 91.7L606.4 54.8L612.8 48.4L619.2 65.2L625.6 91.6L632.0 119.1L638.4 143.6L644.8 164.0L651.2 180.5L657.6 193.5L664.0 203.7L670.4 211.5L676.8 217.2L683.2 221.3" fill="none" stroke="#000" stroke-width="1"/>
<path d="M427.3 102.3L433.7 149.0L440.1 185.5L446.5 208.0L452.9 220.1L459.3 226.7L465.7 230.2L472.1 231.9L478.5 232.4L484.9 232.1L491.3 231.0L497.7 229.4L504.1 227.1L510.5 224.1L516.9 220.2L523.3 215.4L529.7 209.5L536.1 202.2L542.5 192.9L548.9 181.5L555.2 167.4L561.6 150.4L568.0 130.7L574.4 109.3L580.8 88.4L587.2 70.9L593.6 64.9L600.0 81.2L606.4 120.4L612.8 165.9L619.2 198.4L625.6 217.0L632.0 226.8L638.4 231.8L644.8 234.3L651.2 235.1L657.6 234.9L664.0 233.9L670.4 232.0L676.8 229.2L683.2 225.5" fill="none" stroke="#000" stroke-width="1"/>
<path d="M427.3 102.3L433.7 70.5L440.1 63.9L446.5 76.6L452.9 97.0L459.3 119.2L465.7 139.9L472.1 158.1L478.5 173.4L484.9 186.2L491.3 196.7L497.7 205.4L504.1 212.4L510.5 218.0L516.9 222.5L523.3 226.0L529.7 228.9L536.1 231.1L542.5 232.7L548.9 233.6L555.2 233.7L561.6 233.0L568.0 231.0L574.4 226.8L580.8 218.7L587.2 203.3L593.6 175.3L600.0 131.7L606.4 83.2L612.8 52.6L619.2 52.2L625.6 71.8L632.0 98.3L638.4 124.4L644.8 147.3L651.2 166.4L657.6 181.8L664.0 194.0L670.4 203.4L676.8 210.6L683.2 216.0" fill="none" stroke="#000" stroke-width="1"/>
<path d="M427.3 102.3L433.7 149.0L440.1 185.5L446.5 208.0L452.9 221.4L459.3 228.7L465.7 232.7L472.1 234.8L478.5 235.6L484.9 235.6L491.3 234.8L497.7 233.2L504.1 230.8L510.5 227.4L516.9 222.8L523.3 216.7L529.7 208.3L536.1 197.5L542.5 183.7L548.9 166.4L555.2 145.0L561.6 119.4L568.0 91.1L574.4 64.7L580.8 49.9L587.2 62.0L593.6 106.2L600.0 160.8L606.4 200.1L612.8 221.2L619.2 232.4L625.6 238.4L632.0 241.4L638.4 242.6L644.8 242.6L651.2 241.6L657.6 239.6L664.0 236.7L670.4 232.8L676.8 227.9L683.2 227.7" fill="none" stroke="#000" stroke-width="1"/>
<path d="M427.3 102.3L433.7 70.5L440.1 63.9L446.5 76.6L452.9 99.4L459.3 123.8L465.7 146.2L472.1 165.6L478.5 181.8L484.9 195.1L491.3 206.0L497.7 214.7L504.1 221.9L510.5 227.6L516.9 232.3L523.3 236.0L529.7 238.4L536.1 240.2L542.5 241.1L548.9 241.1L555.2 239.9L561.6 236.8L568.0 230.4L574.4 217.4L580.8 192.0L587.2 147.7L593.6 90.2L600.0 47.4L606.4 39.1L612.8 56.0L619.2 83.8L625.6 113.3L632.0 140.2L638.4 162.7L644.8 180.7L651.2 194.9L657.6 205.9L664.0 214.3L670.4 220.5L676.8 225.0L683.2 225.1" fill="none" stroke="#000" stroke-width="1"/>
<path d="M427.3 102.3L433.7 149.0L440.1 185.5L446.5 208.0L452.9 220.6L459.3 227.3L465.7 230.8L472.1 232.3L478.5 232.6L484.9 232.1L491.3 230.8L497.7 228.8L504.1 226.1L510.5 222.4L516.9 217.8L523.3 211.8L529.7 204.4L536.1 195.0L542.5 183.2L548.9 168.4L555.2 150.1L561.6 128.4L568.0 104.1L574.4 80.2L580.8 63.5L587.2 64.1L593.6 92.7L600.0 140.4L606.4 182.5L612.8 208.0L619.2 222.0L625.6 229.5L632.0 233.4L638.4 235.2L644.8 235.6L651.2 235.1L657.6 233.7L664.0 231.4L670.4 228.3L676.8 224.2L683.2 221.9" fill="none" stroke="#000" stroke-width="1"/>
<path d="M427.3 102.3L433.7 70.5L440.1 63.9L446.5 76.6L452.9 98.3L459.3 121.8L465.7 143.4L472.1 162.0L478.5 177.6L484.9 190.3L491.3 200.7L497.7 209.1L504.1 215.8L510.5 221.1L516.9 225.3L523.3 228.5L529.7 231.0L536.1 232.8L542.5 233.9L548.9 234.2L555.2 233.5L561.6 231.3L568.0 226.6L574.4 217.4L580.8 199.4L587.2 166.2L593.6 116.8L600.0 69.1L606.4 48.1L612.8 55.5L619.2 78.2L625.6 105.6L632.0 131.6L638.4 153.9L644.8 172.1L651.2 186.5L657.6 197.8L664.0 206.4L670.4 213.0L676.8 217.7L683.2 219.5" fill="none" stroke="#000" stroke-width="1"/>
<path d="M427.3 102.3L433.7 149.0L440.1 185.5L446.5 208.0L452.9 220.8L459.3 228.0L465.7 231.9L472.1 234.1L478.5 235.0L484.9 235.0L491.3 234.3L497.7 233.0L504.1 231.0L510.5 228.1L516.9 224.3L523.3 219.3L529.7 212.6L536.1 204.1L542.5 193.4L548.9 179.9L555.2 163.3L561.6 143.3L568.0 120.3L574.4 95.9L580.8 74.2L587.2 61.9L593.6 70.5L600.0 106.1L606.4 154.2L612.8 193.3L619.2 216.8L625.6 229.6L632.0 236.2L638.4 239.6L644.8 241.0L651.2 241.2L657.6 240.4L664.0 238.7L670.4 236.1L676.8 232.6L683.2 228.1" fill="none" stroke="#000" stroke-width="1"/>
<path d="M427.3 102.3L433.7 70.5L440.1 63.9L446.5 76.6L452.9 98.1L459.3 121.4L465.7 143.0L472.1 161.9L478.5 177.8L484.9 191.1L491.3 202.0L497.7 211.0L504.1 218.3L510.5 224.3L516.9 229.1L523.3 232.9L529.7 235.7L536.1 237.7L542.5 239.1L548.9 239.7L555.2 239.5L561.6 238.1L568.0 235.0L574.4 228.6L580.8 216.3L587.2 192.9L593.6 152.8L600.0 100.3L606.4 58.4L612.8 46.5L619.2 60.7L625.6 86.9L632.0 115.2L638.4 140.8L644.8 162.4L651.2 179.9L657.6 193.9L664.0 204.7L670.4 213.1L676.8 219.3L683.2 223.8" fill="none" stroke="#000" stroke-width="1"/>
<path d="M427.3 102.3L433.7 149.0L440.1 185.5L446.5 208.0L452.9 220.8L459.3 227.8L465.7 231.4L472.1 233.1L478.5 233.6L484.9 233.3L491.3 232.2L497.7 230.3L504.1 227.7L510.5 224.1L516.9 219.4L523.3 213.2L529.7 205.3L536.1 195.2L542.5 182.3L548.9 166.0L555.2 145.9L561.6 121.7L568.0 94.4L574.4 67.2L580.8 47.9L587.2 49.6L593.6 82.6L600.0 135.6L606.4 181.4L612.8 208.8L619.2 223.7L625.6 231.6L632.0 235.7L638.4 237.6L644.8 238.0L651.2 237.4L657.6 235.8L664.0 233.2L670.4 229.8L676.8 225.2L683.2 223.0" fill="none" stroke="#000" stroke-width="1"/>
<path d="M427.3 102.3L433.7 70.5L440.1 63.9L446.5 76.6L452.9 98.6L459.3 122.3L465.7 144.1L472.1 163.0L478.5 178.7L484.9 191.7L491.3 202.2L497.7 210.7L504.1 217.5L510.5 222.9L516.9 227.3L523.3 230.7L529.7 233.3L536.1 235.1L542.5 236.2L548.9 236.5L555.2 235.6L561.6 233.2L568.0 228.0L574.4 217.5L580.8 197.0L587.2 159.7L593.6 104.9L600.0 53.5L606.4 32.3L612.8 41.7L619.2 67.1L625.6 97.0L632.0 125.3L638.4 149.5L644.8 169.2L651.2 184.8L657.6 197.0L664.0 206.4L670.4 213.5L676.8 218.6L683.2 220.3" fill="none" stroke="#000" stroke-width="1"/>
</g>
<path d="M427.3 28.0V261.3H683.2" fill="none" stroke="#262626" stroke-width="1"/>
<path d="M427.3 261.3v-3.4" stroke="#262626" stroke-width="1"/>
<text x="426.5" y="285.0" font-size="17.5" text-anchor="middle" fill="#262626">0</text>
<path d="M491.3 261.3v-3.4" stroke="#262626" stroke-width="1"/>
<text x="490.5" y="285.0" font-size="17.5" text-anchor="middle" fill="#262626">5</text>
<path d="M555.2 261.3v-3.4" stroke="#262626" stroke-width="1"/>
<text x="554.5" y="285.0" font-size="17.5" text-anchor="middle" fill="#262626">10</text>
<path d="M619.2 261.3v-3.4" stroke="#262626" stroke-width="1"/>
<text x="618.4" y="285.0" font-size="17.5" text-anchor="middle" fill="#262626">15</text>
<path d="M683.2 261.3v-3.4" stroke="#262626" stroke-width="1"/>
<text x="682.4" y="285.0" font-size="17.5" text-anchor="middle" fill="#262626">20</text>
<text x="573.6" y="20.4" font-size="19.3" text-anchor="middle" fill="#000">Teymur et al. (2016)</text>
<g clip-path="url(#clip2)">
<path d="M783.3 102.9L784.9 114.2L786.5 125.7L788.1 137.0L789.7 148.0L791.3 158.4L792.9 168.0L794.5 176.7L796.1 184.3L797.7 191.3L799.3 197.5L800.9 202.9L802.4 207.8L804.0 212.0L805.6 215.7L807.2 218.9L808.8 221.7L810.4 224.2L812.0 226.4L813.6 228.3L815.2 230.0L816.8 231.5L818.4 232.7L820.0 233.8L821.6 234.7L823.2 235.4L824.8 236.1L826.4 236.6L828.0 237.0L829.6 237.4L831.2 237.6L832.8 237.8L834.4 237.9L836.0 238.0L837.6 237.9L839.1 237.9L840.7 237.7L842.3 237.5L843.9 237.3L845.5 237.0L847.1 236.6L848.7 236.2L850.3 235.7L851.9 235.2L853.5 234.6L855.1 234.0L856.7 233.4L858.3 232.6L859.9 231.8L861.5 231.0L863.1 230.1L864.7 229.1L866.3 228.1L867.9 227.0L869.5 225.9L871.1 224.7L872.7 223.4L874.3 222.0L875.8 220.6L877.4 219.1L879.0 217.5L880.6 215.8L882.2 214.0L883.8 212.1L885.4 210.2L887.0 208.1L888.6 205.9L890.2 203.7L891.8 201.3L893.4 198.8L895.0 196.2L896.6 193.5L898.2 190.7L899.8 187.7L901.4 184.6L903.0 181.4L904.6 178.1L906.2 174.7L907.8 171.1L909.4 167.4L910.9 163.6L912.5 159.7L914.1 155.7L915.7 151.6L917.3 147.4L918.9 143.2L920.5 138.9L922.1 134.5L923.7 130.2L925.3 125.9L926.9 121.6L928.5 117.5L930.1 113.5L931.7 109.8L933.3 106.3L934.9 103.1L936.5 100.4L938.1 98.1L939.7 96.3L941.3 95.2L942.9 94.8L944.5 95.2L946.1 96.3L947.6 98.3L949.2 101.1L950.8 104.8L952.4 109.3L954.0 114.5L955.6 120.3L957.2 126.7L958.8 133.4L960.4 140.4L962.0 147.4L963.6 154.5L965.2 161.3L966.8 168.0L968.4 174.4L970.0 180.3L971.6 185.9L973.2 191.1L974.8 195.8L976.4 200.1L978.0 204.0L979.6 207.6L981.2 210.7L982.8 213.6L984.3 216.1L985.9 218.4L987.5 220.4L989.1 222.1L990.7 223.7L992.3 225.1L993.9 226.3L995.5 227.3L997.1 228.2L998.7 229.0L1000.3 229.7L1001.9 230.2L1003.5 230.7L1005.1 231.0L1006.7 231.3L1008.3 231.5L1009.9 231.6L1011.5 231.6L1013.1 231.6L1014.7 231.5L1016.3 231.4L1017.9 231.1L1019.5 230.9L1021.0 230.5L1022.6 230.1L1024.2 229.7L1025.8 229.2L1027.4 228.6L1029.0 228.0L1030.6 227.3L1032.2 226.5L1033.8 225.7L1035.4 224.8L1037.0 223.9L1038.6 222.9" fill="none" stroke="#000" stroke-width="1.2" stroke-dasharray="10 4" stroke-dashoffset="0"/>
<path d="M783.3 104.6L784.9 96.3L786.5 89.2L788.1 83.4L789.7 79.1L791.3 76.1L792.9 74.4L794.5 73.1L796.1 72.4L797.7 72.7L799.3 73.7L800.9 75.6L802.4 78.1L804.0 81.3L805.6 85.1L807.2 89.4L808.8 94.1L810.4 99.3L812.0 104.7L813.6 110.2L815.2 115.8L816.8 121.4L818.4 126.9L820.0 132.4L821.6 137.7L823.2 142.8L824.8 147.8L826.4 152.7L828.0 157.3L829.6 161.8L831.2 166.1L832.8 170.2L834.4 174.2L836.0 177.9L837.6 181.5L839.1 184.9L840.7 188.2L842.3 191.3L843.9 194.2L845.5 197.0L847.1 199.7L848.7 202.2L850.3 204.6L851.9 206.8L853.5 209.0L855.1 211.0L856.7 212.9L858.3 214.7L859.9 216.4L861.5 218.0L863.1 219.5L864.7 220.9L866.3 222.2L867.9 223.5L869.5 224.6L871.1 225.7L872.7 226.8L874.3 227.7L875.8 228.6L877.4 229.4L879.0 230.2L880.6 230.9L882.2 231.5L883.8 232.1L885.4 232.6L887.0 233.1L888.6 233.5L890.2 233.8L891.8 234.1L893.4 234.4L895.0 234.6L896.6 234.7L898.2 234.8L899.8 234.8L901.4 234.8L903.0 234.7L904.6 234.5L906.2 234.3L907.8 234.0L909.4 233.6L910.9 233.1L912.5 232.5L914.1 231.9L915.7 231.1L917.3 230.2L918.9 229.2L920.5 228.0L922.1 226.7L923.7 225.2L925.3 223.6L926.9 221.7L928.5 219.5L930.1 217.2L931.7 214.5L933.3 211.5L934.9 208.2L936.5 204.5L938.1 200.5L939.7 196.0L941.3 191.2L942.9 185.9L944.5 180.2L946.1 174.1L947.6 167.7L949.2 160.9L950.8 154.0L952.4 147.0L954.0 140.0L955.6 133.2L957.2 126.7L958.8 120.5L960.4 115.0L962.0 110.1L963.6 105.9L965.2 102.5L966.8 100.0L968.4 98.4L970.0 97.5L971.6 97.4L973.2 98.1L974.8 99.4L976.4 101.3L978.0 103.8L979.6 106.6L981.2 109.9L982.8 113.4L984.3 117.2L985.9 121.1L987.5 125.2L989.1 129.3L990.7 133.5L992.3 137.8L993.9 141.9L995.5 146.1L997.1 150.2L998.7 154.2L1000.3 158.1L1001.9 161.9L1003.5 165.6L1005.1 169.2L1006.7 172.7L1008.3 176.0L1009.9 179.3L1011.5 182.4L1013.1 185.3L1014.7 188.2L1016.3 190.9L1017.9 193.5L1019.5 196.0L1021.0 198.4L1022.6 200.7L1024.2 202.8L1025.8 204.9L1027.4 206.8L1029.0 208.7L1030.6 210.4L1032.2 212.1L1033.8 213.7L1035.4 215.1L1037.0 216.5L1038.6 217.9" fill="none" stroke="#000" stroke-width="1.2" stroke-dasharray="10 4" stroke-dashoffset="0"/>
<path d="M783.3 102.9L784.9 113.9L786.5 125.1L788.1 136.2L789.7 147.1L791.3 157.4L792.9 167.1L794.5 175.8L796.1 183.8L797.7 190.9L799.3 197.3L800.9 203.0L802.4 208.0L804.0 212.4L805.6 216.3L807.2 219.6L808.8 222.5L810.4 225.1L812.0 227.4L813.6 229.4L815.2 231.1L816.8 232.6L818.4 233.8L820.0 234.9L821.6 235.8L823.2 236.6L824.8 237.3L826.4 237.8L828.0 238.3L829.6 238.6L831.2 238.9L832.8 239.1L834.4 239.2L836.0 239.2L837.6 239.2L839.1 239.1L840.7 239.0L842.3 238.8L843.9 238.5L845.5 238.2L847.1 237.8L848.7 237.4L850.3 236.9L851.9 236.4L853.5 235.8L855.1 235.2L856.7 234.5L858.3 233.7L859.9 232.9L861.5 232.1L863.1 231.2L864.7 230.2L866.3 229.1L867.9 228.0L869.5 226.8L871.1 225.6L872.7 224.2L874.3 222.8L875.8 221.4L877.4 219.8L879.0 218.2L880.6 216.4L882.2 214.6L883.8 212.7L885.4 210.7L887.0 208.5L888.6 206.3L890.2 204.0L891.8 201.5L893.4 199.0L895.0 196.3L896.6 193.5L898.2 190.6L899.8 187.6L901.4 184.4L903.0 181.1L904.6 177.7L906.2 174.1L907.8 170.5L909.4 166.7L910.9 162.8L912.5 158.7L914.1 154.6L915.7 150.4L917.3 146.0L918.9 141.7L920.5 137.2L922.1 132.7L923.7 128.3L925.3 123.8L926.9 119.5L928.5 115.2L930.1 111.1L931.7 107.2L933.3 103.6L934.9 100.3L936.5 97.5L938.1 95.1L939.7 93.3L941.3 92.1L942.9 91.7L944.5 92.0L946.1 93.2L947.6 95.3L949.2 98.2L950.8 102.0L952.4 106.6L954.0 111.9L955.6 117.9L957.2 124.4L958.8 131.4L960.4 138.5L962.0 145.8L963.6 153.1L965.2 160.2L966.8 167.0L968.4 173.6L970.0 179.7L971.6 185.5L973.2 190.8L974.8 195.7L976.4 200.1L978.0 204.2L979.6 207.8L981.2 211.1L982.8 214.0L984.3 216.6L985.9 219.0L987.5 221.0L989.1 222.9L990.7 224.5L992.3 225.9L993.9 227.1L995.5 228.2L997.1 229.2L998.7 230.0L1000.3 230.6L1001.9 231.2L1003.5 231.7L1005.1 232.0L1006.7 232.3L1008.3 232.5L1009.9 232.6L1011.5 232.7L1013.1 232.6L1014.7 232.5L1016.3 232.4L1017.9 232.2L1019.5 231.9L1021.0 231.5L1022.6 231.1L1024.2 230.6L1025.8 230.1L1027.4 229.5L1029.0 228.8L1030.6 228.1L1032.2 227.4L1033.8 226.5L1035.4 225.6L1037.0 224.6L1038.6 223.6" fill="none" stroke="#000" stroke-width="1.2" stroke-dasharray="7 5" stroke-dashoffset="3"/>
<path d="M783.3 104.6L784.9 95.9L786.5 88.4L788.1 82.1L789.7 77.2L791.3 73.6L792.9 71.4L794.5 69.9L796.1 69.3L797.7 69.6L799.3 70.8L800.9 72.7L802.4 75.4L804.0 78.8L805.6 82.8L807.2 87.2L808.8 92.1L810.4 97.4L812.0 102.9L813.6 108.6L815.2 114.3L816.8 120.0L818.4 125.6L820.0 131.2L821.6 136.6L823.2 141.9L824.8 147.0L826.4 151.9L828.0 156.7L829.6 161.2L831.2 165.6L832.8 169.8L834.4 173.9L836.0 177.7L837.6 181.4L839.1 184.9L840.7 188.2L842.3 191.4L843.9 194.4L845.5 197.3L847.1 200.0L848.7 202.5L850.3 205.0L851.9 207.3L853.5 209.5L855.1 211.5L856.7 213.5L858.3 215.3L859.9 217.1L861.5 218.7L863.1 220.2L864.7 221.7L866.3 223.1L867.9 224.3L869.5 225.5L871.1 226.7L872.7 227.7L874.3 228.7L875.8 229.6L877.4 230.4L879.0 231.2L880.6 231.9L882.2 232.6L883.8 233.2L885.4 233.7L887.0 234.2L888.6 234.6L890.2 235.0L891.8 235.3L893.4 235.5L895.0 235.7L896.6 235.9L898.2 236.0L899.8 236.0L901.4 235.9L903.0 235.8L904.6 235.7L906.2 235.4L907.8 235.1L909.4 234.7L910.9 234.2L912.5 233.6L914.1 233.0L915.7 232.2L917.3 231.2L918.9 230.2L920.5 229.0L922.1 227.6L923.7 226.1L925.3 224.4L926.9 222.4L928.5 220.2L930.1 217.8L931.7 215.0L933.3 212.0L934.9 208.6L936.5 204.8L938.1 200.6L939.7 196.0L941.3 191.0L942.9 185.5L944.5 179.7L946.1 173.4L947.6 166.7L949.2 159.8L950.8 152.7L952.4 145.5L954.0 138.2L955.6 131.2L957.2 124.4L958.8 118.1L960.4 112.3L962.0 107.3L963.6 103.0L965.2 99.5L966.8 96.9L968.4 95.1L970.0 94.3L971.6 94.2L973.2 94.8L974.8 96.2L976.4 98.2L978.0 100.7L979.6 103.6L981.2 106.9L982.8 110.6L984.3 114.5L985.9 118.5L987.5 122.7L989.1 127.0L990.7 131.3L992.3 135.7L993.9 140.0L995.5 144.3L997.1 148.5L998.7 152.6L1000.3 156.7L1001.9 160.6L1003.5 164.4L1005.1 168.1L1006.7 171.7L1008.3 175.2L1009.9 178.5L1011.5 181.7L1013.1 184.8L1014.7 187.7L1016.3 190.5L1017.9 193.2L1019.5 195.8L1021.0 198.3L1022.6 200.6L1024.2 202.8L1025.8 205.0L1027.4 207.0L1029.0 208.9L1030.6 210.7L1032.2 212.4L1033.8 214.0L1035.4 215.6L1037.0 217.0L1038.6 218.4" fill="none" stroke="#000" stroke-width="1.2" stroke-dasharray="7 5" stroke-dashoffset="3"/>
<path d="M783.3 102.9L784.9 113.5L786.5 124.5L788.1 135.4L789.7 146.2L791.3 156.4L792.9 166.1L794.5 175.0L796.1 183.2L797.7 190.6L799.3 197.2L800.9 203.1L802.4 208.3L804.0 212.8L805.6 216.9L807.2 220.4L808.8 223.4L810.4 226.1L812.0 228.4L813.6 230.4L815.2 232.2L816.8 233.7L818.4 235.0L820.0 236.1L821.6 237.0L823.2 237.8L824.8 238.5L826.4 239.1L828.0 239.5L829.6 239.9L831.2 240.1L832.8 240.3L834.4 240.4L836.0 240.5L837.6 240.4L839.1 240.4L840.7 240.2L842.3 240.0L843.9 239.7L845.5 239.4L847.1 239.0L848.7 238.6L850.3 238.1L851.9 237.6L853.5 237.0L855.1 236.3L856.7 235.6L858.3 234.9L859.9 234.0L861.5 233.1L863.1 232.2L864.7 231.2L866.3 230.1L867.9 229.0L869.5 227.8L871.1 226.5L872.7 225.1L874.3 223.7L875.8 222.2L877.4 220.6L879.0 218.9L880.6 217.1L882.2 215.2L883.8 213.2L885.4 211.2L887.0 209.0L888.6 206.7L890.2 204.3L891.8 201.8L893.4 199.2L895.0 196.4L896.6 193.5L898.2 190.5L899.8 187.4L901.4 184.2L903.0 180.8L904.6 177.3L906.2 173.6L907.8 169.8L909.4 165.9L910.9 161.9L912.5 157.7L914.1 153.5L915.7 149.1L917.3 144.7L918.9 140.2L920.5 135.6L922.1 131.0L923.7 126.4L925.3 121.8L926.9 117.3L928.5 112.9L930.1 108.7L931.7 104.6L933.3 100.9L934.9 97.5L936.5 94.6L938.1 92.1L939.7 90.3L941.3 89.1L942.9 88.6L944.5 88.9L946.1 90.1L947.6 92.2L949.2 95.2L950.8 99.1L952.4 103.8L954.0 109.3L955.6 115.5L957.2 122.2L958.8 129.3L960.4 136.7L962.0 144.2L963.6 151.7L965.2 159.0L966.8 166.0L968.4 172.8L970.0 179.1L971.6 185.1L973.2 190.5L974.8 195.6L976.4 200.2L978.0 204.3L979.6 208.1L981.2 211.4L982.8 214.5L984.3 217.2L985.9 219.6L987.5 221.7L989.1 223.6L990.7 225.3L992.3 226.7L993.9 228.0L995.5 229.1L997.1 230.1L998.7 230.9L1000.3 231.6L1001.9 232.2L1003.5 232.7L1005.1 233.1L1006.7 233.3L1008.3 233.5L1009.9 233.7L1011.5 233.7L1013.1 233.7L1014.7 233.6L1016.3 233.4L1017.9 233.2L1019.5 232.9L1021.0 232.5L1022.6 232.1L1024.2 231.6L1025.8 231.0L1027.4 230.4L1029.0 229.7L1030.6 229.0L1032.2 228.2L1033.8 227.3L1035.4 226.4L1037.0 225.4L1038.6 224.3" fill="none" stroke="#000" stroke-width="1.2" stroke-dasharray="14 3" stroke-dashoffset="6"/>
<path d="M783.3 104.6L784.9 95.5L786.5 87.5L788.1 80.8L789.7 75.3L791.3 71.2L792.9 68.4L794.5 66.7L796.1 66.1L797.7 66.5L799.3 67.8L800.9 69.9L802.4 72.7L804.0 76.3L805.6 80.4L807.2 85.0L808.8 90.1L810.4 95.5L812.0 101.1L813.6 106.9L815.2 112.7L816.8 118.5L818.4 124.3L820.0 130.0L821.6 135.5L823.2 140.9L824.8 146.1L826.4 151.1L828.0 156.0L829.6 160.7L831.2 165.2L832.8 169.5L834.4 173.6L836.0 177.5L837.6 181.3L839.1 184.8L840.7 188.2L842.3 191.5L843.9 194.6L845.5 197.5L847.1 200.3L848.7 202.9L850.3 205.4L851.9 207.8L853.5 210.0L855.1 212.1L856.7 214.1L858.3 216.0L859.9 217.8L861.5 219.4L863.1 221.0L864.7 222.5L866.3 223.9L867.9 225.2L869.5 226.4L871.1 227.6L872.7 228.7L874.3 229.7L875.8 230.6L877.4 231.5L879.0 232.2L880.6 233.0L882.2 233.6L883.8 234.3L885.4 234.8L887.0 235.3L888.6 235.7L890.2 236.1L891.8 236.4L893.4 236.7L895.0 236.9L896.6 237.0L898.2 237.1L899.8 237.1L901.4 237.1L903.0 237.0L904.6 236.8L906.2 236.6L907.8 236.2L909.4 235.8L910.9 235.3L912.5 234.7L914.1 234.0L915.7 233.2L917.3 232.3L918.9 231.2L920.5 230.0L922.1 228.6L923.7 227.0L925.3 225.2L926.9 223.2L928.5 220.9L930.1 218.4L931.7 215.6L933.3 212.4L934.9 208.9L936.5 205.0L938.1 200.7L939.7 196.0L941.3 190.8L942.9 185.2L944.5 179.1L946.1 172.7L947.6 165.8L949.2 158.7L950.8 151.3L952.4 143.9L954.0 136.4L955.6 129.2L957.2 122.2L958.8 115.7L960.4 109.7L962.0 104.5L963.6 100.0L965.2 96.4L966.8 93.7L968.4 91.9L970.0 91.0L971.6 90.9L973.2 91.6L974.8 93.0L976.4 95.0L978.0 97.5L979.6 100.6L981.2 104.0L982.8 107.7L984.3 111.7L985.9 115.9L987.5 120.2L989.1 124.6L990.7 129.1L992.3 133.6L993.9 138.0L995.5 142.4L997.1 146.8L998.7 151.0L1000.3 155.2L1001.9 159.3L1003.5 163.2L1005.1 167.0L1006.7 170.7L1008.3 174.3L1009.9 177.7L1011.5 181.0L1013.1 184.2L1014.7 187.2L1016.3 190.1L1017.9 192.9L1019.5 195.6L1021.0 198.1L1022.6 200.5L1024.2 202.8L1025.8 205.0L1027.4 207.1L1029.0 209.1L1030.6 211.0L1032.2 212.7L1033.8 214.4L1035.4 216.0L1037.0 217.5L1038.6 218.9" fill="none" stroke="#000" stroke-width="1.2" stroke-dasharray="14 3" stroke-dashoffset="6"/>
<path d="M783.3 102.9L784.9 113.2L786.5 123.9L788.1 134.7L789.7 145.3L791.3 155.5L792.9 165.1L794.5 174.2L796.1 182.6L797.7 190.2L799.3 197.1L800.9 203.1L802.4 208.5L804.0 213.3L805.6 217.4L807.2 221.1L808.8 224.3L810.4 227.0L812.0 229.4L813.6 231.4L815.2 233.2L816.8 234.8L818.4 236.1L820.0 237.2L821.6 238.2L823.2 239.0L824.8 239.7L826.4 240.3L828.0 240.7L829.6 241.1L831.2 241.4L832.8 241.6L834.4 241.7L836.0 241.7L837.6 241.7L839.1 241.6L840.7 241.4L842.3 241.2L843.9 241.0L845.5 240.6L847.1 240.2L848.7 239.8L850.3 239.3L851.9 238.8L853.5 238.1L855.1 237.5L856.7 236.8L858.3 236.0L859.9 235.1L861.5 234.2L863.1 233.3L864.7 232.2L866.3 231.1L867.9 229.9L869.5 228.7L871.1 227.4L872.7 226.0L874.3 224.5L875.8 222.9L877.4 221.3L879.0 219.6L880.6 217.7L882.2 215.8L883.8 213.8L885.4 211.7L887.0 209.4L888.6 207.1L890.2 204.6L891.8 202.0L893.4 199.3L895.0 196.5L896.6 193.6L898.2 190.5L899.8 187.3L901.4 183.9L903.0 180.4L904.6 176.8L906.2 173.1L907.8 169.2L909.4 165.2L910.9 161.0L912.5 156.7L914.1 152.4L915.7 147.9L917.3 143.3L918.9 138.7L920.5 133.9L922.1 129.2L923.7 124.5L925.3 119.8L926.9 115.1L928.5 110.6L930.1 106.2L931.7 102.1L933.3 98.2L934.9 94.7L936.5 91.7L938.1 89.2L939.7 87.2L941.3 86.0L942.9 85.5L944.5 85.8L946.1 87.0L947.6 89.2L949.2 92.3L950.8 96.2L952.4 101.1L954.0 106.7L955.6 113.1L957.2 120.0L958.8 127.3L960.4 134.9L962.0 142.6L963.6 150.3L965.2 157.8L966.8 165.1L968.4 172.0L970.0 178.5L971.6 184.6L973.2 190.3L974.8 195.5L976.4 200.2L978.0 204.5L979.6 208.3L981.2 211.8L982.8 214.9L984.3 217.7L985.9 220.2L987.5 222.4L989.1 224.3L990.7 226.0L992.3 227.5L993.9 228.9L995.5 230.0L997.1 231.0L998.7 231.9L1000.3 232.6L1001.9 233.2L1003.5 233.7L1005.1 234.1L1006.7 234.4L1008.3 234.6L1009.9 234.7L1011.5 234.7L1013.1 234.7L1014.7 234.6L1016.3 234.4L1017.9 234.2L1019.5 233.9L1021.0 233.5L1022.6 233.0L1024.2 232.5L1025.8 232.0L1027.4 231.3L1029.0 230.6L1030.6 229.9L1032.2 229.0L1033.8 228.1L1035.4 227.2L1037.0 226.1L1038.6 225.0" fill="none" stroke="#000" stroke-width="1.2" stroke-dasharray="12 3" stroke-dashoffset="9"/>
<path d="M783.3 104.6L784.9 95.1L786.5 86.7L788.1 79.4L789.7 73.4L791.3 68.8L792.9 65.4L794.5 63.5L796.1 63.0L797.7 63.5L799.3 64.8L800.9 67.1L802.4 70.0L804.0 73.7L805.6 78.0L807.2 82.8L808.8 88.1L810.4 93.6L812.0 99.3L813.6 105.2L815.2 111.2L816.8 117.1L818.4 123.0L820.0 128.8L821.6 134.4L823.2 139.9L824.8 145.2L826.4 150.4L828.0 155.3L829.6 160.1L831.2 164.7L832.8 169.1L834.4 173.3L836.0 177.3L837.6 181.1L839.1 184.8L840.7 188.3L842.3 191.6L843.9 194.7L845.5 197.7L847.1 200.6L848.7 203.3L850.3 205.8L851.9 208.2L853.5 210.5L855.1 212.7L856.7 214.7L858.3 216.6L859.9 218.5L861.5 220.2L863.1 221.8L864.7 223.3L866.3 224.7L867.9 226.1L869.5 227.3L871.1 228.5L872.7 229.6L874.3 230.6L875.8 231.6L877.4 232.5L879.0 233.3L880.6 234.0L882.2 234.7L883.8 235.3L885.4 235.9L887.0 236.4L888.6 236.9L890.2 237.2L891.8 237.6L893.4 237.8L895.0 238.0L896.6 238.2L898.2 238.3L899.8 238.3L901.4 238.3L903.0 238.1L904.6 238.0L906.2 237.7L907.8 237.4L909.4 236.9L910.9 236.4L912.5 235.8L914.1 235.1L915.7 234.3L917.3 233.3L918.9 232.2L920.5 230.9L922.1 229.5L923.7 227.9L925.3 226.0L926.9 224.0L928.5 221.7L930.1 219.0L931.7 216.1L933.3 212.9L934.9 209.3L936.5 205.3L938.1 200.8L939.7 196.0L941.3 190.6L942.9 184.9L944.5 178.6L946.1 172.0L947.6 164.9L949.2 157.6L950.8 150.0L952.4 142.3L954.0 134.7L955.6 127.1L957.2 120.0L958.8 113.2L960.4 107.1L962.0 101.7L963.6 97.1L965.2 93.4L966.8 90.6L968.4 88.7L970.0 87.8L971.6 87.6L973.2 88.3L974.8 89.7L976.4 91.8L978.0 94.4L979.6 97.5L981.2 101.1L982.8 104.9L984.3 109.0L985.9 113.3L987.5 117.7L989.1 122.3L990.7 126.9L992.3 131.5L993.9 136.1L995.5 140.6L997.1 145.1L998.7 149.5L1000.3 153.7L1001.9 157.9L1003.5 162.0L1005.1 165.9L1006.7 169.7L1008.3 173.4L1009.9 177.0L1011.5 180.4L1013.1 183.6L1014.7 186.8L1016.3 189.8L1017.9 192.6L1019.5 195.4L1021.0 198.0L1022.6 200.5L1024.2 202.9L1025.8 205.1L1027.4 207.3L1029.0 209.3L1030.6 211.2L1032.2 213.1L1033.8 214.8L1035.4 216.4L1037.0 218.0L1038.6 219.4" fill="none" stroke="#000" stroke-width="1.2" stroke-dasharray="12 3" stroke-dashoffset="9"/>
<path d="M783.3 102.9L784.9 112.9L786.5 123.3L788.1 133.9L789.7 144.4L791.3 154.5L792.9 164.1L794.5 173.4L796.1 182.0L797.7 189.9L799.3 196.9L800.9 203.2L802.4 208.8L804.0 213.7L805.6 218.0L807.2 221.8L808.8 225.2L810.4 228.0L812.0 230.4L813.6 232.5L815.2 234.3L816.8 235.9L818.4 237.2L820.0 238.4L821.6 239.4L823.2 240.2L824.8 240.9L826.4 241.5L828.0 242.0L829.6 242.3L831.2 242.6L832.8 242.8L834.4 242.9L836.0 243.0L837.6 242.9L839.1 242.8L840.7 242.7L842.3 242.5L843.9 242.2L845.5 241.9L847.1 241.5L848.7 241.0L850.3 240.5L851.9 239.9L853.5 239.3L855.1 238.6L856.7 237.9L858.3 237.1L859.9 236.2L861.5 235.3L863.1 234.3L864.7 233.2L866.3 232.1L867.9 230.9L869.5 229.6L871.1 228.3L872.7 226.8L874.3 225.3L875.8 223.7L877.4 222.0L879.0 220.3L880.6 218.4L882.2 216.4L883.8 214.3L885.4 212.1L887.0 209.9L888.6 207.4L890.2 204.9L891.8 202.3L893.4 199.5L895.0 196.6L896.6 193.6L898.2 190.4L899.8 187.1L901.4 183.7L903.0 180.1L904.6 176.4L906.2 172.5L907.8 168.5L909.4 164.4L910.9 160.1L912.5 155.8L914.1 151.3L915.7 146.6L917.3 141.9L918.9 137.2L920.5 132.3L922.1 127.4L923.7 122.6L925.3 117.7L926.9 112.9L928.5 108.3L930.1 103.8L931.7 99.5L933.3 95.5L934.9 92.0L936.5 88.8L938.1 86.2L939.7 84.2L941.3 82.9L942.9 82.4L944.5 82.7L946.1 84.0L947.6 86.1L949.2 89.3L950.8 93.4L952.4 98.4L954.0 104.2L955.6 110.7L957.2 117.7L958.8 125.3L960.4 133.1L962.0 141.0L963.6 148.9L965.2 156.6L966.8 164.1L968.4 171.2L970.0 177.9L971.6 184.2L973.2 190.0L974.8 195.3L976.4 200.2L978.0 204.6L979.6 208.6L981.2 212.2L982.8 215.4L984.3 218.2L985.9 220.8L987.5 223.0L989.1 225.0L990.7 226.8L992.3 228.4L993.9 229.7L995.5 230.9L997.1 231.9L998.7 232.8L1000.3 233.6L1001.9 234.2L1003.5 234.7L1005.1 235.1L1006.7 235.4L1008.3 235.6L1009.9 235.7L1011.5 235.8L1013.1 235.7L1014.7 235.6L1016.3 235.4L1017.9 235.2L1019.5 234.9L1021.0 234.5L1022.6 234.0L1024.2 233.5L1025.8 232.9L1027.4 232.2L1029.0 231.5L1030.6 230.7L1032.2 229.9L1033.8 228.9L1035.4 227.9L1037.0 226.9L1038.6 225.7" fill="none" stroke="#000" stroke-width="1.2" stroke-dasharray="6 4" stroke-dashoffset="12"/>
<path d="M783.3 104.6L784.9 94.7L786.5 85.8L788.1 78.1L789.7 71.6L791.3 66.4L792.9 62.4L794.5 60.3L796.1 59.9L797.7 60.4L799.3 61.9L800.9 64.2L802.4 67.3L804.0 71.2L805.6 75.6L807.2 80.6L808.8 86.1L810.4 91.7L812.0 97.6L813.6 103.6L815.2 109.6L816.8 115.7L818.4 121.7L820.0 127.6L821.6 133.3L823.2 138.9L824.8 144.4L826.4 149.6L828.0 154.7L829.6 159.6L831.2 164.2L832.8 168.7L834.4 173.0L836.0 177.1L837.6 181.0L839.1 184.8L840.7 188.3L842.3 191.7L843.9 194.9L845.5 198.0L847.1 200.9L848.7 203.6L850.3 206.2L851.9 208.7L853.5 211.0L855.1 213.2L856.7 215.3L858.3 217.3L859.9 219.2L861.5 220.9L863.1 222.6L864.7 224.1L866.3 225.6L867.9 227.0L869.5 228.2L871.1 229.4L872.7 230.6L874.3 231.6L875.8 232.6L877.4 233.5L879.0 234.3L880.6 235.1L882.2 235.8L883.8 236.4L885.4 237.0L887.0 237.5L888.6 238.0L890.2 238.4L891.8 238.7L893.4 239.0L895.0 239.2L896.6 239.4L898.2 239.4L899.8 239.5L901.4 239.4L903.0 239.3L904.6 239.1L906.2 238.9L907.8 238.5L909.4 238.1L910.9 237.5L912.5 236.9L914.1 236.2L915.7 235.3L917.3 234.3L918.9 233.2L920.5 231.9L922.1 230.4L923.7 228.7L925.3 226.9L926.9 224.7L928.5 222.4L930.1 219.7L931.7 216.7L933.3 213.4L934.9 209.6L936.5 205.5L938.1 201.0L939.7 196.0L941.3 190.5L942.9 184.5L944.5 178.1L946.1 171.3L947.6 164.0L949.2 156.5L950.8 148.7L952.4 140.7L954.0 132.9L955.6 125.1L957.2 117.7L958.8 110.8L960.4 104.5L962.0 98.9L963.6 94.2L965.2 90.3L966.8 87.5L968.4 85.5L970.0 84.5L971.6 84.4L973.2 85.1L974.8 86.5L976.4 88.6L978.0 91.3L979.6 94.5L981.2 98.1L982.8 102.1L984.3 106.3L985.9 110.7L987.5 115.3L989.1 119.9L990.7 124.6L992.3 129.4L993.9 134.1L995.5 138.8L997.1 143.4L998.7 147.9L1000.3 152.3L1001.9 156.6L1003.5 160.8L1005.1 164.8L1006.7 168.8L1008.3 172.5L1009.9 176.2L1011.5 179.7L1013.1 183.1L1014.7 186.3L1016.3 189.4L1017.9 192.3L1019.5 195.2L1021.0 197.8L1022.6 200.4L1024.2 202.9L1025.8 205.2L1027.4 207.4L1029.0 209.5L1030.6 211.5L1032.2 213.4L1033.8 215.2L1035.4 216.9L1037.0 218.4L1038.6 219.9" fill="none" stroke="#000" stroke-width="1.2" stroke-dasharray="6 4" stroke-dashoffset="12"/>
</g>
<path d="M783.3 28.0V261.3H1038.6" fill="none" stroke="#262626" stroke-width="1"/>
<path d="M783.3 261.3v-3.4" stroke="#262626" stroke-width="1"/>
<text x="782.5" y="285.0" font-size="17.5" text-anchor="middle" fill="#262626">0</text>
<path d="M847.1 261.3v-3.4" stroke="#262626" stroke-width="1"/>
<text x="846.3" y="285.0" font-size="17.5" text-anchor="middle" fill="#262626">5</text>
<path d="M910.9 261.3v-3.4" stroke="#262626" stroke-width="1"/>
<text x="910.1" y="285.0" font-size="17.5" text-anchor="middle" fill="#262626">10</text>
<path d="M974.8 261.3v-3.4" stroke="#262626" stroke-width="1"/>
<text x="974.0" y="285.0" font-size="17.5" text-anchor="middle" fill="#262626">15</text>
<path d="M1038.6 261.3v-3.4" stroke="#262626" stroke-width="1"/>
<text x="1037.8" y="285.0" font-size="17.5" text-anchor="middle" fill="#262626">20</text>
<text x="928.9" y="20.4" font-size="19.3" text-anchor="middle" fill="#000">Schober et al. (2019)</text>
<g clip-path="url(#clip3)">
<path d="M1138.3 104.7L1139.9 115.1L1141.5 125.9L1143.1 136.8L1144.7 147.4L1146.3 157.6L1147.9 167.1L1149.5 175.9L1151.1 184.0L1152.7 191.3L1154.3 197.7L1155.9 203.5L1157.5 208.5L1159.1 213.0L1160.7 216.9L1162.3 220.2L1163.8 223.2L1165.4 225.8L1167.0 228.0L1168.6 229.9L1170.2 231.6L1171.8 233.1L1173.4 234.3L1175.0 235.4L1176.6 236.3L1178.2 237.1L1179.8 237.8L1181.4 238.4L1183.0 238.9L1184.6 239.3L1186.2 239.6L1187.8 239.8L1189.4 240.0L1191.0 240.1L1192.6 240.2L1194.2 240.2L1195.8 240.1L1197.4 240.0L1199.0 239.8L1200.6 239.6L1202.2 239.4L1203.8 239.1L1205.4 238.8L1207.0 238.4L1208.6 237.9L1210.2 237.4L1211.8 236.9L1213.4 236.3L1215.0 235.7L1216.5 235.0L1218.1 234.3L1219.7 233.5L1221.3 232.6L1222.9 231.7L1224.5 230.7L1226.1 229.7L1227.7 228.6L1229.3 227.4L1230.9 226.2L1232.5 224.8L1234.1 223.4L1235.7 221.9L1237.3 220.3L1238.9 218.6L1240.5 216.8L1242.1 214.9L1243.7 212.9L1245.3 210.8L1246.9 208.6L1248.5 206.3L1250.1 203.8L1251.7 201.2L1253.3 198.4L1254.9 195.5L1256.5 192.4L1258.1 189.2L1259.7 185.9L1261.3 182.3L1262.9 178.6L1264.5 174.7L1266.0 170.6L1267.6 166.4L1269.2 161.9L1270.8 157.3L1272.4 152.5L1274.0 147.5L1275.6 142.3L1277.2 137.0L1278.8 131.5L1280.4 125.8L1282.0 120.1L1283.6 114.2L1285.2 108.3L1286.8 102.4L1288.4 96.5L1290.0 90.8L1291.6 85.2L1293.2 79.9L1294.8 75.0L1296.4 70.6L1298.0 66.9L1299.6 63.9L1301.2 61.9L1302.8 61.0L1304.4 61.4L1306.0 63.1L1307.6 66.3L1309.2 71.0L1310.8 77.1L1312.4 84.7L1314.0 93.4L1315.6 103.1L1317.1 113.5L1318.7 124.2L1320.3 135.1L1321.9 145.8L1323.5 156.0L1325.1 165.7L1326.7 174.6L1328.3 182.8L1329.9 190.2L1331.5 196.8L1333.1 202.6L1334.7 207.8L1336.3 212.3L1337.9 216.3L1339.5 219.7L1341.1 222.8L1342.7 225.4L1344.3 227.7L1345.9 229.6L1347.5 231.4L1349.1 232.8L1350.7 234.1L1352.3 235.2L1353.9 236.2L1355.5 237.0L1357.1 237.7L1358.7 238.3L1360.3 238.8L1361.9 239.2L1363.5 239.5L1365.1 239.8L1366.7 240.0L1368.2 240.1L1369.8 240.2L1371.4 240.2L1373.0 240.1L1374.6 240.0L1376.2 239.9L1377.8 239.7L1379.4 239.4L1381.0 239.1L1382.6 238.8L1384.2 238.4L1385.8 238.0L1387.4 237.5L1389.0 237.0L1390.6 236.4L1392.2 235.8L1393.8 235.1" fill="none" stroke="#f00" stroke-opacity="0.3" stroke-width="4.2"/>
<path d="M1138.3 104.7L1139.9 94.8L1141.5 85.9L1143.1 78.2L1144.7 71.8L1146.3 66.9L1147.9 63.5L1149.5 61.5L1151.1 61.0L1152.7 61.7L1154.3 63.5L1155.9 66.3L1157.5 70.0L1159.1 74.3L1160.7 79.1L1162.3 84.3L1163.8 89.9L1165.4 95.6L1167.0 101.5L1168.6 107.4L1170.2 113.3L1171.8 119.1L1173.4 124.9L1175.0 130.6L1176.6 136.1L1178.2 141.5L1179.8 146.7L1181.4 151.7L1183.0 156.6L1184.6 161.2L1186.2 165.7L1187.8 170.0L1189.4 174.1L1191.0 178.0L1192.6 181.7L1194.2 185.3L1195.8 188.7L1197.4 191.9L1199.0 195.0L1200.6 198.0L1202.2 200.7L1203.8 203.4L1205.4 205.9L1207.0 208.2L1208.6 210.5L1210.2 212.6L1211.8 214.6L1213.4 216.5L1215.0 218.3L1216.5 220.0L1218.1 221.7L1219.7 223.2L1221.3 224.6L1222.9 226.0L1224.5 227.2L1226.1 228.4L1227.7 229.5L1229.3 230.6L1230.9 231.6L1232.5 232.5L1234.1 233.4L1235.7 234.2L1237.3 234.9L1238.9 235.6L1240.5 236.2L1242.1 236.8L1243.7 237.4L1245.3 237.9L1246.9 238.3L1248.5 238.7L1250.1 239.0L1251.7 239.4L1253.3 239.6L1254.9 239.8L1256.5 240.0L1258.1 240.1L1259.7 240.2L1261.3 240.2L1262.9 240.1L1264.5 240.0L1266.0 239.9L1267.6 239.6L1269.2 239.3L1270.8 238.9L1272.4 238.5L1274.0 237.9L1275.6 237.3L1277.2 236.5L1278.8 235.6L1280.4 234.5L1282.0 233.3L1283.6 231.8L1285.2 230.2L1286.8 228.3L1288.4 226.1L1290.0 223.6L1291.6 220.7L1293.2 217.4L1294.8 213.6L1296.4 209.3L1298.0 204.3L1299.6 198.7L1301.2 192.3L1302.8 185.2L1304.4 177.3L1306.0 168.5L1307.6 159.1L1309.2 149.0L1310.8 138.5L1312.4 127.6L1314.0 116.8L1315.6 106.3L1317.1 96.3L1318.7 87.3L1320.3 79.3L1321.9 72.7L1323.5 67.6L1325.1 63.9L1326.7 61.8L1328.3 61.0L1329.9 61.5L1331.5 63.2L1333.1 65.8L1334.7 69.4L1336.3 73.6L1337.9 78.3L1339.5 83.5L1341.1 89.0L1342.7 94.7L1344.3 100.5L1345.9 106.5L1347.5 112.4L1349.1 118.2L1350.7 124.0L1352.3 129.7L1353.9 135.3L1355.5 140.6L1357.1 145.9L1358.7 150.9L1360.3 155.8L1361.9 160.5L1363.5 165.0L1365.1 169.3L1366.7 173.4L1368.2 177.4L1369.8 181.2L1371.4 184.8L1373.0 188.2L1374.6 191.4L1376.2 194.6L1377.8 197.5L1379.4 200.3L1381.0 203.0L1382.6 205.5L1384.2 207.9L1385.8 210.1L1387.4 212.3L1389.0 214.3L1390.6 216.3L1392.2 218.1L1393.8 219.8" fill="none" stroke="#f00" stroke-opacity="0.3" stroke-width="4.2"/>
<path d="M1138.3 104.7L1139.9 115.1L1141.5 125.9L1143.1 136.8L1144.7 147.4L1146.3 157.6L1147.9 167.1L1149.5 175.9L1151.1 184.0L1152.7 191.3L1154.3 197.7L1155.9 203.5L1157.5 208.5L1159.1 213.0L1160.7 216.9L1162.3 220.2L1163.8 223.2L1165.4 225.8L1167.0 228.0L1168.6 229.9L1170.2 231.6L1171.8 233.1L1173.4 234.3L1175.0 235.4L1176.6 236.3L1178.2 237.1L1179.8 237.8L1181.4 238.4L1183.0 238.9L1184.6 239.3L1186.2 239.6L1187.8 239.8L1189.4 240.0L1191.0 240.1L1192.6 240.2L1194.2 240.2L1195.8 240.1L1197.4 240.0L1199.0 239.8L1200.6 239.6L1202.2 239.4L1203.8 239.1L1205.4 238.8L1207.0 238.4L1208.6 237.9L1210.2 237.4L1211.8 236.9L1213.4 236.3L1215.0 235.7L1216.5 235.0L1218.1 234.3L1219.7 233.5L1221.3 232.6L1222.9 231.7L1224.5 230.7L1226.1 229.7L1227.7 228.6L1229.3 227.4L1230.9 226.2L1232.5 224.8L1234.1 223.4L1235.7 221.9L1237.3 220.3L1238.9 218.6L1240.5 216.8L1242.1 214.9L1243.7 212.9L1245.3 210.8L1246.9 208.6L1248.5 206.3L1250.1 203.8L1251.7 201.2L1253.3 198.4L1254.9 195.5L1256.5 192.4L1258.1 189.2L1259.7 185.9L1261.3 182.3L1262.9 178.6L1264.5 174.7L1266.0 170.6L1267.6 166.4L1269.2 161.9L1270.8 157.3L1272.4 152.5L1274.0 147.5L1275.6 142.3L1277.2 137.0L1278.8 131.5L1280.4 125.8L1282.0 120.1L1283.6 114.2L1285.2 108.3L1286.8 102.4L1288.4 96.5L1290.0 90.8L1291.6 85.2L1293.2 79.9L1294.8 75.0L1296.4 70.6L1298.0 66.9L1299.6 63.9L1301.2 61.9L1302.8 61.0L1304.4 61.4L1306.0 63.1L1307.6 66.3L1309.2 71.0L1310.8 77.1L1312.4 84.7L1314.0 93.4L1315.6 103.1L1317.1 113.5L1318.7 124.2L1320.3 135.1L1321.9 145.8L1323.5 156.0L1325.1 165.7L1326.7 174.6L1328.3 182.8L1329.9 190.2L1331.5 196.8L1333.1 202.6L1334.7 207.8L1336.3 212.3L1337.9 216.3L1339.5 219.7L1341.1 222.8L1342.7 225.4L1344.3 227.7L1345.9 229.6L1347.5 231.4L1349.1 232.8L1350.7 234.1L1352.3 235.2L1353.9 236.2L1355.5 237.0L1357.1 237.7L1358.7 238.3L1360.3 238.8L1361.9 239.2L1363.5 239.5L1365.1 239.8L1366.7 240.0L1368.2 240.1L1369.8 240.2L1371.4 240.2L1373.0 240.1L1374.6 240.0L1376.2 239.9L1377.8 239.7L1379.4 239.4L1381.0 239.1L1382.6 238.8L1384.2 238.4L1385.8 238.0L1387.4 237.5L1389.0 237.0L1390.6 236.4L1392.2 235.8L1393.8 235.1" fill="none" stroke="#2a0404" stroke-width="2.5" stroke-dasharray="17 10"/>
<path d="M1138.3 104.7L1139.9 94.8L1141.5 85.9L1143.1 78.2L1144.7 71.8L1146.3 66.9L1147.9 63.5L1149.5 61.5L1151.1 61.0L1152.7 61.7L1154.3 63.5L1155.9 66.3L1157.5 70.0L1159.1 74.3L1160.7 79.1L1162.3 84.3L1163.8 89.9L1165.4 95.6L1167.0 101.5L1168.6 107.4L1170.2 113.3L1171.8 119.1L1173.4 124.9L1175.0 130.6L1176.6 136.1L1178.2 141.5L1179.8 146.7L1181.4 151.7L1183.0 156.6L1184.6 161.2L1186.2 165.7L1187.8 170.0L1189.4 174.1L1191.0 178.0L1192.6 181.7L1194.2 185.3L1195.8 188.7L1197.4 191.9L1199.0 195.0L1200.6 198.0L1202.2 200.7L1203.8 203.4L1205.4 205.9L1207.0 208.2L1208.6 210.5L1210.2 212.6L1211.8 214.6L1213.4 216.5L1215.0 218.3L1216.5 220.0L1218.1 221.7L1219.7 223.2L1221.3 224.6L1222.9 226.0L1224.5 227.2L1226.1 228.4L1227.7 229.5L1229.3 230.6L1230.9 231.6L1232.5 232.5L1234.1 233.4L1235.7 234.2L1237.3 234.9L1238.9 235.6L1240.5 236.2L1242.1 236.8L1243.7 237.4L1245.3 237.9L1246.9 238.3L1248.5 238.7L1250.1 239.0L1251.7 239.4L1253.3 239.6L1254.9 239.8L1256.5 240.0L1258.1 240.1L1259.7 240.2L1261.3 240.2L1262.9 240.1L1264.5 240.0L1266.0 239.9L1267.6 239.6L1269.2 239.3L1270.8 238.9L1272.4 238.5L1274.0 237.9L1275.6 237.3L1277.2 236.5L1278.8 235.6L1280.4 234.5L1282.0 233.3L1283.6 231.8L1285.2 230.2L1286.8 228.3L1288.4 226.1L1290.0 223.6L1291.6 220.7L1293.2 217.4L1294.8 213.6L1296.4 209.3L1298.0 204.3L1299.6 198.7L1301.2 192.3L1302.8 185.2L1304.4 177.3L1306.0 168.5L1307.6 159.1L1309.2 149.0L1310.8 138.5L1312.4 127.6L1314.0 116.8L1315.6 106.3L1317.1 96.3L1318.7 87.3L1320.3 79.3L1321.9 72.7L1323.5 67.6L1325.1 63.9L1326.7 61.8L1328.3 61.0L1329.9 61.5L1331.5 63.2L1333.1 65.8L1334.7 69.4L1336.3 73.6L1337.9 78.3L1339.5 83.5L1341.1 89.0L1342.7 94.7L1344.3 100.5L1345.9 106.5L1347.5 112.4L1349.1 118.2L1350.7 124.0L1352.3 129.7L1353.9 135.3L1355.5 140.6L1357.1 145.9L1358.7 150.9L1360.3 155.8L1361.9 160.5L1363.5 165.0L1365.1 169.3L1366.7 173.4L1368.2 177.4L1369.8 181.2L1371.4 184.8L1373.0 188.2L1374.6 191.4L1376.2 194.6L1377.8 197.5L1379.4 200.3L1381.0 203.0L1382.6 205.5L1384.2 207.9L1385.8 210.1L1387.4 212.3L1389.0 214.3L1390.6 216.3L1392.2 218.1L1393.8 219.8" fill="none" stroke="#2a0404" stroke-width="2.5" stroke-dasharray="17 10"/>
</g>
<path d="M1138.3 28.0V261.3H1393.8" fill="none" stroke="#262626" stroke-width="1"/>
<path d="M1138.3 261.3v-3.4" stroke="#262626" stroke-width="1"/>
<text x="1137.5" y="285.0" font-size="17.5" text-anchor="middle" fill="#262626">0</text>
<path d="M1202.2 261.3v-3.4" stroke="#262626" stroke-width="1"/>
<text x="1201.4" y="285.0" font-size="17.5" text-anchor="middle" fill="#262626">5</text>
<path d="M1266.0 261.3v-3.4" stroke="#262626" stroke-width="1"/>
<text x="1265.2" y="285.0" font-size="17.5" text-anchor="middle" fill="#262626">10</text>
<path d="M1329.9 261.3v-3.4" stroke="#262626" stroke-width="1"/>
<text x="1329.1" y="285.0" font-size="17.5" text-anchor="middle" fill="#262626">15</text>
<path d="M1393.8 261.3v-3.4" stroke="#262626" stroke-width="1"/>
<text x="1393.0" y="285.0" font-size="17.5" text-anchor="middle" fill="#262626">20</text>
<text x="1266.7" y="20.4" font-size="19.3" text-anchor="middle" fill="#000">BBPN</text>
<g stroke-linejoin="round">
<path d="M72.3 370.5 L194.5 382.3 L316.7 387.7 L438.9 388.7 L561.1 389.3 L683.3 390.0" fill="none" stroke="#0072BD" stroke-width="3"/>
<path d="M194.5 372.1 L316.7 392.3 L438.9 416.5 L561.1 441.9 L683.3 467.3" fill="none" stroke="#D95319" stroke-width="3"/>
<path d="M72.3 403.4 L194.5 458.6 L316.7 501.7 L438.9 557.7 L561.1 606.4 L683.3 656.5" fill="none" stroke="#EDB120" stroke-width="3"/>
<path d="M72.3 412.9 L194.5 465.0 L316.7 513.2 L438.9 566.6 L561.1 617.2 L683.3 668.5" fill="none" stroke="#7E2F8E" stroke-width="3"/>
<path d="M72.3 571.8 L194.5 655.7 L316.7 736.1 L438.9 771.0 L561.1 775.1 L683.3 775.3" fill="none" stroke="#77AC30" stroke-width="3"/>
<path d="M72.3 409.3 L194.5 436.2 L316.7 488.9 L438.9 526.1 L561.1 587.7 L683.3 634.7" fill="none" stroke="#4DBEEE" stroke-width="3"/>
<path d="M194.5 357.9 L316.7 382.3 L438.9 421.9 L561.1 470.9 L683.3 522.5" fill="none" stroke="#A2142F" stroke-width="3"/>
<path d="M194.5 446.0 L316.7 527.4 L438.9 599.0 L561.1 676.0 L683.3 749.7" fill="none" stroke="#0072BD" stroke-width="3"/>
<path d="M72.3 336.6 L194.5 372.1 L316.7 392.3 L438.9 416.5 L561.1 441.9 L683.3 467.3" fill="none" stroke="#000" stroke-width="2" stroke-dasharray="16.5 10.5"/>
</g>
<path d="M72.3 306.0V820.3H683.3" fill="none" stroke="#262626" stroke-width="1"/>
<path d="M72.3 820.3v-6" stroke="#262626" stroke-width="1"/>
<text x="72.3" y="843.8" font-size="17.5" text-anchor="middle" fill="#262626">-1</text>
<path d="M133.4 820.3v-6" stroke="#262626" stroke-width="1"/>
<text x="133.4" y="843.8" font-size="17.5" text-anchor="middle" fill="#262626">-1.5</text>
<path d="M194.5 820.3v-6" stroke="#262626" stroke-width="1"/>
<text x="194.5" y="843.8" font-size="17.5" text-anchor="middle" fill="#262626">-2</text>
<path d="M255.6 820.3v-6" stroke="#262626" stroke-width="1"/>
<text x="255.6" y="843.8" font-size="17.5" text-anchor="middle" fill="#262626">-2.5</text>
<path d="M316.7 820.3v-6" stroke="#262626" stroke-width="1"/>
<text x="316.7" y="843.8" font-size="17.5" text-anchor="middle" fill="#262626">-3</text>
<path d="M377.8 820.3v-6" stroke="#262626" stroke-width="1"/>
<text x="377.8" y="843.8" font-size="17.5" text-anchor="middle" fill="#262626">-3.5</text>
<path d="M438.9 820.3v-6" stroke="#262626" stroke-width="1"/>
<text x="438.9" y="843.8" font-size="17.5" text-anchor="middle" fill="#262626">-4</text>
<path d="M500.0 820.3v-6" stroke="#262626" stroke-width="1"/>
<text x="500.0" y="843.8" font-size="17.5" text-anchor="middle" fill="#262626">-4.5</text>
<path d="M561.1 820.3v-6" stroke="#262626" stroke-width="1"/>
<text x="561.1" y="843.8" font-size="17.5" text-anchor="middle" fill="#262626">-5</text>
<path d="M622.2 820.3v-6" stroke="#262626" stroke-width="1"/>
<text x="622.2" y="843.8" font-size="17.5" text-anchor="middle" fill="#262626">-5.5</text>
<path d="M683.3 820.3v-6" stroke="#262626" stroke-width="1"/>
<text x="683.3" y="843.8" font-size="17.5" text-anchor="middle" fill="#262626">-6</text>
<path d="M72.3 306.6h6" stroke="#262626" stroke-width="1"/>
<text x="63.8" y="313.5" font-size="17" text-anchor="end" fill="#262626">4</text>
<path d="M72.3 357.9h6" stroke="#262626" stroke-width="1"/>
<text x="63.8" y="364.8" font-size="17" text-anchor="end" fill="#262626">2</text>
<path d="M72.3 409.3h6" stroke="#262626" stroke-width="1"/>
<text x="63.8" y="416.2" font-size="17" text-anchor="end" fill="#262626">0</text>
<path d="M72.3 460.6h6" stroke="#262626" stroke-width="1"/>
<text x="63.8" y="467.5" font-size="17" text-anchor="end" fill="#262626">-2</text>
<path d="M72.3 512.0h6" stroke="#262626" stroke-width="1"/>
<text x="63.8" y="518.9" font-size="17" text-anchor="end" fill="#262626">-4</text>
<path d="M72.3 563.3h6" stroke="#262626" stroke-width="1"/>
<text x="63.8" y="570.2" font-size="17" text-anchor="end" fill="#262626">-6</text>
<path d="M72.3 614.6h6" stroke="#262626" stroke-width="1"/>
<text x="63.8" y="621.5" font-size="17" text-anchor="end" fill="#262626">-8</text>
<path d="M72.3 666.0h6" stroke="#262626" stroke-width="1"/>
<text x="63.8" y="672.9" font-size="17" text-anchor="end" fill="#262626">-10</text>
<path d="M72.3 717.3h6" stroke="#262626" stroke-width="1"/>
<text x="63.8" y="724.2" font-size="17" text-anchor="end" fill="#262626">-12</text>
<path d="M72.3 768.7h6" stroke="#262626" stroke-width="1"/>
<text x="63.8" y="775.6" font-size="17" text-anchor="end" fill="#262626">-14</text>
<path d="M72.3 820.0h6" stroke="#262626" stroke-width="1"/>
<text x="63.8" y="826.9" font-size="17" text-anchor="end" fill="#262626">-16</text>
<rect x="85.3" y="624.8" width="143.4" height="181.2" fill="#fff" stroke="#262626" stroke-width="1"/>
<path d="M92.5 637.0H145.5" stroke="#0072BD" stroke-width="3"/>
<text x="150.8" y="642.2" font-size="15.5" text-anchor="start" fill="#000">Chkr.</text>
<path d="M92.5 656.5H145.5" stroke="#D95319" stroke-width="3"/>
<text x="150.8" y="661.8" font-size="15.5" text-anchor="start" fill="#000">Conr. O1</text>
<path d="M92.5 676.1H145.5" stroke="#EDB120" stroke-width="3"/>
<text x="150.8" y="681.3" font-size="15.5" text-anchor="start" fill="#000">Teym. O2</text>
<path d="M92.5 695.6H145.5" stroke="#7E2F8E" stroke-width="3"/>
<text x="150.8" y="700.9" font-size="15.5" text-anchor="start" fill="#000">Scho. O1</text>
<path d="M92.5 715.2H145.5" stroke="#77AC30" stroke-width="3"/>
<text x="150.8" y="720.4" font-size="15.5" text-anchor="start" fill="#000">Tron. O2</text>
<path d="M92.5 734.8H145.5" stroke="#4DBEEE" stroke-width="3"/>
<text x="150.8" y="740.0" font-size="15.5" text-anchor="start" fill="#000">Bosch O2</text>
<path d="M92.5 754.3H145.5" stroke="#A2142F" stroke-width="3"/>
<text x="150.8" y="759.5" font-size="15.5" text-anchor="start" fill="#000">BBPN O1</text>
<path d="M92.5 773.9H145.5" stroke="#0072BD" stroke-width="3"/>
<text x="150.8" y="779.1" font-size="15.5" text-anchor="start" fill="#000">BBPN O2</text>
<path d="M92.5 793.4H145.5" stroke="#000" stroke-width="2" stroke-dasharray="17 10"/>
<text x="150.8" y="798.6" font-size="15.5" text-anchor="start" fill="#000">Euler</text>
<g stroke-linejoin="round">
<path d="M783.3 566.6 L905.4 528.2 L1027.5 482.5 L1149.6 441.8 L1271.7 388.4 L1393.8 345.5" fill="none" stroke="#0072BD" stroke-width="3"/>
<path d="M905.4 576.5 L1027.5 582.4 L1149.6 587.5 L1271.7 587.5 L1393.8 585.0" fill="none" stroke="#D95319" stroke-width="3"/>
<path d="M783.3 615.3 L905.4 616.0 L1027.5 611.0 L1149.6 612.6 L1271.7 612.6 L1393.8 613.3" fill="none" stroke="#EDB120" stroke-width="3"/>
<path d="M783.3 672.5 L905.4 683.3 L1027.5 694.2 L1149.6 707.6 L1271.7 717.4 L1393.8 726.8" fill="none" stroke="#7E2F8E" stroke-width="3"/>
<path d="M783.3 706.5 L905.4 726.4 L1027.5 739.7 L1149.6 713.8 L1271.7 658.9 L1393.8 604.1" fill="none" stroke="#77AC30" stroke-width="3"/>
<path d="M783.3 648.4 L905.4 622.9 L1027.5 646.8 L1149.6 654.9 L1271.7 683.3 L1393.8 702.1" fill="none" stroke="#4DBEEE" stroke-width="3"/>
<path d="M905.4 636.4 L1027.5 632.1 L1149.6 636.1 L1271.7 644.4 L1393.8 653.2" fill="none" stroke="#A2142F" stroke-width="3"/>
<path d="M905.4 667.5 L1027.5 685.9 L1149.6 693.0 L1271.7 698.5 L1393.8 703.2" fill="none" stroke="#0072BD" stroke-width="3"/>
</g>
<clipPath id="hclip"><rect x="783.3" y="615.8" width="610.5" height="82.1"/></clipPath>
<path d="M630.2 615.8L521.3 697.9M647.3 615.8L538.4 697.9M664.4 615.8L555.5 697.9M681.5 615.8L572.6 697.9M698.6 615.8L589.7 697.9M715.7 615.8L606.8 697.9M732.8 615.8L623.9 697.9M749.9 615.8L641.0 697.9M767.0 615.8L658.1 697.9M784.1 615.8L675.2 697.9M801.2 615.8L692.3 697.9M818.3 615.8L709.4 697.9M835.4 615.8L726.5 697.9M852.5 615.8L743.6 697.9M869.6 615.8L760.7 697.9M886.7 615.8L777.8 697.9M903.8 615.8L794.9 697.9M920.9 615.8L812.0 697.9M938.0 615.8L829.1 697.9M955.1 615.8L846.2 697.9M972.2 615.8L863.3 697.9M989.3 615.8L880.4 697.9M1006.4 615.8L897.5 697.9M1023.5 615.8L914.6 697.9M1040.6 615.8L931.7 697.9M1057.7 615.8L948.8 697.9M1074.8 615.8L965.9 697.9M1091.9 615.8L983.0 697.9M1109.0 615.8L1000.1 697.9M1126.1 615.8L1017.2 697.9M1143.2 615.8L1034.3 697.9M1160.3 615.8L1051.4 697.9M1177.4 615.8L1068.5 697.9M1194.5 615.8L1085.6 697.9M1211.6 615.8L1102.7 697.9M1228.7 615.8L1119.8 697.9M1245.8 615.8L1136.9 697.9M1262.9 615.8L1154.0 697.9M1280.0 615.8L1171.1 697.9M1297.1 615.8L1188.2 697.9M1314.2 615.8L1205.3 697.9M1331.3 615.8L1222.4 697.9M1348.4 615.8L1239.5 697.9M1365.5 615.8L1256.6 697.9M1382.6 615.8L1273.7 697.9M1399.7 615.8L1290.8 697.9M1416.8 615.8L1307.9 697.9M1433.9 615.8L1325.0 697.9M1451.0 615.8L1342.1 697.9M1468.1 615.8L1359.2 697.9M1485.2 615.8L1376.3 697.9M1502.3 615.8L1393.4 697.9M1519.4 615.8L1410.5 697.9M1536.5 615.8L1427.6 697.9M1553.6 615.8L1444.7 697.9" stroke="#000" stroke-width="1" clip-path="url(#hclip)"/>
<path d="M783.3 306.0V820.3H1393.8" fill="none" stroke="#262626" stroke-width="1"/>
<path d="M783.3 820.3v-6" stroke="#262626" stroke-width="1"/>
<text x="783.3" y="843.8" font-size="17.5" text-anchor="middle" fill="#262626">-1</text>
<path d="M844.3 820.3v-6" stroke="#262626" stroke-width="1"/>
<text x="844.3" y="843.8" font-size="17.5" text-anchor="middle" fill="#262626">-1.5</text>
<path d="M905.4 820.3v-6" stroke="#262626" stroke-width="1"/>
<text x="905.4" y="843.8" font-size="17.5" text-anchor="middle" fill="#262626">-2</text>
<path d="M966.4 820.3v-6" stroke="#262626" stroke-width="1"/>
<text x="966.4" y="843.8" font-size="17.5" text-anchor="middle" fill="#262626">-2.5</text>
<path d="M1027.5 820.3v-6" stroke="#262626" stroke-width="1"/>
<text x="1027.5" y="843.8" font-size="17.5" text-anchor="middle" fill="#262626">-3</text>
<path d="M1088.5 820.3v-6" stroke="#262626" stroke-width="1"/>
<text x="1088.5" y="843.8" font-size="17.5" text-anchor="middle" fill="#262626">-3.5</text>
<path d="M1149.6 820.3v-6" stroke="#262626" stroke-width="1"/>
<text x="1149.6" y="843.8" font-size="17.5" text-anchor="middle" fill="#262626">-4</text>
<path d="M1210.7 820.3v-6" stroke="#262626" stroke-width="1"/>
<text x="1210.7" y="843.8" font-size="17.5" text-anchor="middle" fill="#262626">-4.5</text>
<path d="M1271.7 820.3v-6" stroke="#262626" stroke-width="1"/>
<text x="1271.7" y="843.8" font-size="17.5" text-anchor="middle" fill="#262626">-5</text>
<path d="M1332.8 820.3v-6" stroke="#262626" stroke-width="1"/>
<text x="1332.8" y="843.8" font-size="17.5" text-anchor="middle" fill="#262626">-5.5</text>
<path d="M1393.8 820.3v-6" stroke="#262626" stroke-width="1"/>
<text x="1393.8" y="843.8" font-size="17.5" text-anchor="middle" fill="#262626">-6</text>
<path d="M783.3 306.0h6" stroke="#262626" stroke-width="1"/>
<text x="775.3" y="312.6" font-size="17" text-anchor="end" fill="#262626">30</text>
<path d="M783.3 363.1h6" stroke="#262626" stroke-width="1"/>
<text x="775.3" y="369.7" font-size="17" text-anchor="end" fill="#262626">25</text>
<path d="M783.3 420.3h6" stroke="#262626" stroke-width="1"/>
<text x="775.3" y="426.9" font-size="17" text-anchor="end" fill="#262626">20</text>
<path d="M783.3 477.4h6" stroke="#262626" stroke-width="1"/>
<text x="775.3" y="484.0" font-size="17" text-anchor="end" fill="#262626">15</text>
<path d="M783.3 534.6h6" stroke="#262626" stroke-width="1"/>
<text x="775.3" y="541.2" font-size="17" text-anchor="end" fill="#262626">10</text>
<path d="M783.3 591.7h6" stroke="#262626" stroke-width="1"/>
<text x="775.3" y="598.3" font-size="17" text-anchor="end" fill="#262626">5</text>
<path d="M783.3 648.9h6" stroke="#262626" stroke-width="1"/>
<text x="775.3" y="655.5" font-size="17" text-anchor="end" fill="#262626">0</text>
<path d="M783.3 706.0h6" stroke="#262626" stroke-width="1"/>
<text x="775.3" y="712.6" font-size="17" text-anchor="end" fill="#262626">-5</text>
<path d="M783.3 763.2h6" stroke="#262626" stroke-width="1"/>
<text x="775.3" y="769.8" font-size="17" text-anchor="end" fill="#262626">-10</text>
<path d="M783.3 820.3h6" stroke="#262626" stroke-width="1"/>
<text x="775.3" y="826.9" font-size="17" text-anchor="end" fill="#262626">-15</text>
<text x="1027.0" y="519.0" font-size="17.5" text-anchor="start" fill="#000" textLength="145.5" lengthAdjust="spacingAndGlyphs">OVERCONFIDENT</text>
<text x="1150.3" y="769.5" font-size="17.5" text-anchor="start" fill="#000" textLength="159" lengthAdjust="spacingAndGlyphs">UNDERCONFIDENT</text>
<text x="354" y="867.9" font-size="19" fill="#262626">log<tspan font-size="15.5" dx="1.2" dy="9.6">2</tspan><tspan dx="1.2" dy="-9.6">h</tspan></text>
<text x="1065" y="867.9" font-size="19" fill="#262626">log<tspan font-size="15.5" dx="1.2" dy="9.6">2</tspan><tspan dx="1.2" dy="-9.6">h</tspan></text>
<text transform="translate(19.2 592.8) rotate(-90)" font-size="19" fill="#262626">log<tspan font-size="15.5" dx="1.2" dy="9.6">2</tspan><tspan dx="1.2" dy="-9.6"> W</tspan></text>
<text transform="translate(730.2 594.2) rotate(-90)" font-size="19" fill="#262626">log<tspan font-size="15.5" dx="1.2" dy="9.6">2</tspan><tspan dx="1.2" dy="-9.6"> S</tspan><tspan font-size="15.5" dx="1" dy="-8.5">2</tspan></text>
</svg></body></html>
